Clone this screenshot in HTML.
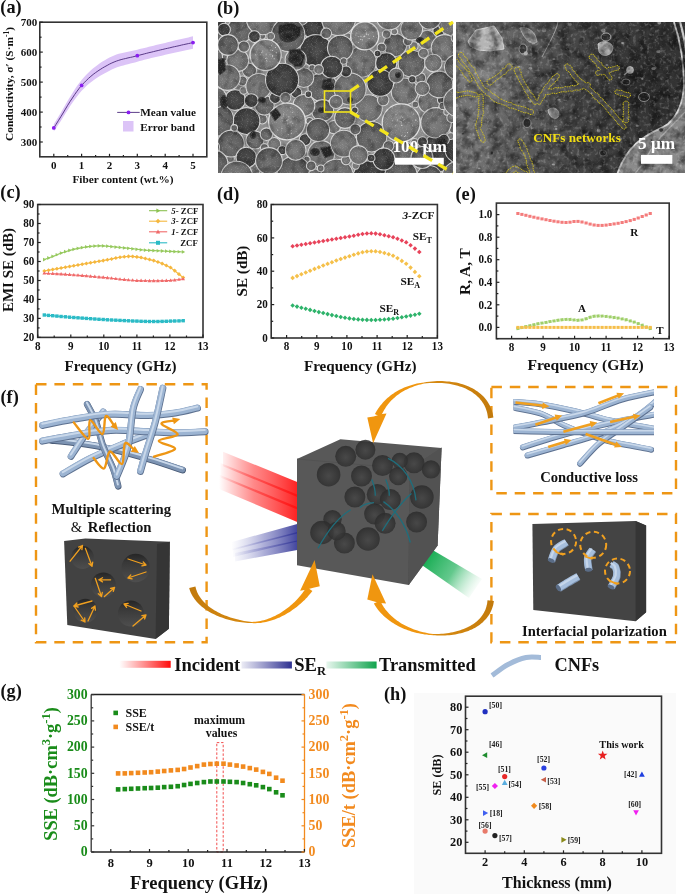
<!DOCTYPE html>
<html><head><meta charset="utf-8"><style>
html,body{margin:0;padding:0;background:#fff;overflow:hidden;}
svg{display:block;}
text{font-family:'Liberation Serif','Times New Roman',serif;}
</style></head><body>
<svg width="685" height="894" viewBox="0 0 685 894">
<rect width="685" height="894" fill="#fff"/>
<text x="0.3" y="13.3" font-size="18.3" text-anchor="start" fill="#111" font-weight="bold" >(a)</text>
<path d="M53.8,124.3 L56.1,120.6 L58.4,116.7 L60.8,112.7 L63.1,108.8 L65.4,104.8 L67.7,100.8 L70.0,96.9 L72.4,93.2 L74.7,89.6 L77.0,86.1 L79.3,82.9 L81.6,80.0 L84.0,77.3 L86.3,74.8 L88.6,72.5 L90.9,70.3 L93.2,68.3 L95.6,66.5 L97.9,64.7 L100.2,63.1 L102.5,61.6 L104.8,60.2 L107.2,58.8 L109.5,57.5 L111.8,56.4 L114.1,55.4 L116.4,54.5 L118.8,53.8 L121.1,53.2 L123.4,52.7 L125.7,52.2 L128.0,51.7 L130.4,51.3 L132.7,50.8 L135.0,50.3 L137.3,49.7 L139.6,49.1 L142.0,48.5 L144.3,48.0 L146.6,47.4 L148.9,46.8 L151.2,46.2 L153.6,45.7 L155.9,45.1 L158.2,44.5 L160.5,44.0 L162.8,43.4 L165.2,42.9 L167.5,42.3 L169.8,41.7 L172.1,41.2 L174.4,40.6 L176.8,40.1 L179.1,39.5 L181.4,39.0 L183.7,38.4 L186.0,37.9 L188.4,37.4 L190.7,36.8 L193.0,36.3 L193.0,48.8 L190.7,49.3 L188.4,49.8 L186.0,50.3 L183.7,50.8 L181.4,51.3 L179.1,51.8 L176.8,52.3 L174.4,52.8 L172.1,53.3 L169.8,53.8 L167.5,54.3 L165.2,54.8 L162.8,55.4 L160.5,55.9 L158.2,56.4 L155.9,57.0 L153.6,57.5 L151.2,58.1 L148.9,58.7 L146.6,59.2 L144.3,59.8 L142.0,60.4 L139.6,61.1 L137.3,61.7 L135.0,62.4 L132.7,63.0 L130.4,63.6 L128.0,64.2 L125.7,64.8 L123.4,65.4 L121.1,66.1 L118.8,66.8 L116.4,67.6 L114.1,68.6 L111.8,69.6 L109.5,70.7 L107.2,71.9 L104.8,73.2 L102.5,74.5 L100.2,75.8 L97.9,77.2 L95.6,78.8 L93.2,80.4 L90.9,82.2 L88.6,84.1 L86.3,86.1 L84.0,88.4 L81.6,90.8 L79.3,93.5 L77.0,96.4 L74.7,99.5 L72.4,102.8 L70.0,106.3 L67.7,109.9 L65.4,113.5 L63.1,117.2 L60.8,120.9 L58.4,124.5 L56.1,128.1 L53.8,131.5 Z" fill="#dcc4f7"/>
<path d="M53.8,127.9 L56.1,124.3 L58.4,120.6 L60.8,116.8 L63.1,113.0 L65.4,109.1 L67.7,105.3 L70.0,101.6 L72.4,98.0 L74.7,94.5 L77.0,91.3 L79.3,88.2 L81.6,85.4 L84.0,82.8 L86.3,80.5 L88.6,78.3 L90.9,76.3 L93.2,74.4 L95.6,72.6 L97.9,71.0 L100.2,69.5 L102.5,68.0 L104.8,66.7 L107.2,65.4 L109.5,64.1 L111.8,63.0 L114.1,62.0 L116.4,61.1 L118.8,60.3 L121.1,59.6 L123.4,59.0 L125.7,58.5 L128.0,57.9 L130.4,57.4 L132.7,56.9 L135.0,56.3 L137.3,55.7 L139.6,55.1 L142.0,54.5 L144.3,53.9 L146.6,53.3 L148.9,52.7 L151.2,52.2 L153.6,51.6 L155.9,51.0 L158.2,50.5 L160.5,49.9 L162.8,49.4 L165.2,48.8 L167.5,48.3 L169.8,47.8 L172.1,47.2 L174.4,46.7 L176.8,46.2 L179.1,45.7 L181.4,45.1 L183.7,44.6 L186.0,44.1 L188.4,43.6 L190.7,43.1 L193.0,42.6" fill="none" stroke="#4b2a7a" stroke-width="0.9"/>
<circle cx="53.8" cy="127.9" r="1.9" fill="#8a1ef0"/>
<circle cx="81.6" cy="85.4" r="1.9" fill="#8a1ef0"/>
<circle cx="137.3" cy="55.7" r="1.9" fill="#8a1ef0"/>
<circle cx="193.0" cy="42.6" r="1.9" fill="#8a1ef0"/>
<rect x="39.8" y="22.2" width="167.0" height="134.6" fill="none" stroke="#333" stroke-width="1.6" />
<line x1="53.8" y1="156.8" x2="53.8" y2="153.8" stroke="#222" stroke-width="1.2" />
<text x="53.8" y="169.0" font-size="11" text-anchor="middle" fill="#111" font-weight="bold" >0</text>
<line x1="67.7" y1="156.8" x2="67.7" y2="155.0" stroke="#222" stroke-width="1.2" />
<line x1="81.6" y1="156.8" x2="81.6" y2="153.8" stroke="#222" stroke-width="1.2" />
<text x="81.6" y="169.0" font-size="11" text-anchor="middle" fill="#111" font-weight="bold" >1</text>
<line x1="95.6" y1="156.8" x2="95.6" y2="155.0" stroke="#222" stroke-width="1.2" />
<line x1="109.5" y1="156.8" x2="109.5" y2="153.8" stroke="#222" stroke-width="1.2" />
<text x="109.5" y="169.0" font-size="11" text-anchor="middle" fill="#111" font-weight="bold" >2</text>
<line x1="123.4" y1="156.8" x2="123.4" y2="155.0" stroke="#222" stroke-width="1.2" />
<line x1="137.3" y1="156.8" x2="137.3" y2="153.8" stroke="#222" stroke-width="1.2" />
<text x="137.3" y="169.0" font-size="11" text-anchor="middle" fill="#111" font-weight="bold" >3</text>
<line x1="151.2" y1="156.8" x2="151.2" y2="155.0" stroke="#222" stroke-width="1.2" />
<line x1="165.2" y1="156.8" x2="165.2" y2="153.8" stroke="#222" stroke-width="1.2" />
<text x="165.2" y="169.0" font-size="11" text-anchor="middle" fill="#111" font-weight="bold" >4</text>
<line x1="179.1" y1="156.8" x2="179.1" y2="155.0" stroke="#222" stroke-width="1.2" />
<line x1="193.0" y1="156.8" x2="193.0" y2="153.8" stroke="#222" stroke-width="1.2" />
<text x="193.0" y="169.0" font-size="11" text-anchor="middle" fill="#111" font-weight="bold" >5</text>
<line x1="39.8" y1="142.0" x2="42.8" y2="142.0" stroke="#222" stroke-width="1.2" />
<text x="37.3" y="145.8" font-size="11" text-anchor="end" fill="#111" font-weight="bold" >300</text>
<line x1="39.8" y1="112.1" x2="42.8" y2="112.1" stroke="#222" stroke-width="1.2" />
<text x="37.3" y="115.9" font-size="11" text-anchor="end" fill="#111" font-weight="bold" >400</text>
<line x1="39.8" y1="82.1" x2="42.8" y2="82.1" stroke="#222" stroke-width="1.2" />
<text x="37.3" y="85.9" font-size="11" text-anchor="end" fill="#111" font-weight="bold" >500</text>
<line x1="39.8" y1="52.1" x2="42.8" y2="52.1" stroke="#222" stroke-width="1.2" />
<text x="37.3" y="55.9" font-size="11" text-anchor="end" fill="#111" font-weight="bold" >600</text>
<line x1="39.8" y1="22.2" x2="42.8" y2="22.2" stroke="#222" stroke-width="1.2" />
<text x="37.3" y="26.0" font-size="11" text-anchor="end" fill="#111" font-weight="bold" >700</text>
<line x1="39.8" y1="127.0" x2="41.6" y2="127.0" stroke="#222" stroke-width="1.2" />
<line x1="39.8" y1="97.1" x2="41.6" y2="97.1" stroke="#222" stroke-width="1.2" />
<line x1="39.8" y1="67.1" x2="41.6" y2="67.1" stroke="#222" stroke-width="1.2" />
<line x1="39.8" y1="37.2" x2="41.6" y2="37.2" stroke="#222" stroke-width="1.2" />
<text x="123.0" y="182.5" font-size="11.3" text-anchor="middle" fill="#111" font-weight="bold" >Fiber content (wt.%)</text>
<text transform="translate(13.2,84) rotate(-90)" font-size="11.4" text-anchor="middle" font-weight="bold" fill="#111">Conductivity, σ′ (S·m<tspan dy="-4" font-size="7.5">-1</tspan><tspan dy="4">)</tspan></text>
<line x1="117.2" y1="112.4" x2="139.7" y2="112.4" stroke="#4b2a7a" stroke-width="0.9" />
<circle cx="128.5" cy="112.4" r="1.9" fill="#8a1ef0"/>
<text x="140.3" y="116.3" font-size="11.2" text-anchor="start" fill="#111" font-weight="bold" >Mean value</text>
<rect x="123.0" y="121.0" width="10.5" height="10.5" fill="#dcc4f7" stroke="none" stroke-width="1" />
<text x="140.3" y="130.5" font-size="11.2" text-anchor="start" fill="#111" font-weight="bold" >Error band</text>
<text x="0.3" y="198.1" font-size="18.3" text-anchor="start" fill="#111" font-weight="bold" >(c)</text>
<path d="M44.3,259.6 L48.5,258.0 L52.7,256.4 L56.9,254.7 L61.1,253.1 L65.4,251.7 L69.6,250.4 L73.8,249.3 L78.0,248.4 L82.2,247.6 L86.4,246.9 L90.6,246.4 L94.8,246.0 L99.0,245.8 L103.2,245.9 L107.4,246.2 L111.6,246.6 L115.8,247.0 L120.0,247.5 L124.3,247.9 L128.5,248.3 L132.7,248.8 L136.9,249.3 L141.1,249.8 L145.3,250.2 L149.5,250.4 L153.7,250.6 L157.9,250.8 L162.1,251.0 L166.3,251.2 L170.5,251.4 L174.7,251.6 L179.0,251.8 L183.2,252.0" fill="none" stroke="#96c95e" stroke-width="1.1"/>
<path d="M46.4,259.6 L43.0,257.7 L43.0,261.4Z" fill="#96c95e"/>
<path d="M50.6,258.0 L47.2,256.1 L47.2,259.9Z" fill="#96c95e"/>
<path d="M54.8,256.4 L51.4,254.5 L51.4,258.2Z" fill="#96c95e"/>
<path d="M59.0,254.7 L55.6,252.9 L55.6,256.6Z" fill="#96c95e"/>
<path d="M63.2,253.1 L59.8,251.3 L59.8,255.0Z" fill="#96c95e"/>
<path d="M67.4,251.7 L64.0,249.8 L64.0,253.5Z" fill="#96c95e"/>
<path d="M71.6,250.4 L68.2,248.5 L68.2,252.3Z" fill="#96c95e"/>
<path d="M75.8,249.3 L72.4,247.5 L72.4,251.2Z" fill="#96c95e"/>
<path d="M80.0,248.4 L76.6,246.5 L76.6,250.3Z" fill="#96c95e"/>
<path d="M84.2,247.6 L80.8,245.7 L80.8,249.4Z" fill="#96c95e"/>
<path d="M88.4,246.9 L85.0,245.0 L85.0,248.8Z" fill="#96c95e"/>
<path d="M92.6,246.4 L89.2,244.5 L89.2,248.3Z" fill="#96c95e"/>
<path d="M96.8,246.0 L93.4,244.2 L93.4,247.9Z" fill="#96c95e"/>
<path d="M101.1,245.8 L97.7,244.0 L97.7,247.7Z" fill="#96c95e"/>
<path d="M105.3,245.9 L101.9,244.0 L101.9,247.8Z" fill="#96c95e"/>
<path d="M109.5,246.2 L106.1,244.3 L106.1,248.0Z" fill="#96c95e"/>
<path d="M113.7,246.6 L110.3,244.7 L110.3,248.4Z" fill="#96c95e"/>
<path d="M117.9,247.0 L114.5,245.2 L114.5,248.9Z" fill="#96c95e"/>
<path d="M122.1,247.5 L118.7,245.6 L118.7,249.3Z" fill="#96c95e"/>
<path d="M126.3,247.9 L122.9,246.0 L122.9,249.7Z" fill="#96c95e"/>
<path d="M130.5,248.3 L127.1,246.5 L127.1,250.2Z" fill="#96c95e"/>
<path d="M134.7,248.8 L131.3,247.0 L131.3,250.7Z" fill="#96c95e"/>
<path d="M138.9,249.3 L135.5,247.5 L135.5,251.2Z" fill="#96c95e"/>
<path d="M143.1,249.8 L139.7,247.9 L139.7,251.7Z" fill="#96c95e"/>
<path d="M147.3,250.2 L143.9,248.3 L143.9,252.0Z" fill="#96c95e"/>
<path d="M151.5,250.4 L148.1,248.5 L148.1,252.3Z" fill="#96c95e"/>
<path d="M155.8,250.6 L152.4,248.7 L152.4,252.5Z" fill="#96c95e"/>
<path d="M160.0,250.8 L156.6,248.9 L156.6,252.7Z" fill="#96c95e"/>
<path d="M164.2,251.0 L160.8,249.1 L160.8,252.9Z" fill="#96c95e"/>
<path d="M168.4,251.2 L165.0,249.3 L165.0,253.1Z" fill="#96c95e"/>
<path d="M172.6,251.4 L169.2,249.5 L169.2,253.3Z" fill="#96c95e"/>
<path d="M176.8,251.6 L173.4,249.7 L173.4,253.4Z" fill="#96c95e"/>
<path d="M181.0,251.8 L177.6,249.9 L177.6,253.6Z" fill="#96c95e"/>
<path d="M185.2,252.0 L181.8,250.1 L181.8,253.8Z" fill="#96c95e"/>
<path d="M44.3,271.0 L48.5,270.2 L52.7,269.5 L56.9,268.8 L61.1,268.0 L65.4,267.3 L69.6,266.5 L73.8,265.7 L78.0,265.0 L82.2,264.3 L86.4,263.5 L90.6,262.7 L94.8,262.0 L99.0,261.3 L103.2,260.6 L107.4,259.8 L111.6,258.9 L115.8,258.0 L120.0,257.3 L124.3,256.7 L128.5,256.4 L132.7,256.4 L136.9,256.9 L141.1,257.6 L145.3,258.5 L149.5,259.6 L153.7,260.6 L157.9,262.1 L162.1,263.6 L166.3,265.4 L170.5,267.6 L174.7,270.7 L179.0,274.2 L183.2,277.6" fill="none" stroke="#f5b73e" stroke-width="1.1"/>
<path d="M44.3,268.9 L46.4,271.0 L44.3,273.0 L42.3,271.0Z" fill="#f5b73e"/>
<path d="M48.5,268.2 L50.6,270.2 L48.5,272.3 L46.5,270.2Z" fill="#f5b73e"/>
<path d="M52.7,267.4 L54.8,269.5 L52.7,271.5 L50.7,269.5Z" fill="#f5b73e"/>
<path d="M56.9,266.7 L59.0,268.8 L56.9,270.8 L54.9,268.8Z" fill="#f5b73e"/>
<path d="M61.1,266.0 L63.2,268.0 L61.1,270.1 L59.1,268.0Z" fill="#f5b73e"/>
<path d="M65.4,265.2 L67.4,267.3 L65.4,269.3 L63.3,267.3Z" fill="#f5b73e"/>
<path d="M69.6,264.4 L71.6,266.5 L69.6,268.5 L67.5,266.5Z" fill="#f5b73e"/>
<path d="M73.8,263.7 L75.8,265.7 L73.8,267.8 L71.7,265.7Z" fill="#f5b73e"/>
<path d="M78.0,263.0 L80.0,265.0 L78.0,267.0 L75.9,265.0Z" fill="#f5b73e"/>
<path d="M82.2,262.2 L84.2,264.3 L82.2,266.3 L80.1,264.3Z" fill="#f5b73e"/>
<path d="M86.4,261.5 L88.4,263.5 L86.4,265.5 L84.3,263.5Z" fill="#f5b73e"/>
<path d="M90.6,260.7 L92.6,262.7 L90.6,264.8 L88.6,262.7Z" fill="#f5b73e"/>
<path d="M94.8,260.0 L96.8,262.0 L94.8,264.0 L92.8,262.0Z" fill="#f5b73e"/>
<path d="M99.0,259.2 L101.1,261.3 L99.0,263.3 L97.0,261.3Z" fill="#f5b73e"/>
<path d="M103.2,258.6 L105.3,260.6 L103.2,262.7 L101.2,260.6Z" fill="#f5b73e"/>
<path d="M107.4,257.8 L109.5,259.8 L107.4,261.8 L105.4,259.8Z" fill="#f5b73e"/>
<path d="M111.6,256.9 L113.7,258.9 L111.6,261.0 L109.6,258.9Z" fill="#f5b73e"/>
<path d="M115.8,256.0 L117.9,258.0 L115.8,260.1 L113.8,258.0Z" fill="#f5b73e"/>
<path d="M120.0,255.2 L122.1,257.3 L120.0,259.3 L118.0,257.3Z" fill="#f5b73e"/>
<path d="M124.3,254.7 L126.3,256.7 L124.3,258.7 L122.2,256.7Z" fill="#f5b73e"/>
<path d="M128.5,254.3 L130.5,256.4 L128.5,258.4 L126.4,256.4Z" fill="#f5b73e"/>
<path d="M132.7,254.4 L134.7,256.4 L132.7,258.5 L130.6,256.4Z" fill="#f5b73e"/>
<path d="M136.9,254.8 L138.9,256.9 L136.9,258.9 L134.8,256.9Z" fill="#f5b73e"/>
<path d="M141.1,255.6 L143.1,257.6 L141.1,259.6 L139.0,257.6Z" fill="#f5b73e"/>
<path d="M145.3,256.5 L147.3,258.5 L145.3,260.6 L143.3,258.5Z" fill="#f5b73e"/>
<path d="M149.5,257.5 L151.5,259.6 L149.5,261.6 L147.5,259.6Z" fill="#f5b73e"/>
<path d="M153.7,258.6 L155.8,260.6 L153.7,262.7 L151.7,260.6Z" fill="#f5b73e"/>
<path d="M157.9,260.0 L160.0,262.1 L157.9,264.1 L155.9,262.1Z" fill="#f5b73e"/>
<path d="M162.1,261.6 L164.2,263.6 L162.1,265.7 L160.1,263.6Z" fill="#f5b73e"/>
<path d="M166.3,263.4 L168.4,265.4 L166.3,267.5 L164.3,265.4Z" fill="#f5b73e"/>
<path d="M170.5,265.5 L172.6,267.6 L170.5,269.6 L168.5,267.6Z" fill="#f5b73e"/>
<path d="M174.7,268.6 L176.8,270.7 L174.7,272.7 L172.7,270.7Z" fill="#f5b73e"/>
<path d="M179.0,272.1 L181.0,274.2 L179.0,276.2 L176.9,274.2Z" fill="#f5b73e"/>
<path d="M183.2,275.6 L185.2,277.6 L183.2,279.7 L181.1,277.6Z" fill="#f5b73e"/>
<path d="M44.3,273.2 L48.5,273.5 L52.7,273.7 L56.9,273.9 L61.1,274.1 L65.4,274.4 L69.6,274.7 L73.8,275.0 L78.0,275.3 L82.2,275.6 L86.4,275.9 L90.6,276.3 L94.8,276.7 L99.0,277.0 L103.2,277.4 L107.4,277.8 L111.6,278.3 L115.8,278.7 L120.0,279.2 L124.3,279.6 L128.5,280.0 L132.7,280.3 L136.9,280.5 L141.1,280.7 L145.3,280.8 L149.5,280.8 L153.7,280.9 L157.9,280.8 L162.1,280.7 L166.3,280.6 L170.5,280.4 L174.7,280.0 L179.0,279.5 L183.2,278.9" fill="none" stroke="#f06a6a" stroke-width="1.1"/>
<path d="M44.3,271.2 L46.2,274.6 L42.4,274.6Z" fill="#f06a6a"/>
<path d="M48.5,271.4 L50.4,274.8 L46.6,274.8Z" fill="#f06a6a"/>
<path d="M52.7,271.6 L54.6,275.0 L50.9,275.0Z" fill="#f06a6a"/>
<path d="M56.9,271.9 L58.8,275.3 L55.1,275.3Z" fill="#f06a6a"/>
<path d="M61.1,272.1 L63.0,275.5 L59.3,275.5Z" fill="#f06a6a"/>
<path d="M65.4,272.3 L67.2,275.7 L63.5,275.7Z" fill="#f06a6a"/>
<path d="M69.6,272.6 L71.4,276.0 L67.7,276.0Z" fill="#f06a6a"/>
<path d="M73.8,272.9 L75.6,276.3 L71.9,276.3Z" fill="#f06a6a"/>
<path d="M78.0,273.2 L79.8,276.6 L76.1,276.6Z" fill="#f06a6a"/>
<path d="M82.2,273.6 L84.1,277.0 L80.3,277.0Z" fill="#f06a6a"/>
<path d="M86.4,273.9 L88.3,277.3 L84.5,277.3Z" fill="#f06a6a"/>
<path d="M90.6,274.3 L92.5,277.7 L88.7,277.7Z" fill="#f06a6a"/>
<path d="M94.8,274.6 L96.7,278.0 L92.9,278.0Z" fill="#f06a6a"/>
<path d="M99.0,275.0 L100.9,278.4 L97.1,278.4Z" fill="#f06a6a"/>
<path d="M103.2,275.3 L105.1,278.7 L101.3,278.7Z" fill="#f06a6a"/>
<path d="M107.4,275.8 L109.3,279.2 L105.6,279.2Z" fill="#f06a6a"/>
<path d="M111.6,276.2 L113.5,279.6 L109.8,279.6Z" fill="#f06a6a"/>
<path d="M115.8,276.7 L117.7,280.1 L114.0,280.1Z" fill="#f06a6a"/>
<path d="M120.0,277.2 L121.9,280.6 L118.2,280.6Z" fill="#f06a6a"/>
<path d="M124.3,277.6 L126.1,281.0 L122.4,281.0Z" fill="#f06a6a"/>
<path d="M128.5,277.9 L130.3,281.3 L126.6,281.3Z" fill="#f06a6a"/>
<path d="M132.7,278.2 L134.5,281.6 L130.8,281.6Z" fill="#f06a6a"/>
<path d="M136.9,278.5 L138.8,281.9 L135.0,281.9Z" fill="#f06a6a"/>
<path d="M141.1,278.6 L143.0,282.0 L139.2,282.0Z" fill="#f06a6a"/>
<path d="M145.3,278.7 L147.2,282.1 L143.4,282.1Z" fill="#f06a6a"/>
<path d="M149.5,278.8 L151.4,282.2 L147.6,282.2Z" fill="#f06a6a"/>
<path d="M153.7,278.8 L155.6,282.2 L151.8,282.2Z" fill="#f06a6a"/>
<path d="M157.9,278.8 L159.8,282.2 L156.0,282.2Z" fill="#f06a6a"/>
<path d="M162.1,278.7 L164.0,282.1 L160.3,282.1Z" fill="#f06a6a"/>
<path d="M166.3,278.6 L168.2,282.0 L164.5,282.0Z" fill="#f06a6a"/>
<path d="M170.5,278.4 L172.4,281.8 L168.7,281.8Z" fill="#f06a6a"/>
<path d="M174.7,278.0 L176.6,281.4 L172.9,281.4Z" fill="#f06a6a"/>
<path d="M179.0,277.4 L180.8,280.8 L177.1,280.8Z" fill="#f06a6a"/>
<path d="M183.2,276.9 L185.0,280.3 L181.3,280.3Z" fill="#f06a6a"/>
<path d="M44.3,315.0 L48.5,315.4 L52.7,315.7 L56.9,316.1 L61.1,316.5 L65.4,316.8 L69.6,317.2 L73.8,317.5 L78.0,317.8 L82.2,318.1 L86.4,318.4 L90.6,318.7 L94.8,319.0 L99.0,319.3 L103.2,319.5 L107.4,319.8 L111.6,320.0 L115.8,320.2 L120.0,320.4 L124.3,320.6 L128.5,320.8 L132.7,321.0 L136.9,321.1 L141.1,321.3 L145.3,321.4 L149.5,321.5 L153.7,321.5 L157.9,321.5 L162.1,321.4 L166.3,321.3 L170.5,321.1 L174.7,321.0 L179.0,320.9 L183.2,320.7" fill="none" stroke="#2bbbc6" stroke-width="1.1"/>
<rect x="42.6" y="313.3" width="3.4" height="3.4" fill="#2bbbc6"/>
<rect x="46.8" y="313.7" width="3.4" height="3.4" fill="#2bbbc6"/>
<rect x="51.0" y="314.0" width="3.4" height="3.4" fill="#2bbbc6"/>
<rect x="55.2" y="314.4" width="3.4" height="3.4" fill="#2bbbc6"/>
<rect x="59.4" y="314.8" width="3.4" height="3.4" fill="#2bbbc6"/>
<rect x="63.7" y="315.1" width="3.4" height="3.4" fill="#2bbbc6"/>
<rect x="67.9" y="315.5" width="3.4" height="3.4" fill="#2bbbc6"/>
<rect x="72.1" y="315.8" width="3.4" height="3.4" fill="#2bbbc6"/>
<rect x="76.3" y="316.1" width="3.4" height="3.4" fill="#2bbbc6"/>
<rect x="80.5" y="316.4" width="3.4" height="3.4" fill="#2bbbc6"/>
<rect x="84.7" y="316.7" width="3.4" height="3.4" fill="#2bbbc6"/>
<rect x="88.9" y="317.0" width="3.4" height="3.4" fill="#2bbbc6"/>
<rect x="93.1" y="317.3" width="3.4" height="3.4" fill="#2bbbc6"/>
<rect x="97.3" y="317.6" width="3.4" height="3.4" fill="#2bbbc6"/>
<rect x="101.5" y="317.8" width="3.4" height="3.4" fill="#2bbbc6"/>
<rect x="105.7" y="318.1" width="3.4" height="3.4" fill="#2bbbc6"/>
<rect x="109.9" y="318.3" width="3.4" height="3.4" fill="#2bbbc6"/>
<rect x="114.1" y="318.5" width="3.4" height="3.4" fill="#2bbbc6"/>
<rect x="118.3" y="318.7" width="3.4" height="3.4" fill="#2bbbc6"/>
<rect x="122.6" y="318.9" width="3.4" height="3.4" fill="#2bbbc6"/>
<rect x="126.8" y="319.1" width="3.4" height="3.4" fill="#2bbbc6"/>
<rect x="131.0" y="319.3" width="3.4" height="3.4" fill="#2bbbc6"/>
<rect x="135.2" y="319.4" width="3.4" height="3.4" fill="#2bbbc6"/>
<rect x="139.4" y="319.6" width="3.4" height="3.4" fill="#2bbbc6"/>
<rect x="143.6" y="319.7" width="3.4" height="3.4" fill="#2bbbc6"/>
<rect x="147.8" y="319.8" width="3.4" height="3.4" fill="#2bbbc6"/>
<rect x="152.0" y="319.8" width="3.4" height="3.4" fill="#2bbbc6"/>
<rect x="156.2" y="319.8" width="3.4" height="3.4" fill="#2bbbc6"/>
<rect x="160.4" y="319.7" width="3.4" height="3.4" fill="#2bbbc6"/>
<rect x="164.6" y="319.6" width="3.4" height="3.4" fill="#2bbbc6"/>
<rect x="168.8" y="319.4" width="3.4" height="3.4" fill="#2bbbc6"/>
<rect x="173.0" y="319.3" width="3.4" height="3.4" fill="#2bbbc6"/>
<rect x="177.3" y="319.2" width="3.4" height="3.4" fill="#2bbbc6"/>
<rect x="181.5" y="319.0" width="3.4" height="3.4" fill="#2bbbc6"/>
<rect x="37.7" y="204.5" width="165.3" height="132.9" fill="none" stroke="#333" stroke-width="1.6" />
<line x1="37.7" y1="337.4" x2="37.7" y2="334.4" stroke="#222" stroke-width="1.2" />
<text transform="translate(37.7,349.7) scale(1,1.12)" font-size="11.1" text-anchor="middle" fill="#111" font-weight="bold">8</text>
<line x1="54.2" y1="337.4" x2="54.2" y2="335.5" stroke="#222" stroke-width="1.2" />
<line x1="70.8" y1="337.4" x2="70.8" y2="334.4" stroke="#222" stroke-width="1.2" />
<text transform="translate(70.8,349.7) scale(1,1.12)" font-size="11.1" text-anchor="middle" fill="#111" font-weight="bold">9</text>
<line x1="87.3" y1="337.4" x2="87.3" y2="335.5" stroke="#222" stroke-width="1.2" />
<line x1="103.8" y1="337.4" x2="103.8" y2="334.4" stroke="#222" stroke-width="1.2" />
<text transform="translate(103.8,349.7) scale(1,1.12)" font-size="11.1" text-anchor="middle" fill="#111" font-weight="bold">10</text>
<line x1="120.4" y1="337.4" x2="120.4" y2="335.5" stroke="#222" stroke-width="1.2" />
<line x1="136.9" y1="337.4" x2="136.9" y2="334.4" stroke="#222" stroke-width="1.2" />
<text transform="translate(136.9,349.7) scale(1,1.12)" font-size="11.1" text-anchor="middle" fill="#111" font-weight="bold">11</text>
<line x1="153.4" y1="337.4" x2="153.4" y2="335.5" stroke="#222" stroke-width="1.2" />
<line x1="169.9" y1="337.4" x2="169.9" y2="334.4" stroke="#222" stroke-width="1.2" />
<text transform="translate(169.9,349.7) scale(1,1.12)" font-size="11.1" text-anchor="middle" fill="#111" font-weight="bold">12</text>
<line x1="186.5" y1="337.4" x2="186.5" y2="335.5" stroke="#222" stroke-width="1.2" />
<line x1="203.0" y1="337.4" x2="203.0" y2="334.4" stroke="#222" stroke-width="1.2" />
<text transform="translate(203.0,349.7) scale(1,1.12)" font-size="11.1" text-anchor="middle" fill="#111" font-weight="bold">13</text>
<line x1="37.7" y1="337.4" x2="40.7" y2="337.4" stroke="#222" stroke-width="1.2" />
<text transform="translate(34.4,341.1) scale(1,1.12)" font-size="11.1" text-anchor="end" fill="#111" font-weight="bold">20</text>
<line x1="37.7" y1="327.9" x2="39.6" y2="327.9" stroke="#222" stroke-width="1.2" />
<line x1="37.7" y1="318.4" x2="40.7" y2="318.4" stroke="#222" stroke-width="1.2" />
<text transform="translate(34.4,322.1) scale(1,1.12)" font-size="11.1" text-anchor="end" fill="#111" font-weight="bold">30</text>
<line x1="37.7" y1="308.9" x2="39.6" y2="308.9" stroke="#222" stroke-width="1.2" />
<line x1="37.7" y1="299.4" x2="40.7" y2="299.4" stroke="#222" stroke-width="1.2" />
<text transform="translate(34.4,303.1) scale(1,1.12)" font-size="11.1" text-anchor="end" fill="#111" font-weight="bold">40</text>
<line x1="37.7" y1="290.0" x2="39.6" y2="290.0" stroke="#222" stroke-width="1.2" />
<line x1="37.7" y1="280.5" x2="40.7" y2="280.5" stroke="#222" stroke-width="1.2" />
<text transform="translate(34.4,284.2) scale(1,1.12)" font-size="11.1" text-anchor="end" fill="#111" font-weight="bold">50</text>
<line x1="37.7" y1="271.0" x2="39.6" y2="271.0" stroke="#222" stroke-width="1.2" />
<line x1="37.7" y1="261.5" x2="40.7" y2="261.5" stroke="#222" stroke-width="1.2" />
<text transform="translate(34.4,265.2) scale(1,1.12)" font-size="11.1" text-anchor="end" fill="#111" font-weight="bold">60</text>
<line x1="37.7" y1="252.0" x2="39.6" y2="252.0" stroke="#222" stroke-width="1.2" />
<line x1="37.7" y1="242.5" x2="40.7" y2="242.5" stroke="#222" stroke-width="1.2" />
<text transform="translate(34.4,246.2) scale(1,1.12)" font-size="11.1" text-anchor="end" fill="#111" font-weight="bold">70</text>
<line x1="37.7" y1="233.0" x2="39.6" y2="233.0" stroke="#222" stroke-width="1.2" />
<line x1="37.7" y1="223.5" x2="40.7" y2="223.5" stroke="#222" stroke-width="1.2" />
<text transform="translate(34.4,227.2) scale(1,1.12)" font-size="11.1" text-anchor="end" fill="#111" font-weight="bold">80</text>
<line x1="37.7" y1="214.0" x2="39.6" y2="214.0" stroke="#222" stroke-width="1.2" />
<line x1="37.7" y1="204.5" x2="40.7" y2="204.5" stroke="#222" stroke-width="1.2" />
<text transform="translate(34.4,208.2) scale(1,1.12)" font-size="11.1" text-anchor="end" fill="#111" font-weight="bold">90</text>
<text x="120.5" y="371.0" font-size="15" text-anchor="middle" fill="#111" font-weight="bold" >Frequency (GHz)</text>
<text transform="translate(13.4,270) rotate(-90)" font-size="15" text-anchor="middle" font-weight="bold" fill="#111">EMI SE (dB)</text>
<line x1="149.0" y1="210.7" x2="167.2" y2="210.7" stroke="#8cc152" stroke-width="1.1" />
<path d="M160.4,210.7 L156.4,208.5 L156.4,212.9Z" fill="#8cc152"/>
<text x="171.3" y="213.7" font-size="8.8" font-weight="bold" fill="#111"><tspan font-style="italic">5</tspan>- ZCF</text>
<line x1="149.0" y1="221.2" x2="167.2" y2="221.2" stroke="#f5b73e" stroke-width="1.1" />
<path d="M158.0,218.8 L160.4,221.2 L158.0,223.6 L155.6,221.2Z" fill="#f5b73e"/>
<text x="171.3" y="224.2" font-size="8.8" font-weight="bold" fill="#111"><tspan font-style="italic">3</tspan>- ZCF</text>
<line x1="149.0" y1="231.8" x2="167.2" y2="231.8" stroke="#f06a6a" stroke-width="1.1" />
<path d="M158.0,229.4 L160.2,233.4 L155.8,233.4Z" fill="#f06a6a"/>
<text x="171.3" y="234.8" font-size="8.8" font-weight="bold" fill="#111"><tspan font-style="italic">1</tspan>- ZCF</text>
<line x1="149.0" y1="242.8" x2="167.2" y2="242.8" stroke="#2bbbc6" stroke-width="1.1" />
<rect x="156.0" y="240.8" width="4.0" height="4.0" fill="#2bbbc6"/>
<text x="197.8" y="245.8" font-size="8.8" font-weight="bold" text-anchor="end" fill="#111">ZCF</text>
<text x="217.0" y="199.5" font-size="18.3" text-anchor="start" fill="#111" font-weight="bold" >(d)</text>
<path d="M292.6,243.9 L294.9,246.2 L292.6,248.5 L290.4,246.2Z" fill="#e8435a"/>
<path d="M297.0,243.2 L299.3,245.5 L297.0,247.7 L294.7,245.5Z" fill="#e8435a"/>
<path d="M301.4,242.4 L303.6,244.7 L301.4,247.0 L299.1,244.7Z" fill="#e8435a"/>
<path d="M305.7,241.7 L308.0,244.0 L305.7,246.3 L303.5,244.0Z" fill="#e8435a"/>
<path d="M310.1,241.0 L312.4,243.2 L310.1,245.5 L307.8,243.2Z" fill="#e8435a"/>
<path d="M314.5,240.2 L316.8,242.5 L314.5,244.7 L312.2,242.5Z" fill="#e8435a"/>
<path d="M318.8,239.4 L321.1,241.7 L318.8,244.0 L316.6,241.7Z" fill="#e8435a"/>
<path d="M323.2,238.7 L325.5,241.0 L323.2,243.3 L320.9,241.0Z" fill="#e8435a"/>
<path d="M327.6,238.0 L329.9,240.2 L327.6,242.5 L325.3,240.2Z" fill="#e8435a"/>
<path d="M331.9,237.2 L334.2,239.5 L331.9,241.8 L329.7,239.5Z" fill="#e8435a"/>
<path d="M336.3,236.4 L338.6,238.7 L336.3,241.0 L334.0,238.7Z" fill="#e8435a"/>
<path d="M340.7,235.7 L343.0,238.0 L340.7,240.3 L338.4,238.0Z" fill="#e8435a"/>
<path d="M345.0,235.0 L347.3,237.3 L345.0,239.6 L342.8,237.3Z" fill="#e8435a"/>
<path d="M349.4,234.3 L351.7,236.6 L349.4,238.8 L347.1,236.6Z" fill="#e8435a"/>
<path d="M353.8,233.4 L356.1,235.7 L353.8,238.0 L351.5,235.7Z" fill="#e8435a"/>
<path d="M358.2,232.5 L360.4,234.8 L358.2,237.1 L355.9,234.8Z" fill="#e8435a"/>
<path d="M362.5,231.8 L364.8,234.1 L362.5,236.3 L360.2,234.1Z" fill="#e8435a"/>
<path d="M366.9,231.3 L369.2,233.5 L366.9,235.8 L364.6,233.5Z" fill="#e8435a"/>
<path d="M371.3,231.1 L373.5,233.4 L371.3,235.6 L369.0,233.4Z" fill="#e8435a"/>
<path d="M375.6,231.3 L377.9,233.6 L375.6,235.9 L373.3,233.6Z" fill="#e8435a"/>
<path d="M380.0,232.0 L382.3,234.3 L380.0,236.6 L377.7,234.3Z" fill="#e8435a"/>
<path d="M384.4,232.9 L386.6,235.2 L384.4,237.5 L382.1,235.2Z" fill="#e8435a"/>
<path d="M388.7,233.9 L391.0,236.2 L388.7,238.5 L386.4,236.2Z" fill="#e8435a"/>
<path d="M393.1,235.0 L395.4,237.3 L393.1,239.6 L390.8,237.3Z" fill="#e8435a"/>
<path d="M397.5,236.5 L399.7,238.8 L397.5,241.1 L395.2,238.8Z" fill="#e8435a"/>
<path d="M401.8,238.2 L404.1,240.4 L401.8,242.7 L399.6,240.4Z" fill="#e8435a"/>
<path d="M406.2,240.1 L408.5,242.4 L406.2,244.6 L403.9,242.4Z" fill="#e8435a"/>
<path d="M410.6,242.9 L412.8,245.2 L410.6,247.4 L408.3,245.2Z" fill="#e8435a"/>
<path d="M414.9,246.3 L417.2,248.6 L414.9,250.9 L412.7,248.6Z" fill="#e8435a"/>
<path d="M419.3,249.8 L421.6,252.0 L419.3,254.3 L417.0,252.0Z" fill="#e8435a"/>
<path d="M292.6,275.6 L294.9,277.9 L292.6,280.2 L290.4,277.9Z" fill="#f5c04a"/>
<path d="M297.0,273.8 L299.3,276.1 L297.0,278.4 L294.7,276.1Z" fill="#f5c04a"/>
<path d="M301.4,272.0 L303.6,274.3 L301.4,276.6 L299.1,274.3Z" fill="#f5c04a"/>
<path d="M305.7,270.3 L308.0,272.5 L305.7,274.8 L303.5,272.5Z" fill="#f5c04a"/>
<path d="M310.1,268.4 L312.4,270.7 L310.1,273.0 L307.8,270.7Z" fill="#f5c04a"/>
<path d="M314.5,266.6 L316.8,268.9 L314.5,271.2 L312.2,268.9Z" fill="#f5c04a"/>
<path d="M318.8,264.9 L321.1,267.2 L318.8,269.4 L316.6,267.2Z" fill="#f5c04a"/>
<path d="M323.2,263.3 L325.5,265.5 L323.2,267.8 L320.9,265.5Z" fill="#f5c04a"/>
<path d="M327.6,261.6 L329.9,263.9 L327.6,266.1 L325.3,263.9Z" fill="#f5c04a"/>
<path d="M331.9,259.9 L334.2,262.2 L331.9,264.5 L329.7,262.2Z" fill="#f5c04a"/>
<path d="M336.3,258.3 L338.6,260.5 L336.3,262.8 L334.0,260.5Z" fill="#f5c04a"/>
<path d="M340.7,256.7 L343.0,259.0 L340.7,261.3 L338.4,259.0Z" fill="#f5c04a"/>
<path d="M345.0,255.3 L347.3,257.6 L345.0,259.9 L342.8,257.6Z" fill="#f5c04a"/>
<path d="M349.4,253.9 L351.7,256.2 L349.4,258.5 L347.1,256.2Z" fill="#f5c04a"/>
<path d="M353.8,252.5 L356.1,254.7 L353.8,257.0 L351.5,254.7Z" fill="#f5c04a"/>
<path d="M358.2,251.1 L360.4,253.4 L358.2,255.7 L355.9,253.4Z" fill="#f5c04a"/>
<path d="M362.5,250.1 L364.8,252.3 L362.5,254.6 L360.2,252.3Z" fill="#f5c04a"/>
<path d="M366.9,249.3 L369.2,251.6 L366.9,253.8 L364.6,251.6Z" fill="#f5c04a"/>
<path d="M371.3,248.9 L373.5,251.2 L371.3,253.5 L369.0,251.2Z" fill="#f5c04a"/>
<path d="M375.6,249.1 L377.9,251.4 L375.6,253.6 L373.3,251.4Z" fill="#f5c04a"/>
<path d="M380.0,249.7 L382.3,252.0 L380.0,254.3 L377.7,252.0Z" fill="#f5c04a"/>
<path d="M384.4,250.8 L386.6,253.0 L384.4,255.3 L382.1,253.0Z" fill="#f5c04a"/>
<path d="M388.7,252.0 L391.0,254.3 L388.7,256.6 L386.4,254.3Z" fill="#f5c04a"/>
<path d="M393.1,253.5 L395.4,255.8 L393.1,258.1 L390.8,255.8Z" fill="#f5c04a"/>
<path d="M397.5,255.9 L399.7,258.1 L397.5,260.4 L395.2,258.1Z" fill="#f5c04a"/>
<path d="M401.8,258.6 L404.1,260.9 L401.8,263.2 L399.6,260.9Z" fill="#f5c04a"/>
<path d="M406.2,261.6 L408.5,263.8 L406.2,266.1 L403.9,263.8Z" fill="#f5c04a"/>
<path d="M410.6,265.3 L412.8,267.6 L410.6,269.9 L408.3,267.6Z" fill="#f5c04a"/>
<path d="M414.9,269.6 L417.2,271.9 L414.9,274.2 L412.7,271.9Z" fill="#f5c04a"/>
<path d="M419.3,274.0 L421.6,276.2 L419.3,278.5 L417.0,276.2Z" fill="#f5c04a"/>
<path d="M292.6,303.2 L294.9,305.5 L292.6,307.7 L290.4,305.5Z" fill="#2db36a"/>
<path d="M297.0,304.3 L299.3,306.6 L297.0,308.9 L294.7,306.6Z" fill="#2db36a"/>
<path d="M301.4,305.4 L303.6,307.7 L301.4,310.0 L299.1,307.7Z" fill="#2db36a"/>
<path d="M305.7,306.5 L308.0,308.8 L305.7,311.1 L303.5,308.8Z" fill="#2db36a"/>
<path d="M310.1,307.6 L312.4,309.9 L310.1,312.2 L307.8,309.9Z" fill="#2db36a"/>
<path d="M314.5,308.8 L316.8,311.0 L314.5,313.3 L312.2,311.0Z" fill="#2db36a"/>
<path d="M318.8,309.8 L321.1,312.1 L318.8,314.4 L316.6,312.1Z" fill="#2db36a"/>
<path d="M323.2,310.8 L325.5,313.1 L323.2,315.3 L320.9,313.1Z" fill="#2db36a"/>
<path d="M327.6,311.8 L329.9,314.1 L327.6,316.4 L325.3,314.1Z" fill="#2db36a"/>
<path d="M331.9,312.8 L334.2,315.1 L331.9,317.4 L329.7,315.1Z" fill="#2db36a"/>
<path d="M336.3,313.8 L338.6,316.1 L336.3,318.3 L334.0,316.1Z" fill="#2db36a"/>
<path d="M340.7,314.7 L343.0,316.9 L340.7,319.2 L338.4,316.9Z" fill="#2db36a"/>
<path d="M345.0,315.4 L347.3,317.7 L345.0,320.0 L342.8,317.7Z" fill="#2db36a"/>
<path d="M349.4,316.1 L351.7,318.4 L349.4,320.7 L347.1,318.4Z" fill="#2db36a"/>
<path d="M353.8,316.7 L356.1,318.9 L353.8,321.2 L351.5,318.9Z" fill="#2db36a"/>
<path d="M358.2,317.1 L360.4,319.4 L358.2,321.7 L355.9,319.4Z" fill="#2db36a"/>
<path d="M362.5,317.4 L364.8,319.7 L362.5,322.0 L360.2,319.7Z" fill="#2db36a"/>
<path d="M366.9,317.6 L369.2,319.9 L366.9,322.2 L364.6,319.9Z" fill="#2db36a"/>
<path d="M371.3,317.7 L373.5,320.0 L371.3,322.3 L369.0,320.0Z" fill="#2db36a"/>
<path d="M375.6,317.7 L377.9,320.0 L375.6,322.2 L373.3,320.0Z" fill="#2db36a"/>
<path d="M380.0,317.5 L382.3,319.8 L380.0,322.1 L377.7,319.8Z" fill="#2db36a"/>
<path d="M384.4,317.2 L386.6,319.5 L384.4,321.8 L382.1,319.5Z" fill="#2db36a"/>
<path d="M388.7,316.8 L391.0,319.1 L388.7,321.4 L386.4,319.1Z" fill="#2db36a"/>
<path d="M393.1,316.4 L395.4,318.7 L393.1,321.0 L390.8,318.7Z" fill="#2db36a"/>
<path d="M397.5,315.7 L399.7,318.0 L397.5,320.3 L395.2,318.0Z" fill="#2db36a"/>
<path d="M401.8,315.0 L404.1,317.3 L401.8,319.5 L399.6,317.3Z" fill="#2db36a"/>
<path d="M406.2,314.2 L408.5,316.5 L406.2,318.8 L403.9,316.5Z" fill="#2db36a"/>
<path d="M410.6,313.3 L412.8,315.6 L410.6,317.9 L408.3,315.6Z" fill="#2db36a"/>
<path d="M414.9,312.4 L417.2,314.7 L414.9,317.0 L412.7,314.7Z" fill="#2db36a"/>
<path d="M419.3,311.5 L421.6,313.8 L419.3,316.1 L417.0,313.8Z" fill="#2db36a"/>
<rect x="271.2" y="204.5" width="166.2" height="133.5" fill="none" stroke="#333" stroke-width="1.6" />
<line x1="286.6" y1="338.0" x2="286.6" y2="335.0" stroke="#222" stroke-width="1.2" />
<text transform="translate(286.6,350.2) scale(1,1.12)" font-size="11.1" text-anchor="middle" fill="#111" font-weight="bold">8</text>
<line x1="301.7" y1="338.0" x2="301.7" y2="336.0" stroke="#222" stroke-width="1.2" />
<line x1="316.8" y1="338.0" x2="316.8" y2="335.0" stroke="#222" stroke-width="1.2" />
<text transform="translate(316.8,350.2) scale(1,1.12)" font-size="11.1" text-anchor="middle" fill="#111" font-weight="bold">9</text>
<line x1="331.8" y1="338.0" x2="331.8" y2="336.0" stroke="#222" stroke-width="1.2" />
<line x1="346.9" y1="338.0" x2="346.9" y2="335.0" stroke="#222" stroke-width="1.2" />
<text transform="translate(346.9,350.2) scale(1,1.12)" font-size="11.1" text-anchor="middle" fill="#111" font-weight="bold">10</text>
<line x1="362.0" y1="338.0" x2="362.0" y2="336.0" stroke="#222" stroke-width="1.2" />
<line x1="377.1" y1="338.0" x2="377.1" y2="335.0" stroke="#222" stroke-width="1.2" />
<text transform="translate(377.1,350.2) scale(1,1.12)" font-size="11.1" text-anchor="middle" fill="#111" font-weight="bold">11</text>
<line x1="392.2" y1="338.0" x2="392.2" y2="336.0" stroke="#222" stroke-width="1.2" />
<line x1="407.2" y1="338.0" x2="407.2" y2="335.0" stroke="#222" stroke-width="1.2" />
<text transform="translate(407.2,350.2) scale(1,1.12)" font-size="11.1" text-anchor="middle" fill="#111" font-weight="bold">12</text>
<line x1="422.3" y1="338.0" x2="422.3" y2="336.0" stroke="#222" stroke-width="1.2" />
<line x1="437.4" y1="338.0" x2="437.4" y2="335.0" stroke="#222" stroke-width="1.2" />
<text transform="translate(437.4,350.2) scale(1,1.12)" font-size="11.1" text-anchor="middle" fill="#111" font-weight="bold">13</text>
<line x1="271.5" y1="338.0" x2="271.5" y2="338.0" stroke="#222" stroke-width="1.2" />
<line x1="271.2" y1="338.0" x2="274.2" y2="338.0" stroke="#222" stroke-width="1.2" />
<text transform="translate(267.8,341.7) scale(1,1.12)" font-size="11.1" text-anchor="end" fill="#111" font-weight="bold">0</text>
<line x1="271.2" y1="321.3" x2="273.2" y2="321.3" stroke="#222" stroke-width="1.2" />
<line x1="271.2" y1="304.6" x2="274.2" y2="304.6" stroke="#222" stroke-width="1.2" />
<text transform="translate(267.8,308.3) scale(1,1.12)" font-size="11.1" text-anchor="end" fill="#111" font-weight="bold">20</text>
<line x1="271.2" y1="287.9" x2="273.2" y2="287.9" stroke="#222" stroke-width="1.2" />
<line x1="271.2" y1="271.2" x2="274.2" y2="271.2" stroke="#222" stroke-width="1.2" />
<text transform="translate(267.8,274.9) scale(1,1.12)" font-size="11.1" text-anchor="end" fill="#111" font-weight="bold">40</text>
<line x1="271.2" y1="254.6" x2="273.2" y2="254.6" stroke="#222" stroke-width="1.2" />
<line x1="271.2" y1="237.9" x2="274.2" y2="237.9" stroke="#222" stroke-width="1.2" />
<text transform="translate(267.8,241.6) scale(1,1.12)" font-size="11.1" text-anchor="end" fill="#111" font-weight="bold">60</text>
<line x1="271.2" y1="221.2" x2="273.2" y2="221.2" stroke="#222" stroke-width="1.2" />
<line x1="271.2" y1="204.5" x2="274.2" y2="204.5" stroke="#222" stroke-width="1.2" />
<text transform="translate(267.8,208.2) scale(1,1.12)" font-size="11.1" text-anchor="end" fill="#111" font-weight="bold">80</text>
<text x="360.2" y="370.5" font-size="15.1" text-anchor="middle" fill="#111" font-weight="bold" >Frequency (GHz)</text>
<text transform="translate(246.9,271) rotate(-90)" font-size="15.1" text-anchor="middle" font-weight="bold" fill="#111">SE (dB)</text>
<text x="434.4" y="219.3" font-size="11.3" font-weight="bold" text-anchor="end" fill="#111"><tspan font-style="italic">3</tspan>-ZCF</text>
<text x="412.7" y="240.3" font-size="11.3" font-weight="bold" fill="#111">SE<tspan dy="3" font-size="8">T</tspan></text>
<text x="400.4" y="285.2" font-size="11.3" font-weight="bold" fill="#111">SE<tspan dy="3" font-size="8">A</tspan></text>
<text x="379.4" y="312.1" font-size="11.3" font-weight="bold" fill="#111">SE<tspan dy="3" font-size="8">R</tspan></text>
<text x="455.5" y="199.5" font-size="18.3" text-anchor="start" fill="#111" font-weight="bold" >(e)</text>
<rect x="516.3" y="212.0" width="3.2" height="3" fill="#f47c7c" transform="rotate(0 517.9 213.5)"/>
<rect x="520.3" y="212.9" width="3.2" height="3" fill="#f47c7c" transform="rotate(0 521.9 214.4)"/>
<rect x="524.3" y="213.8" width="3.2" height="3" fill="#f47c7c" transform="rotate(0 525.9 215.3)"/>
<rect x="528.3" y="214.8" width="3.2" height="3" fill="#f47c7c" transform="rotate(0 529.9 216.3)"/>
<rect x="532.3" y="215.7" width="3.2" height="3" fill="#f47c7c" transform="rotate(0 533.9 217.2)"/>
<rect x="536.3" y="216.6" width="3.2" height="3" fill="#f47c7c" transform="rotate(0 537.9 218.1)"/>
<rect x="540.4" y="217.4" width="3.2" height="3" fill="#f47c7c" transform="rotate(0 542.0 218.9)"/>
<rect x="544.4" y="218.2" width="3.2" height="3" fill="#f47c7c" transform="rotate(0 546.0 219.7)"/>
<rect x="548.4" y="219.0" width="3.2" height="3" fill="#f47c7c" transform="rotate(0 550.0 220.5)"/>
<rect x="552.4" y="219.7" width="3.2" height="3" fill="#f47c7c" transform="rotate(0 554.0 221.2)"/>
<rect x="556.4" y="220.3" width="3.2" height="3" fill="#f47c7c" transform="rotate(0 558.0 221.8)"/>
<rect x="560.4" y="220.8" width="3.2" height="3" fill="#f47c7c" transform="rotate(0 562.0 222.3)"/>
<rect x="564.4" y="221.0" width="3.2" height="3" fill="#f47c7c" transform="rotate(0 566.0 222.5)"/>
<rect x="568.4" y="220.7" width="3.2" height="3" fill="#f47c7c" transform="rotate(0 570.0 222.2)"/>
<rect x="572.4" y="220.0" width="3.2" height="3" fill="#f47c7c" transform="rotate(0 574.0 221.5)"/>
<rect x="576.4" y="219.9" width="3.2" height="3" fill="#f47c7c" transform="rotate(0 578.0 221.4)"/>
<rect x="580.4" y="220.5" width="3.2" height="3" fill="#f47c7c" transform="rotate(0 582.0 222.0)"/>
<rect x="584.5" y="221.5" width="3.2" height="3" fill="#f47c7c" transform="rotate(0 586.1 223.0)"/>
<rect x="588.5" y="222.6" width="3.2" height="3" fill="#f47c7c" transform="rotate(0 590.1 224.1)"/>
<rect x="592.5" y="223.5" width="3.2" height="3" fill="#f47c7c" transform="rotate(0 594.1 225.0)"/>
<rect x="596.5" y="223.9" width="3.2" height="3" fill="#f47c7c" transform="rotate(0 598.1 225.4)"/>
<rect x="600.5" y="223.9" width="3.2" height="3" fill="#f47c7c" transform="rotate(0 602.1 225.4)"/>
<rect x="604.5" y="223.6" width="3.2" height="3" fill="#f47c7c" transform="rotate(0 606.1 225.1)"/>
<rect x="608.5" y="223.0" width="3.2" height="3" fill="#f47c7c" transform="rotate(0 610.1 224.5)"/>
<rect x="612.5" y="222.4" width="3.2" height="3" fill="#f47c7c" transform="rotate(0 614.1 223.9)"/>
<rect x="616.5" y="221.8" width="3.2" height="3" fill="#f47c7c" transform="rotate(0 618.1 223.3)"/>
<rect x="620.5" y="221.0" width="3.2" height="3" fill="#f47c7c" transform="rotate(0 622.1 222.5)"/>
<rect x="624.5" y="220.1" width="3.2" height="3" fill="#f47c7c" transform="rotate(0 626.1 221.6)"/>
<rect x="628.6" y="219.1" width="3.2" height="3" fill="#f47c7c" transform="rotate(0 630.2 220.6)"/>
<rect x="632.6" y="217.9" width="3.2" height="3" fill="#f47c7c" transform="rotate(0 634.2 219.4)"/>
<rect x="636.6" y="216.5" width="3.2" height="3" fill="#f47c7c" transform="rotate(0 638.2 218.0)"/>
<rect x="640.6" y="215.0" width="3.2" height="3" fill="#f47c7c" transform="rotate(0 642.2 216.5)"/>
<rect x="644.6" y="213.5" width="3.2" height="3" fill="#f47c7c" transform="rotate(0 646.2 215.0)"/>
<rect x="648.6" y="212.0" width="3.2" height="3" fill="#f47c7c" transform="rotate(0 650.2 213.5)"/>
<rect x="516.3" y="327.0" width="3.2" height="3" fill="#9fcf6a" transform="rotate(-8 517.9 328.5)"/>
<rect x="520.3" y="326.1" width="3.2" height="3" fill="#9fcf6a" transform="rotate(-8 521.9 327.6)"/>
<rect x="524.3" y="325.1" width="3.2" height="3" fill="#9fcf6a" transform="rotate(-8 525.9 326.6)"/>
<rect x="528.3" y="324.2" width="3.2" height="3" fill="#9fcf6a" transform="rotate(-8 529.9 325.7)"/>
<rect x="532.3" y="323.2" width="3.2" height="3" fill="#9fcf6a" transform="rotate(-8 533.9 324.7)"/>
<rect x="536.3" y="322.3" width="3.2" height="3" fill="#9fcf6a" transform="rotate(-8 537.9 323.8)"/>
<rect x="540.4" y="321.6" width="3.2" height="3" fill="#9fcf6a" transform="rotate(-8 542.0 323.1)"/>
<rect x="544.4" y="320.9" width="3.2" height="3" fill="#9fcf6a" transform="rotate(-8 546.0 322.4)"/>
<rect x="548.4" y="320.1" width="3.2" height="3" fill="#9fcf6a" transform="rotate(-8 550.0 321.6)"/>
<rect x="552.4" y="319.4" width="3.2" height="3" fill="#9fcf6a" transform="rotate(-8 554.0 320.9)"/>
<rect x="556.4" y="318.8" width="3.2" height="3" fill="#9fcf6a" transform="rotate(-8 558.0 320.3)"/>
<rect x="560.4" y="318.3" width="3.2" height="3" fill="#9fcf6a" transform="rotate(-8 562.0 319.8)"/>
<rect x="564.4" y="317.9" width="3.2" height="3" fill="#9fcf6a" transform="rotate(-8 566.0 319.4)"/>
<rect x="568.4" y="318.0" width="3.2" height="3" fill="#9fcf6a" transform="rotate(-8 570.0 319.5)"/>
<rect x="572.4" y="318.4" width="3.2" height="3" fill="#9fcf6a" transform="rotate(-8 574.0 319.9)"/>
<rect x="576.4" y="318.7" width="3.2" height="3" fill="#9fcf6a" transform="rotate(-8 578.0 320.2)"/>
<rect x="580.4" y="318.4" width="3.2" height="3" fill="#9fcf6a" transform="rotate(-8 582.0 319.9)"/>
<rect x="584.5" y="317.3" width="3.2" height="3" fill="#9fcf6a" transform="rotate(-8 586.1 318.8)"/>
<rect x="588.5" y="315.8" width="3.2" height="3" fill="#9fcf6a" transform="rotate(-8 590.1 317.3)"/>
<rect x="592.5" y="314.8" width="3.2" height="3" fill="#9fcf6a" transform="rotate(-8 594.1 316.3)"/>
<rect x="596.5" y="314.5" width="3.2" height="3" fill="#9fcf6a" transform="rotate(-8 598.1 316.0)"/>
<rect x="600.5" y="314.6" width="3.2" height="3" fill="#9fcf6a" transform="rotate(-8 602.1 316.1)"/>
<rect x="604.5" y="314.9" width="3.2" height="3" fill="#9fcf6a" transform="rotate(-8 606.1 316.4)"/>
<rect x="608.5" y="315.4" width="3.2" height="3" fill="#9fcf6a" transform="rotate(-8 610.1 316.9)"/>
<rect x="612.5" y="316.0" width="3.2" height="3" fill="#9fcf6a" transform="rotate(-8 614.1 317.5)"/>
<rect x="616.5" y="316.6" width="3.2" height="3" fill="#9fcf6a" transform="rotate(-8 618.1 318.1)"/>
<rect x="620.5" y="317.4" width="3.2" height="3" fill="#9fcf6a" transform="rotate(-8 622.1 318.9)"/>
<rect x="624.5" y="318.3" width="3.2" height="3" fill="#9fcf6a" transform="rotate(-8 626.1 319.8)"/>
<rect x="628.6" y="319.4" width="3.2" height="3" fill="#9fcf6a" transform="rotate(-8 630.2 320.9)"/>
<rect x="632.6" y="320.6" width="3.2" height="3" fill="#9fcf6a" transform="rotate(-8 634.2 322.1)"/>
<rect x="636.6" y="322.1" width="3.2" height="3" fill="#9fcf6a" transform="rotate(-8 638.2 323.6)"/>
<rect x="640.6" y="323.7" width="3.2" height="3" fill="#9fcf6a" transform="rotate(-8 642.2 325.2)"/>
<rect x="644.6" y="325.4" width="3.2" height="3" fill="#9fcf6a" transform="rotate(-8 646.2 326.9)"/>
<rect x="648.6" y="327.0" width="3.2" height="3" fill="#9fcf6a" transform="rotate(-8 650.2 328.5)"/>
<rect x="516.3" y="325.9" width="3.2" height="3" fill="#f5be4a" transform="rotate(0 517.9 327.4)"/>
<rect x="520.3" y="325.9" width="3.2" height="3" fill="#f5be4a" transform="rotate(0 521.9 327.4)"/>
<rect x="524.3" y="325.9" width="3.2" height="3" fill="#f5be4a" transform="rotate(0 525.9 327.4)"/>
<rect x="528.3" y="325.9" width="3.2" height="3" fill="#f5be4a" transform="rotate(0 529.9 327.4)"/>
<rect x="532.3" y="325.9" width="3.2" height="3" fill="#f5be4a" transform="rotate(0 533.9 327.4)"/>
<rect x="536.3" y="325.9" width="3.2" height="3" fill="#f5be4a" transform="rotate(0 537.9 327.4)"/>
<rect x="540.4" y="325.9" width="3.2" height="3" fill="#f5be4a" transform="rotate(0 542.0 327.4)"/>
<rect x="544.4" y="325.9" width="3.2" height="3" fill="#f5be4a" transform="rotate(0 546.0 327.4)"/>
<rect x="548.4" y="325.9" width="3.2" height="3" fill="#f5be4a" transform="rotate(0 550.0 327.4)"/>
<rect x="552.4" y="325.9" width="3.2" height="3" fill="#f5be4a" transform="rotate(0 554.0 327.4)"/>
<rect x="556.4" y="325.9" width="3.2" height="3" fill="#f5be4a" transform="rotate(0 558.0 327.4)"/>
<rect x="560.4" y="325.9" width="3.2" height="3" fill="#f5be4a" transform="rotate(0 562.0 327.4)"/>
<rect x="564.4" y="325.9" width="3.2" height="3" fill="#f5be4a" transform="rotate(0 566.0 327.4)"/>
<rect x="568.4" y="325.9" width="3.2" height="3" fill="#f5be4a" transform="rotate(0 570.0 327.4)"/>
<rect x="572.4" y="325.9" width="3.2" height="3" fill="#f5be4a" transform="rotate(0 574.0 327.4)"/>
<rect x="576.4" y="325.9" width="3.2" height="3" fill="#f5be4a" transform="rotate(0 578.0 327.4)"/>
<rect x="580.4" y="325.9" width="3.2" height="3" fill="#f5be4a" transform="rotate(0 582.0 327.4)"/>
<rect x="584.5" y="325.9" width="3.2" height="3" fill="#f5be4a" transform="rotate(0 586.1 327.4)"/>
<rect x="588.5" y="325.9" width="3.2" height="3" fill="#f5be4a" transform="rotate(0 590.1 327.4)"/>
<rect x="592.5" y="325.9" width="3.2" height="3" fill="#f5be4a" transform="rotate(0 594.1 327.4)"/>
<rect x="596.5" y="325.9" width="3.2" height="3" fill="#f5be4a" transform="rotate(0 598.1 327.4)"/>
<rect x="600.5" y="325.9" width="3.2" height="3" fill="#f5be4a" transform="rotate(0 602.1 327.4)"/>
<rect x="604.5" y="325.9" width="3.2" height="3" fill="#f5be4a" transform="rotate(0 606.1 327.4)"/>
<rect x="608.5" y="325.9" width="3.2" height="3" fill="#f5be4a" transform="rotate(0 610.1 327.4)"/>
<rect x="612.5" y="325.9" width="3.2" height="3" fill="#f5be4a" transform="rotate(0 614.1 327.4)"/>
<rect x="616.5" y="325.9" width="3.2" height="3" fill="#f5be4a" transform="rotate(0 618.1 327.4)"/>
<rect x="620.5" y="325.9" width="3.2" height="3" fill="#f5be4a" transform="rotate(0 622.1 327.4)"/>
<rect x="624.5" y="325.9" width="3.2" height="3" fill="#f5be4a" transform="rotate(0 626.1 327.4)"/>
<rect x="628.6" y="325.9" width="3.2" height="3" fill="#f5be4a" transform="rotate(0 630.2 327.4)"/>
<rect x="632.6" y="325.9" width="3.2" height="3" fill="#f5be4a" transform="rotate(0 634.2 327.4)"/>
<rect x="636.6" y="325.9" width="3.2" height="3" fill="#f5be4a" transform="rotate(0 638.2 327.4)"/>
<rect x="640.6" y="325.9" width="3.2" height="3" fill="#f5be4a" transform="rotate(0 642.2 327.4)"/>
<rect x="644.6" y="325.9" width="3.2" height="3" fill="#f5be4a" transform="rotate(0 646.2 327.4)"/>
<rect x="648.6" y="325.9" width="3.2" height="3" fill="#f5be4a" transform="rotate(0 650.2 327.4)"/>
<rect x="496.4" y="203.1" width="172.8" height="135.6" fill="none" stroke="#333" stroke-width="1.6" />
<line x1="511.6" y1="338.7" x2="511.6" y2="335.7" stroke="#222" stroke-width="1.2" />
<text transform="translate(511.6,350.6) scale(1,1.12)" font-size="11.1" text-anchor="middle" fill="#111" font-weight="bold">8</text>
<line x1="527.4" y1="338.7" x2="527.4" y2="336.7" stroke="#222" stroke-width="1.2" />
<line x1="543.1" y1="338.7" x2="543.1" y2="335.7" stroke="#222" stroke-width="1.2" />
<text transform="translate(543.1,350.6) scale(1,1.12)" font-size="11.1" text-anchor="middle" fill="#111" font-weight="bold">9</text>
<line x1="558.9" y1="338.7" x2="558.9" y2="336.7" stroke="#222" stroke-width="1.2" />
<line x1="574.6" y1="338.7" x2="574.6" y2="335.7" stroke="#222" stroke-width="1.2" />
<text transform="translate(574.6,350.6) scale(1,1.12)" font-size="11.1" text-anchor="middle" fill="#111" font-weight="bold">10</text>
<line x1="590.4" y1="338.7" x2="590.4" y2="336.7" stroke="#222" stroke-width="1.2" />
<line x1="606.1" y1="338.7" x2="606.1" y2="335.7" stroke="#222" stroke-width="1.2" />
<text transform="translate(606.1,350.6) scale(1,1.12)" font-size="11.1" text-anchor="middle" fill="#111" font-weight="bold">11</text>
<line x1="621.9" y1="338.7" x2="621.9" y2="336.7" stroke="#222" stroke-width="1.2" />
<line x1="637.6" y1="338.7" x2="637.6" y2="335.7" stroke="#222" stroke-width="1.2" />
<text transform="translate(637.6,350.6) scale(1,1.12)" font-size="11.1" text-anchor="middle" fill="#111" font-weight="bold">12</text>
<line x1="653.4" y1="338.7" x2="653.4" y2="336.7" stroke="#222" stroke-width="1.2" />
<line x1="669.1" y1="338.7" x2="669.1" y2="335.7" stroke="#222" stroke-width="1.2" />
<text transform="translate(669.1,350.6) scale(1,1.12)" font-size="11.1" text-anchor="middle" fill="#111" font-weight="bold">13</text>
<line x1="496.4" y1="327.4" x2="499.4" y2="327.4" stroke="#222" stroke-width="1.2" />
<text transform="translate(492.3,331.1) scale(1,1.12)" font-size="11.1" text-anchor="end" fill="#111" font-weight="bold">0.0</text>
<line x1="496.4" y1="304.8" x2="499.4" y2="304.8" stroke="#222" stroke-width="1.2" />
<text transform="translate(492.3,308.5) scale(1,1.12)" font-size="11.1" text-anchor="end" fill="#111" font-weight="bold">0.2</text>
<line x1="496.4" y1="282.3" x2="499.4" y2="282.3" stroke="#222" stroke-width="1.2" />
<text transform="translate(492.3,286.0) scale(1,1.12)" font-size="11.1" text-anchor="end" fill="#111" font-weight="bold">0.4</text>
<line x1="496.4" y1="259.7" x2="499.4" y2="259.7" stroke="#222" stroke-width="1.2" />
<text transform="translate(492.3,263.4) scale(1,1.12)" font-size="11.1" text-anchor="end" fill="#111" font-weight="bold">0.6</text>
<line x1="496.4" y1="237.2" x2="499.4" y2="237.2" stroke="#222" stroke-width="1.2" />
<text transform="translate(492.3,240.9) scale(1,1.12)" font-size="11.1" text-anchor="end" fill="#111" font-weight="bold">0.8</text>
<line x1="496.4" y1="214.6" x2="499.4" y2="214.6" stroke="#222" stroke-width="1.2" />
<text transform="translate(492.3,218.3) scale(1,1.12)" font-size="11.1" text-anchor="end" fill="#111" font-weight="bold">1.0</text>
<line x1="496.4" y1="338.7" x2="498.4" y2="338.7" stroke="#222" stroke-width="1.2" />
<line x1="496.4" y1="316.1" x2="498.4" y2="316.1" stroke="#222" stroke-width="1.2" />
<line x1="496.4" y1="293.6" x2="498.4" y2="293.6" stroke="#222" stroke-width="1.2" />
<line x1="496.4" y1="271.0" x2="498.4" y2="271.0" stroke="#222" stroke-width="1.2" />
<line x1="496.4" y1="248.4" x2="498.4" y2="248.4" stroke="#222" stroke-width="1.2" />
<line x1="496.4" y1="225.9" x2="498.4" y2="225.9" stroke="#222" stroke-width="1.2" />
<text x="585.5" y="370.0" font-size="15.6" text-anchor="middle" fill="#111" font-weight="bold" >Frequency (GHz)</text>
<text transform="translate(469.5,271.5) rotate(-90)" font-size="15.4" text-anchor="middle" font-weight="bold" fill="#111">R, A, T</text>
<text x="634.2" y="235.5" font-size="11" text-anchor="middle" fill="#111" font-weight="bold" >R</text>
<text x="582.0" y="312.0" font-size="11" text-anchor="middle" fill="#111" font-weight="bold" >A</text>
<text x="660.0" y="334.0" font-size="11" text-anchor="middle" fill="#111" font-weight="bold" >T</text>
<text x="0.5" y="697.3" font-size="18.3" text-anchor="start" fill="#111" font-weight="bold" >(g)</text>
<rect x="216.8" y="742.6" width="6.4" height="109.4" fill="none" stroke="#f03a3a" stroke-width="0.9" stroke-dasharray="2.5,1.8"/>
<rect x="115.8" y="771.1" width="4.6" height="4.6" fill="#f28a1e" stroke="none" stroke-width="1" />
<rect x="115.8" y="787.1" width="4.6" height="4.6" fill="#1a8c1a" stroke="none" stroke-width="1" />
<rect x="122.5" y="771.1" width="4.6" height="4.6" fill="#f28a1e" stroke="none" stroke-width="1" />
<rect x="122.5" y="786.8" width="4.6" height="4.6" fill="#1a8c1a" stroke="none" stroke-width="1" />
<rect x="128.9" y="770.8" width="4.6" height="4.6" fill="#f28a1e" stroke="none" stroke-width="1" />
<rect x="128.9" y="786.5" width="4.6" height="4.6" fill="#1a8c1a" stroke="none" stroke-width="1" />
<rect x="135.7" y="770.5" width="4.6" height="4.6" fill="#f28a1e" stroke="none" stroke-width="1" />
<rect x="135.7" y="786.2" width="4.6" height="4.6" fill="#1a8c1a" stroke="none" stroke-width="1" />
<rect x="142.4" y="770.2" width="4.6" height="4.6" fill="#f28a1e" stroke="none" stroke-width="1" />
<rect x="142.4" y="785.9" width="4.6" height="4.6" fill="#1a8c1a" stroke="none" stroke-width="1" />
<rect x="148.8" y="769.9" width="4.6" height="4.6" fill="#f28a1e" stroke="none" stroke-width="1" />
<rect x="148.8" y="785.7" width="4.6" height="4.6" fill="#1a8c1a" stroke="none" stroke-width="1" />
<rect x="155.5" y="769.3" width="4.6" height="4.6" fill="#f28a1e" stroke="none" stroke-width="1" />
<rect x="155.5" y="785.4" width="4.6" height="4.6" fill="#1a8c1a" stroke="none" stroke-width="1" />
<rect x="161.9" y="768.7" width="4.6" height="4.6" fill="#f28a1e" stroke="none" stroke-width="1" />
<rect x="161.9" y="784.8" width="4.6" height="4.6" fill="#1a8c1a" stroke="none" stroke-width="1" />
<rect x="168.6" y="768.1" width="4.6" height="4.6" fill="#f28a1e" stroke="none" stroke-width="1" />
<rect x="168.6" y="784.5" width="4.6" height="4.6" fill="#1a8c1a" stroke="none" stroke-width="1" />
<rect x="175.4" y="767.6" width="4.6" height="4.6" fill="#f28a1e" stroke="none" stroke-width="1" />
<rect x="175.4" y="783.9" width="4.6" height="4.6" fill="#1a8c1a" stroke="none" stroke-width="1" />
<rect x="181.8" y="766.7" width="4.6" height="4.6" fill="#f28a1e" stroke="none" stroke-width="1" />
<rect x="181.8" y="782.7" width="4.6" height="4.6" fill="#1a8c1a" stroke="none" stroke-width="1" />
<rect x="188.2" y="765.2" width="4.6" height="4.6" fill="#f28a1e" stroke="none" stroke-width="1" />
<rect x="188.2" y="781.6" width="4.6" height="4.6" fill="#1a8c1a" stroke="none" stroke-width="1" />
<rect x="194.9" y="763.8" width="4.6" height="4.6" fill="#f28a1e" stroke="none" stroke-width="1" />
<rect x="194.9" y="780.7" width="4.6" height="4.6" fill="#1a8c1a" stroke="none" stroke-width="1" />
<rect x="201.6" y="762.3" width="4.6" height="4.6" fill="#f28a1e" stroke="none" stroke-width="1" />
<rect x="201.6" y="779.8" width="4.6" height="4.6" fill="#1a8c1a" stroke="none" stroke-width="1" />
<rect x="208.1" y="761.7" width="4.6" height="4.6" fill="#f28a1e" stroke="none" stroke-width="1" />
<rect x="208.1" y="779.2" width="4.6" height="4.6" fill="#1a8c1a" stroke="none" stroke-width="1" />
<rect x="214.5" y="761.4" width="4.6" height="4.6" fill="#f28a1e" stroke="none" stroke-width="1" />
<rect x="214.5" y="779.2" width="4.6" height="4.6" fill="#1a8c1a" stroke="none" stroke-width="1" />
<rect x="221.2" y="761.4" width="4.6" height="4.6" fill="#f28a1e" stroke="none" stroke-width="1" />
<rect x="221.2" y="779.2" width="4.6" height="4.6" fill="#1a8c1a" stroke="none" stroke-width="1" />
<rect x="227.6" y="762.3" width="4.6" height="4.6" fill="#f28a1e" stroke="none" stroke-width="1" />
<rect x="227.6" y="779.5" width="4.6" height="4.6" fill="#1a8c1a" stroke="none" stroke-width="1" />
<rect x="234.3" y="763.2" width="4.6" height="4.6" fill="#f28a1e" stroke="none" stroke-width="1" />
<rect x="234.3" y="779.8" width="4.6" height="4.6" fill="#1a8c1a" stroke="none" stroke-width="1" />
<rect x="240.8" y="764.3" width="4.6" height="4.6" fill="#f28a1e" stroke="none" stroke-width="1" />
<rect x="240.8" y="780.7" width="4.6" height="4.6" fill="#1a8c1a" stroke="none" stroke-width="1" />
<rect x="247.5" y="765.8" width="4.6" height="4.6" fill="#f28a1e" stroke="none" stroke-width="1" />
<rect x="247.5" y="781.9" width="4.6" height="4.6" fill="#1a8c1a" stroke="none" stroke-width="1" />
<rect x="253.9" y="767.3" width="4.6" height="4.6" fill="#f28a1e" stroke="none" stroke-width="1" />
<rect x="253.9" y="783.0" width="4.6" height="4.6" fill="#1a8c1a" stroke="none" stroke-width="1" />
<rect x="260.6" y="769.6" width="4.6" height="4.6" fill="#f28a1e" stroke="none" stroke-width="1" />
<rect x="260.6" y="784.8" width="4.6" height="4.6" fill="#1a8c1a" stroke="none" stroke-width="1" />
<rect x="267.0" y="771.6" width="4.6" height="4.6" fill="#f28a1e" stroke="none" stroke-width="1" />
<rect x="267.0" y="786.8" width="4.6" height="4.6" fill="#1a8c1a" stroke="none" stroke-width="1" />
<rect x="273.8" y="775.4" width="4.6" height="4.6" fill="#f28a1e" stroke="none" stroke-width="1" />
<rect x="273.8" y="790.0" width="4.6" height="4.6" fill="#1a8c1a" stroke="none" stroke-width="1" />
<rect x="280.2" y="778.4" width="4.6" height="4.6" fill="#f28a1e" stroke="none" stroke-width="1" />
<rect x="280.2" y="793.0" width="4.6" height="4.6" fill="#1a8c1a" stroke="none" stroke-width="1" />
<line x1="91.2" y1="694.5" x2="304.5" y2="694.5" stroke="#222" stroke-width="1.3" />
<line x1="91.2" y1="852.0" x2="304.5" y2="852.0" stroke="#222" stroke-width="1.3" />
<line x1="91.2" y1="694.5" x2="91.2" y2="852.0" stroke="#333" stroke-width="1.3" />
<line x1="304.5" y1="694.5" x2="304.5" y2="852.0" stroke="#f28a1e" stroke-width="1.3" />
<line x1="110.8" y1="852.0" x2="110.8" y2="849.0" stroke="#222" stroke-width="1.2" />
<text x="110.8" y="867.0" font-size="12.5" text-anchor="middle" fill="#111" font-weight="bold" >8</text>
<line x1="130.2" y1="852.0" x2="130.2" y2="850.0" stroke="#222" stroke-width="1.2" />
<line x1="149.5" y1="852.0" x2="149.5" y2="849.0" stroke="#222" stroke-width="1.2" />
<text x="149.5" y="867.0" font-size="12.5" text-anchor="middle" fill="#111" font-weight="bold" >9</text>
<line x1="168.9" y1="852.0" x2="168.9" y2="850.0" stroke="#222" stroke-width="1.2" />
<line x1="188.2" y1="852.0" x2="188.2" y2="849.0" stroke="#222" stroke-width="1.2" />
<text x="188.2" y="867.0" font-size="12.5" text-anchor="middle" fill="#111" font-weight="bold" >10</text>
<line x1="207.6" y1="852.0" x2="207.6" y2="850.0" stroke="#222" stroke-width="1.2" />
<line x1="227.0" y1="852.0" x2="227.0" y2="849.0" stroke="#222" stroke-width="1.2" />
<text x="227.0" y="867.0" font-size="12.5" text-anchor="middle" fill="#111" font-weight="bold" >11</text>
<line x1="246.3" y1="852.0" x2="246.3" y2="850.0" stroke="#222" stroke-width="1.2" />
<line x1="265.7" y1="852.0" x2="265.7" y2="849.0" stroke="#222" stroke-width="1.2" />
<text x="265.7" y="867.0" font-size="12.5" text-anchor="middle" fill="#111" font-weight="bold" >12</text>
<line x1="285.0" y1="852.0" x2="285.0" y2="850.0" stroke="#222" stroke-width="1.2" />
<line x1="304.4" y1="852.0" x2="304.4" y2="849.0" stroke="#222" stroke-width="1.2" />
<text x="304.4" y="867.0" font-size="12.5" text-anchor="middle" fill="#111" font-weight="bold" >13</text>
<line x1="91.2" y1="852.0" x2="94.2" y2="852.0" stroke="#333" stroke-width="1.2" />
<text x="87.6" y="856.3" font-size="13.8" text-anchor="end" fill="#1a8c1a" font-weight="bold" >0</text>
<line x1="304.5" y1="852.0" x2="301.5" y2="852.0" stroke="#f28a1e" stroke-width="1.2" />
<text x="308.6" y="856.3" font-size="13.8" text-anchor="start" fill="#f28a1e" font-weight="bold" >0</text>
<line x1="91.2" y1="838.9" x2="93.2" y2="838.9" stroke="#333" stroke-width="1.2" />
<line x1="304.5" y1="838.9" x2="302.5" y2="838.9" stroke="#f28a1e" stroke-width="1.2" />
<line x1="91.2" y1="825.8" x2="94.2" y2="825.8" stroke="#333" stroke-width="1.2" />
<text x="87.6" y="830.1" font-size="13.8" text-anchor="end" fill="#1a8c1a" font-weight="bold" >50</text>
<line x1="304.5" y1="825.8" x2="301.5" y2="825.8" stroke="#f28a1e" stroke-width="1.2" />
<text x="308.6" y="830.1" font-size="13.8" text-anchor="start" fill="#f28a1e" font-weight="bold" >50</text>
<line x1="91.2" y1="812.7" x2="93.2" y2="812.7" stroke="#333" stroke-width="1.2" />
<line x1="304.5" y1="812.7" x2="302.5" y2="812.7" stroke="#f28a1e" stroke-width="1.2" />
<line x1="91.2" y1="799.5" x2="94.2" y2="799.5" stroke="#333" stroke-width="1.2" />
<text x="87.6" y="803.8" font-size="13.8" text-anchor="end" fill="#1a8c1a" font-weight="bold" >100</text>
<line x1="304.5" y1="799.5" x2="301.5" y2="799.5" stroke="#f28a1e" stroke-width="1.2" />
<text x="308.6" y="803.8" font-size="13.8" text-anchor="start" fill="#f28a1e" font-weight="bold" >100</text>
<line x1="91.2" y1="786.4" x2="93.2" y2="786.4" stroke="#333" stroke-width="1.2" />
<line x1="304.5" y1="786.4" x2="302.5" y2="786.4" stroke="#f28a1e" stroke-width="1.2" />
<line x1="91.2" y1="773.3" x2="94.2" y2="773.3" stroke="#333" stroke-width="1.2" />
<text x="87.6" y="777.6" font-size="13.8" text-anchor="end" fill="#1a8c1a" font-weight="bold" >150</text>
<line x1="304.5" y1="773.3" x2="301.5" y2="773.3" stroke="#f28a1e" stroke-width="1.2" />
<text x="308.6" y="777.6" font-size="13.8" text-anchor="start" fill="#f28a1e" font-weight="bold" >150</text>
<line x1="91.2" y1="760.2" x2="93.2" y2="760.2" stroke="#333" stroke-width="1.2" />
<line x1="304.5" y1="760.2" x2="302.5" y2="760.2" stroke="#f28a1e" stroke-width="1.2" />
<line x1="91.2" y1="747.1" x2="94.2" y2="747.1" stroke="#333" stroke-width="1.2" />
<text x="87.6" y="751.4" font-size="13.8" text-anchor="end" fill="#1a8c1a" font-weight="bold" >200</text>
<line x1="304.5" y1="747.1" x2="301.5" y2="747.1" stroke="#f28a1e" stroke-width="1.2" />
<text x="308.6" y="751.4" font-size="13.8" text-anchor="start" fill="#f28a1e" font-weight="bold" >200</text>
<line x1="91.2" y1="734.0" x2="93.2" y2="734.0" stroke="#333" stroke-width="1.2" />
<line x1="304.5" y1="734.0" x2="302.5" y2="734.0" stroke="#f28a1e" stroke-width="1.2" />
<line x1="91.2" y1="720.9" x2="94.2" y2="720.9" stroke="#333" stroke-width="1.2" />
<text x="87.6" y="725.2" font-size="13.8" text-anchor="end" fill="#1a8c1a" font-weight="bold" >250</text>
<line x1="304.5" y1="720.9" x2="301.5" y2="720.9" stroke="#f28a1e" stroke-width="1.2" />
<text x="308.6" y="725.2" font-size="13.8" text-anchor="start" fill="#f28a1e" font-weight="bold" >250</text>
<line x1="91.2" y1="707.8" x2="93.2" y2="707.8" stroke="#333" stroke-width="1.2" />
<line x1="304.5" y1="707.8" x2="302.5" y2="707.8" stroke="#f28a1e" stroke-width="1.2" />
<line x1="91.2" y1="694.6" x2="94.2" y2="694.6" stroke="#333" stroke-width="1.2" />
<text x="87.6" y="698.9" font-size="13.8" text-anchor="end" fill="#1a8c1a" font-weight="bold" >300</text>
<line x1="304.5" y1="694.6" x2="301.5" y2="694.6" stroke="#f28a1e" stroke-width="1.2" />
<text x="308.6" y="698.9" font-size="13.8" text-anchor="start" fill="#f28a1e" font-weight="bold" >300</text>
<text x="199.0" y="889.0" font-size="18.5" text-anchor="middle" fill="#111" font-weight="bold" >Frequency (GHz)</text>
<text transform="translate(56.6,774) rotate(-90)" font-size="18.4" text-anchor="middle" font-weight="bold" fill="#1a8c1a">SSE (dB·cm<tspan dy="-7" font-size="12.5">3</tspan><tspan dy="7">·g</tspan><tspan dy="-7" font-size="12.5">-1</tspan><tspan dy="7">)</tspan></text>
<text transform="translate(355,775.5) rotate(-90)" font-size="18.4" text-anchor="middle" font-weight="bold" fill="#f28a1e">SSE/t (dB·cm<tspan dy="-7" font-size="12.5">2</tspan><tspan dy="7">·g</tspan><tspan dy="-7" font-size="12.5">-1</tspan><tspan dy="7">)</tspan></text>
<rect x="113.4" y="710.6" width="4.6" height="4.6" fill="#1a8c1a" stroke="none" stroke-width="1" />
<text x="125.5" y="717.0" font-size="12" text-anchor="start" fill="#111" font-weight="bold" >SSE</text>
<rect x="113.4" y="724.6" width="4.6" height="4.6" fill="#f28a1e" stroke="none" stroke-width="1" />
<text x="125.5" y="731.0" font-size="12" text-anchor="start" fill="#111" font-weight="bold" >SSE/t</text>
<text x="219.6" y="724.3" font-size="11.8" text-anchor="middle" fill="#111" font-weight="bold" >maximum</text>
<text x="221.5" y="737.2" font-size="11.8" text-anchor="middle" fill="#111" font-weight="bold" >values</text>
<rect x="414.0" y="693.0" width="262.0" height="201.0" fill="#fafafa" stroke="none" stroke-width="1" />
<text x="384.0" y="700.0" font-size="18.3" text-anchor="start" fill="#111" font-weight="bold" >(h)</text>
<rect x="465.5" y="696.2" width="196.0" height="157.1" fill="none" stroke="#333" stroke-width="1.6" />
<line x1="485.1" y1="853.3" x2="485.1" y2="850.3" stroke="#222" stroke-width="1.2" />
<text x="485.1" y="866.3" font-size="12.3" text-anchor="middle" fill="#111" font-weight="bold" >2</text>
<line x1="524.3" y1="853.3" x2="524.3" y2="850.3" stroke="#222" stroke-width="1.2" />
<text x="524.3" y="866.3" font-size="12.3" text-anchor="middle" fill="#111" font-weight="bold" >4</text>
<line x1="563.5" y1="853.3" x2="563.5" y2="850.3" stroke="#222" stroke-width="1.2" />
<text x="563.5" y="866.3" font-size="12.3" text-anchor="middle" fill="#111" font-weight="bold" >6</text>
<line x1="602.7" y1="853.3" x2="602.7" y2="850.3" stroke="#222" stroke-width="1.2" />
<text x="602.7" y="866.3" font-size="12.3" text-anchor="middle" fill="#111" font-weight="bold" >8</text>
<line x1="641.9" y1="853.3" x2="641.9" y2="850.3" stroke="#222" stroke-width="1.2" />
<text x="641.9" y="866.3" font-size="12.3" text-anchor="middle" fill="#111" font-weight="bold" >10</text>
<line x1="504.7" y1="853.3" x2="504.7" y2="851.3" stroke="#222" stroke-width="1.2" />
<line x1="543.9" y1="853.3" x2="543.9" y2="851.3" stroke="#222" stroke-width="1.2" />
<line x1="583.1" y1="853.3" x2="583.1" y2="851.3" stroke="#222" stroke-width="1.2" />
<line x1="622.3" y1="853.3" x2="622.3" y2="851.3" stroke="#222" stroke-width="1.2" />
<line x1="465.5" y1="842.3" x2="468.5" y2="842.3" stroke="#222" stroke-width="1.2" />
<text x="462.3" y="846.4" font-size="12.3" text-anchor="end" fill="#111" font-weight="bold" >20</text>
<line x1="465.5" y1="831.1" x2="467.5" y2="831.1" stroke="#222" stroke-width="1.2" />
<line x1="465.5" y1="819.8" x2="468.5" y2="819.8" stroke="#222" stroke-width="1.2" />
<text x="462.3" y="823.9" font-size="12.3" text-anchor="end" fill="#111" font-weight="bold" >30</text>
<line x1="465.5" y1="808.5" x2="467.5" y2="808.5" stroke="#222" stroke-width="1.2" />
<line x1="465.5" y1="797.3" x2="468.5" y2="797.3" stroke="#222" stroke-width="1.2" />
<text x="462.3" y="801.4" font-size="12.3" text-anchor="end" fill="#111" font-weight="bold" >40</text>
<line x1="465.5" y1="786.0" x2="467.5" y2="786.0" stroke="#222" stroke-width="1.2" />
<line x1="465.5" y1="774.8" x2="468.5" y2="774.8" stroke="#222" stroke-width="1.2" />
<text x="462.3" y="778.9" font-size="12.3" text-anchor="end" fill="#111" font-weight="bold" >50</text>
<line x1="465.5" y1="763.5" x2="467.5" y2="763.5" stroke="#222" stroke-width="1.2" />
<line x1="465.5" y1="752.2" x2="468.5" y2="752.2" stroke="#222" stroke-width="1.2" />
<text x="462.3" y="756.3" font-size="12.3" text-anchor="end" fill="#111" font-weight="bold" >60</text>
<line x1="465.5" y1="741.0" x2="467.5" y2="741.0" stroke="#222" stroke-width="1.2" />
<line x1="465.5" y1="729.7" x2="468.5" y2="729.7" stroke="#222" stroke-width="1.2" />
<text x="462.3" y="733.8" font-size="12.3" text-anchor="end" fill="#111" font-weight="bold" >70</text>
<line x1="465.5" y1="718.5" x2="467.5" y2="718.5" stroke="#222" stroke-width="1.2" />
<line x1="465.5" y1="707.2" x2="468.5" y2="707.2" stroke="#222" stroke-width="1.2" />
<text x="462.3" y="711.3" font-size="12.3" text-anchor="end" fill="#111" font-weight="bold" >80</text>
<text x="557.0" y="888.0" font-size="16" text-anchor="middle" fill="#111" font-weight="bold" >Thickness (mm)</text>
<text transform="translate(440.6,775) rotate(-90)" font-size="12.2" text-anchor="middle" font-weight="bold" fill="#111">SE (dB)</text>
<circle cx="485.1" cy="711.7" r="2.6" fill="#1f2fbf"/>
<text x="489.0" y="708.0" font-size="7.8" text-anchor="start" fill="#222" font-weight="bold" >[50]</text>
<path d="M482.0,755.2 L487.2,752.3 L487.2,758.0Z" fill="#1e8c2e"/>
<text x="489.0" y="747.0" font-size="7.8" text-anchor="start" fill="#222" font-weight="bold" >[46]</text>
<circle cx="504.7" cy="776.6" r="2.6" fill="#e82828"/>
<text x="504.4" y="771.8" font-size="7.8" text-anchor="middle" fill="#222" font-weight="bold" >[51]</text>
<path d="M504.7,779.7 L507.6,784.9 L501.8,784.9Z" fill="#5aaee0"/>
<text x="508.5" y="787.2" font-size="7.8" text-anchor="start" fill="#222" font-weight="bold" >[54]</text>
<path d="M494.9,782.9 L498.0,786.0 L494.9,789.1 L491.8,786.0Z" fill="#f020f0"/>
<text x="489.0" y="790.3" font-size="7.8" text-anchor="end" fill="#222" font-weight="bold" >[55]</text>
<circle cx="543.9" cy="768.0" r="2.6" fill="#2a40e0"/>
<text x="543.6" y="762.0" font-size="7.8" text-anchor="middle" fill="#222" font-weight="bold" >[52]</text>
<path d="M540.8,779.7 L546.0,776.9 L546.0,782.6Z" fill="#c8604a"/>
<text x="547.3" y="783.6" font-size="7.8" text-anchor="start" fill="#222" font-weight="bold" >[53]</text>
<path d="M534.1,802.7 L537.2,805.8 L534.1,809.0 L531.0,805.8Z" fill="#f08a1e"/>
<text x="538.7" y="809.4" font-size="7.8" text-anchor="start" fill="#222" font-weight="bold" >[58]</text>
<path d="M488.2,813.0 L483.0,810.2 L483.0,815.9Z" fill="#4060f0"/>
<text x="489.7" y="816.2" font-size="7.8" text-anchor="start" fill="#222" font-weight="bold" >[18]</text>
<circle cx="485.1" cy="831.1" r="2.6" fill="#e87a6a"/>
<text x="485.0" y="827.5" font-size="7.8" text-anchor="middle" fill="#222" font-weight="bold" >[56]</text>
<circle cx="494.9" cy="835.6" r="2.6" fill="#222"/>
<text x="498.9" y="841.4" font-size="7.8" text-anchor="start" fill="#222" font-weight="bold" >[57]</text>
<path d="M566.6,839.8 L561.4,837.0 L561.4,842.7Z" fill="#8a8a1a"/>
<text x="567.7" y="843.0" font-size="7.8" text-anchor="start" fill="#222" font-weight="bold" >[59]</text>
<path d="M602.7,750.4 L603.9,753.7 L607.5,753.8 L604.7,756.0 L605.6,759.4 L602.7,757.5 L599.8,759.4 L600.7,756.0 L597.9,753.8 L601.5,753.7Z" fill="#e82020"/>
<path d="M641.9,771.6 L644.8,776.8 L639.0,776.8Z" fill="#1f3fe0"/>
<text x="637.1" y="776.8" font-size="7.8" text-anchor="end" fill="#222" font-weight="bold" >[42]</text>
<path d="M636.0,815.5 L638.9,810.3 L633.2,810.3Z" fill="#f020f0"/>
<text x="634.7" y="806.5" font-size="7.8" text-anchor="middle" fill="#222" font-weight="bold" >[60]</text>
<text x="621.6" y="748.4" font-size="10.2" text-anchor="middle" fill="#111" font-weight="bold" >This work</text>
<text x="217.0" y="14.0" font-size="18.3" text-anchor="start" fill="#111" font-weight="bold" >(b)</text>
<clipPath id="cl1"><rect x="218" y="22" width="235" height="151"/></clipPath>
<radialGradient id="pore" cx="50%" cy="60%" r="60%"><stop offset="0" stop-color="#727272"/><stop offset="0.7" stop-color="#5e5e5e"/><stop offset="1" stop-color="#444"/></radialGradient>
<radialGradient id="pore2" cx="45%" cy="55%" r="60%"><stop offset="0" stop-color="#808080"/><stop offset="0.8" stop-color="#6a6a6a"/><stop offset="1" stop-color="#525252"/></radialGradient>
<radialGradient id="pore3" cx="50%" cy="50%" r="55%"><stop offset="0" stop-color="#505050"/><stop offset="0.8" stop-color="#3a3a3a"/><stop offset="1" stop-color="#2a2a2a"/></radialGradient>
<radialGradient id="sph" cx="45%" cy="40%" r="60%"><stop offset="0" stop-color="#8a8a8a"/><stop offset="0.8" stop-color="#7a7a7a"/><stop offset="1" stop-color="#6a6a6a"/></radialGradient>
<radialGradient id="hole" cx="50%" cy="50%" r="50%"><stop offset="0" stop-color="#1e1e1e"/><stop offset="1" stop-color="#3a3a3a"/></radialGradient>
<filter id="grain" x="0" y="0" width="100%" height="100%"><feTurbulence type="fractalNoise" baseFrequency="0.12" numOctaves="2" seed="3"/><feColorMatrix type="matrix" values="0 0 0 0 0  0 0 0 0 0  0 0 0 0 0  0.8 0 0 0 -0.38"/></filter>
<filter id="grainw" x="0" y="0" width="100%" height="100%"><feTurbulence type="fractalNoise" baseFrequency="1.2" numOctaves="1" seed="9"/><feColorMatrix type="matrix" values="0 0 0 0 1  0 0 0 0 1  0 0 0 0 1  0.7 0 0 0 -0.38"/></filter>
<g clip-path="url(#cl1)">
<rect x="218" y="22" width="235" height="151" fill="#8c8c8c"/>
<circle cx="321.2" cy="154.0" r="13.4" fill="url(#pore2)" stroke="#d4d4d4" stroke-width="1.05"/>
<circle cx="296.3" cy="92.5" r="5.5" fill="url(#pore3)" stroke="#d4d4d4" stroke-width="1.05"/>
<circle cx="429.0" cy="102.0" r="11.0" fill="url(#pore2)" stroke="#d4d4d4" stroke-width="1.05"/>
<circle cx="402.3" cy="151.9" r="11.5" fill="url(#pore)" stroke="#d4d4d4" stroke-width="1.05"/>
<circle cx="440.0" cy="160.0" r="11.6" fill="url(#pore3)" stroke="#d4d4d4" stroke-width="1.05"/>
<circle cx="262.2" cy="118.9" r="5.0" fill="url(#pore)" stroke="#d4d4d4" stroke-width="1.05"/>
<circle cx="395.0" cy="45.0" r="11.6" fill="url(#pore)" stroke="#d4d4d4" stroke-width="1.05"/>
<circle cx="212.3" cy="16.2" r="14.5" fill="url(#pore3)" stroke="#d4d4d4" stroke-width="1.05"/>
<circle cx="225.1" cy="57.6" r="3.3" fill="url(#pore)" stroke="#d4d4d4" stroke-width="1.05"/>
<circle cx="246.5" cy="121.0" r="13.4" fill="url(#pore3)" stroke="#d4d4d4" stroke-width="1.05"/>
<circle cx="458.6" cy="149.2" r="13.7" fill="url(#pore3)" stroke="#d4d4d4" stroke-width="1.05"/>
<circle cx="322.6" cy="87.2" r="14.7" fill="url(#pore)" stroke="#d4d4d4" stroke-width="1.05"/>
<circle cx="394.4" cy="31.6" r="3.2" fill="url(#pore2)" stroke="#d4d4d4" stroke-width="1.05"/>
<circle cx="336.6" cy="176.2" r="16.9" fill="url(#pore2)" stroke="#d4d4d4" stroke-width="1.05"/>
<circle cx="458.1" cy="128.3" r="8.9" fill="url(#pore)" stroke="#d4d4d4" stroke-width="1.05"/>
<circle cx="309.5" cy="120.8" r="3.4" fill="url(#pore)" stroke="#d4d4d4" stroke-width="1.05"/>
<circle cx="217.3" cy="119.7" r="16.4" fill="url(#pore)" stroke="#d4d4d4" stroke-width="1.05"/>
<circle cx="440.9" cy="100.2" r="3.4" fill="url(#pore3)" stroke="#d4d4d4" stroke-width="1.05"/>
<circle cx="267.2" cy="178.6" r="7.0" fill="url(#pore3)" stroke="#d4d4d4" stroke-width="1.05"/>
<circle cx="420.3" cy="78.0" r="5.4" fill="url(#pore)" stroke="#d4d4d4" stroke-width="1.05"/>
<circle cx="413.7" cy="46.1" r="4.4" fill="url(#pore2)" stroke="#d4d4d4" stroke-width="1.05"/>
<circle cx="274.2" cy="143.9" r="6.5" fill="url(#pore2)" stroke="#d4d4d4" stroke-width="1.05"/>
<circle cx="312.5" cy="27.2" r="11.0" fill="url(#pore3)" stroke="#d4d4d4" stroke-width="1.05"/>
<circle cx="361.2" cy="62.0" r="15.2" fill="url(#pore2)" stroke="#d4d4d4" stroke-width="1.05"/>
<circle cx="368.7" cy="108.3" r="13.6" fill="url(#pore2)" stroke="#d4d4d4" stroke-width="1.05"/>
<circle cx="262.3" cy="36.0" r="3.2" fill="url(#pore)" stroke="#d4d4d4" stroke-width="1.05"/>
<circle cx="333.8" cy="127.1" r="6.7" fill="url(#pore2)" stroke="#d4d4d4" stroke-width="1.05"/>
<circle cx="230.5" cy="158.8" r="3.8" fill="url(#pore)" stroke="#d4d4d4" stroke-width="1.05"/>
<circle cx="407.8" cy="41.3" r="4.3" fill="url(#pore)" stroke="#d4d4d4" stroke-width="1.05"/>
<circle cx="450.7" cy="136.0" r="3.4" fill="url(#pore2)" stroke="#d4d4d4" stroke-width="1.05"/>
<circle cx="350.1" cy="88.9" r="16.0" fill="url(#pore2)" stroke="#d4d4d4" stroke-width="1.05"/>
<circle cx="213.5" cy="37.0" r="9.1" fill="url(#pore)" stroke="#d4d4d4" stroke-width="1.05"/>
<circle cx="303.9" cy="77.6" r="9.9" fill="url(#pore2)" stroke="#d4d4d4" stroke-width="1.05"/>
<circle cx="439.4" cy="84.5" r="13.4" fill="url(#pore)" stroke="#d4d4d4" stroke-width="1.05"/>
<circle cx="306.9" cy="159.5" r="3.2" fill="url(#pore)" stroke="#d4d4d4" stroke-width="1.05"/>
<circle cx="315.9" cy="50.7" r="16.1" fill="url(#pore3)" stroke="#d4d4d4" stroke-width="1.05"/>
<circle cx="345.0" cy="118.0" r="10.4" fill="url(#pore)" stroke="#d4d4d4" stroke-width="1.05"/>
<circle cx="294.1" cy="173.1" r="16.9" fill="url(#pore)" stroke="#d4d4d4" stroke-width="1.05"/>
<circle cx="264.4" cy="105.3" r="9.8" fill="url(#pore)" stroke="#d4d4d4" stroke-width="1.05"/>
<circle cx="321.7" cy="18.3" r="3.3" fill="url(#pore2)" stroke="#d4d4d4" stroke-width="1.05"/>
<circle cx="354.8" cy="110.2" r="3.2" fill="url(#pore3)" stroke="#d4d4d4" stroke-width="1.05"/>
<circle cx="230.9" cy="143.6" r="13.4" fill="url(#pore)" stroke="#d4d4d4" stroke-width="1.05"/>
<circle cx="346.0" cy="160.1" r="4.7" fill="url(#pore2)" stroke="#d4d4d4" stroke-width="1.05"/>
<circle cx="369.9" cy="177.9" r="17.1" fill="url(#pore3)" stroke="#d4d4d4" stroke-width="1.05"/>
<circle cx="315.1" cy="176.1" r="7.1" fill="url(#pore2)" stroke="#d4d4d4" stroke-width="1.05"/>
<circle cx="300.4" cy="17.2" r="8.2" fill="url(#pore2)" stroke="#d4d4d4" stroke-width="1.05"/>
<circle cx="249.5" cy="70.4" r="7.1" fill="url(#pore)" stroke="#d4d4d4" stroke-width="1.05"/>
<circle cx="214.6" cy="163.7" r="13.3" fill="url(#pore)" stroke="#d4d4d4" stroke-width="1.05"/>
<circle cx="414.5" cy="142.4" r="3.8" fill="url(#pore2)" stroke="#d4d4d4" stroke-width="1.05"/>
<circle cx="433.1" cy="142.9" r="7.5" fill="url(#pore3)" stroke="#d4d4d4" stroke-width="1.05"/>
<circle cx="254.6" cy="169.5" r="5.7" fill="url(#pore2)" stroke="#d4d4d4" stroke-width="1.05"/>
<circle cx="343.8" cy="143.6" r="13.4" fill="url(#pore2)" stroke="#d4d4d4" stroke-width="1.05"/>
<circle cx="311.2" cy="165.8" r="4.8" fill="url(#pore)" stroke="#d4d4d4" stroke-width="1.05"/>
<circle cx="255.0" cy="140.0" r="9.1" fill="url(#pore)" stroke="#d4d4d4" stroke-width="1.05"/>
<circle cx="436.0" cy="122.8" r="15.2" fill="url(#pore2)" stroke="#d4d4d4" stroke-width="1.05"/>
<circle cx="212.0" cy="57.5" r="10.6" fill="url(#pore2)" stroke="#d4d4d4" stroke-width="1.05"/>
<circle cx="282.2" cy="150.2" r="4.4" fill="url(#pore3)" stroke="#d4d4d4" stroke-width="1.05"/>
<circle cx="320.7" cy="168.4" r="3.3" fill="url(#pore)" stroke="#d4d4d4" stroke-width="1.05"/>
<circle cx="347.4" cy="36.2" r="3.4" fill="url(#pore2)" stroke="#d4d4d4" stroke-width="1.05"/>
<circle cx="240.0" cy="30.0" r="12.8" fill="url(#pore)" stroke="#d4d4d4" stroke-width="1.05"/>
<circle cx="237.7" cy="60.5" r="11.0" fill="url(#pore2)" stroke="#d4d4d4" stroke-width="1.05"/>
<circle cx="429.1" cy="178.9" r="13.4" fill="url(#pore)" stroke="#d4d4d4" stroke-width="1.05"/>
<circle cx="427.3" cy="39.9" r="9.6" fill="url(#pore2)" stroke="#d4d4d4" stroke-width="1.05"/>
<circle cx="422.5" cy="141.7" r="5.0" fill="url(#pore3)" stroke="#d4d4d4" stroke-width="1.05"/>
<circle cx="246.3" cy="157.6" r="10.3" fill="url(#pore3)" stroke="#d4d4d4" stroke-width="1.05"/>
<circle cx="242.5" cy="80.9" r="4.9" fill="url(#pore)" stroke="#d4d4d4" stroke-width="1.05"/>
<circle cx="235.0" cy="100.0" r="10.4" fill="url(#pore3)" stroke="#d4d4d4" stroke-width="1.05"/>
<circle cx="443.9" cy="139.6" r="5.4" fill="url(#pore3)" stroke="#d4d4d4" stroke-width="1.05"/>
<circle cx="338.6" cy="18.5" r="17.1" fill="url(#pore2)" stroke="#d4d4d4" stroke-width="1.05"/>
<circle cx="355.7" cy="165.6" r="3.6" fill="url(#pore2)" stroke="#d4d4d4" stroke-width="1.05"/>
<circle cx="275.2" cy="97.7" r="5.7" fill="url(#pore3)" stroke="#d4d4d4" stroke-width="1.05"/>
<circle cx="305.1" cy="139.6" r="5.9" fill="url(#pore3)" stroke="#d4d4d4" stroke-width="1.05"/>
<circle cx="340.3" cy="48.0" r="12.8" fill="url(#pore)" stroke="#d4d4d4" stroke-width="1.05"/>
<circle cx="411.6" cy="63.7" r="13.4" fill="url(#pore)" stroke="#d4d4d4" stroke-width="1.05"/>
<circle cx="262.4" cy="18.7" r="16.1" fill="url(#pore2)" stroke="#d4d4d4" stroke-width="1.05"/>
<circle cx="411.6" cy="29.0" r="11.0" fill="url(#pore2)" stroke="#d4d4d4" stroke-width="1.05"/>
<circle cx="322.6" cy="110.6" r="11.0" fill="url(#pore)" stroke="#d4d4d4" stroke-width="1.05"/>
<circle cx="381.6" cy="47.5" r="4.4" fill="url(#pore)" stroke="#d4d4d4" stroke-width="1.05"/>
<circle cx="232.3" cy="16.8" r="4.1" fill="url(#pore2)" stroke="#d4d4d4" stroke-width="1.05"/>
<circle cx="438.6" cy="30.8" r="5.7" fill="url(#pore3)" stroke="#d4d4d4" stroke-width="1.05"/>
<circle cx="386.2" cy="63.2" r="10.6" fill="url(#pore3)" stroke="#d4d4d4" stroke-width="1.05"/>
<circle cx="295.7" cy="149.9" r="10.3" fill="url(#pore2)" stroke="#d4d4d4" stroke-width="1.05"/>
<circle cx="224.1" cy="29.6" r="6.3" fill="url(#pore3)" stroke="#d4d4d4" stroke-width="1.05"/>
<circle cx="454.1" cy="19.7" r="16.6" fill="url(#pore2)" stroke="#d4d4d4" stroke-width="1.05"/>
<circle cx="295.7" cy="59.7" r="10.6" fill="url(#pore2)" stroke="#d4d4d4" stroke-width="1.05"/>
<circle cx="227.4" cy="77.6" r="12.8" fill="url(#pore2)" stroke="#d4d4d4" stroke-width="1.05"/>
<circle cx="243.6" cy="90.5" r="3.8" fill="url(#pore2)" stroke="#d4d4d4" stroke-width="1.05"/>
<circle cx="264.4" cy="147.5" r="3.9" fill="url(#pore)" stroke="#d4d4d4" stroke-width="1.05"/>
<circle cx="326.3" cy="33.3" r="5.3" fill="url(#pore)" stroke="#d4d4d4" stroke-width="1.05"/>
<circle cx="346.0" cy="71.5" r="5.5" fill="url(#pore3)" stroke="#d4d4d4" stroke-width="1.05"/>
<circle cx="336.0" cy="101.9" r="6.7" fill="url(#pore2)" stroke="#d4d4d4" stroke-width="1.05"/>
<circle cx="282.1" cy="16.3" r="5.9" fill="url(#pore3)" stroke="#d4d4d4" stroke-width="1.05"/>
<circle cx="404.6" cy="91.5" r="13.4" fill="url(#pore2)" stroke="#d4d4d4" stroke-width="1.05"/>
<circle cx="423.4" cy="53.2" r="5.0" fill="url(#pore2)" stroke="#d4d4d4" stroke-width="1.05"/>
<circle cx="258.7" cy="86.3" r="12.8" fill="url(#pore2)" stroke="#d4d4d4" stroke-width="1.05"/>
<circle cx="447.0" cy="112.0" r="3.2" fill="url(#pore2)" stroke="#d4d4d4" stroke-width="1.05"/>
<circle cx="303.9" cy="105.4" r="11.0" fill="url(#pore2)" stroke="#d4d4d4" stroke-width="1.05"/>
<circle cx="458.7" cy="54.1" r="3.4" fill="url(#pore3)" stroke="#d4d4d4" stroke-width="1.05"/>
<circle cx="422.3" cy="88.4" r="7.2" fill="url(#pore2)" stroke="#d4d4d4" stroke-width="1.05"/>
<circle cx="282.1" cy="79.8" r="16.6" fill="url(#pore3)" stroke="#d4d4d4" stroke-width="1.05"/>
<circle cx="451.8" cy="117.6" r="5.0" fill="url(#pore2)" stroke="#d4d4d4" stroke-width="1.05"/>
<circle cx="383.2" cy="100.0" r="5.7" fill="url(#pore2)" stroke="#d4d4d4" stroke-width="1.05"/>
<circle cx="415.3" cy="104.5" r="3.2" fill="url(#pore2)" stroke="#d4d4d4" stroke-width="1.05"/>
<circle cx="371.6" cy="136.7" r="15.2" fill="url(#pore)" stroke="#d4d4d4" stroke-width="1.05"/>
<circle cx="212.8" cy="147.2" r="6.7" fill="url(#pore)" stroke="#d4d4d4" stroke-width="1.05"/>
<circle cx="254.4" cy="36.5" r="5.9" fill="url(#pore3)" stroke="#d4d4d4" stroke-width="1.05"/>
<circle cx="331.7" cy="67.2" r="11.0" fill="url(#pore3)" stroke="#d4d4d4" stroke-width="1.05"/>
<circle cx="243.9" cy="46.6" r="5.6" fill="url(#pore)" stroke="#d4d4d4" stroke-width="1.05"/>
<circle cx="358.6" cy="155.0" r="9.4" fill="url(#pore2)" stroke="#d4d4d4" stroke-width="1.05"/>
<circle cx="412.3" cy="79.3" r="3.7" fill="url(#pore3)" stroke="#d4d4d4" stroke-width="1.05"/>
<circle cx="234.2" cy="127.9" r="3.3" fill="url(#pore)" stroke="#d4d4d4" stroke-width="1.05"/>
<circle cx="251.3" cy="100.6" r="6.9" fill="url(#pore3)" stroke="#d4d4d4" stroke-width="1.05"/>
<circle cx="266.5" cy="134.2" r="6.3" fill="url(#pore)" stroke="#d4d4d4" stroke-width="1.05"/>
<circle cx="355.3" cy="129.3" r="5.4" fill="url(#pore)" stroke="#d4d4d4" stroke-width="1.05"/>
<circle cx="458.2" cy="85.4" r="3.7" fill="url(#pore3)" stroke="#d4d4d4" stroke-width="1.05"/>
<circle cx="386.5" cy="34.1" r="4.2" fill="url(#pore2)" stroke="#d4d4d4" stroke-width="1.05"/>
<circle cx="444.6" cy="48.0" r="13.4" fill="url(#pore2)" stroke="#d4d4d4" stroke-width="1.05"/>
<circle cx="404.9" cy="16.1" r="3.7" fill="url(#pore2)" stroke="#d4d4d4" stroke-width="1.05"/>
<circle cx="380.3" cy="82.8" r="13.4" fill="url(#pore3)" stroke="#d4d4d4" stroke-width="1.05"/>
<circle cx="422.0" cy="157.5" r="11.0" fill="url(#pore)" stroke="#d4d4d4" stroke-width="1.05"/>
<circle cx="228.0" cy="45.0" r="10.4" fill="url(#pore)" stroke="#d4d4d4" stroke-width="1.05"/>
<circle cx="308.4" cy="94.2" r="3.2" fill="url(#pore3)" stroke="#d4d4d4" stroke-width="1.05"/>
<circle cx="388.6" cy="146.0" r="5.3" fill="url(#pore)" stroke="#d4d4d4" stroke-width="1.05"/>
<circle cx="269.0" cy="161.0" r="13.4" fill="url(#pore)" stroke="#d4d4d4" stroke-width="1.05"/>
<circle cx="433.3" cy="62.9" r="8.7" fill="url(#pore2)" stroke="#d4d4d4" stroke-width="1.05"/>
<circle cx="318.0" cy="130.0" r="11.6" fill="url(#pore)" stroke="#d4d4d4" stroke-width="1.05"/>
<circle cx="312.1" cy="67.8" r="3.2" fill="url(#pore)" stroke="#d4d4d4" stroke-width="1.05"/>
<circle cx="456.7" cy="66.9" r="12.2" fill="url(#pore)" stroke="#d4d4d4" stroke-width="1.05"/>
<circle cx="216.3" cy="97.6" r="10.1" fill="url(#pore2)" stroke="#d4d4d4" stroke-width="1.05"/>
<circle cx="401.0" cy="175.9" r="16.3" fill="url(#pore)" stroke="#d4d4d4" stroke-width="1.05"/>
<circle cx="442.6" cy="105.9" r="3.6" fill="url(#pore)" stroke="#d4d4d4" stroke-width="1.05"/>
<circle cx="377.5" cy="53.5" r="3.2" fill="url(#pore3)" stroke="#d4d4d4" stroke-width="1.05"/>
<circle cx="288.2" cy="34.7" r="16.7" fill="url(#pore)" stroke="#d4d4d4" stroke-width="1.05"/>
<circle cx="389.4" cy="16.4" r="13.3" fill="url(#pore2)" stroke="#d4d4d4" stroke-width="1.05"/>
<circle cx="458.4" cy="178.3" r="17.0" fill="url(#pore2)" stroke="#d4d4d4" stroke-width="1.05"/>
<circle cx="383.8" cy="159.0" r="11.0" fill="url(#pore3)" stroke="#d4d4d4" stroke-width="1.05"/>
<circle cx="456.3" cy="37.8" r="5.1" fill="url(#pore2)" stroke="#d4d4d4" stroke-width="1.05"/>
<circle cx="396.2" cy="75.5" r="7.4" fill="url(#pore2)" stroke="#d4d4d4" stroke-width="1.05"/>
<circle cx="285.4" cy="97.9" r="5.4" fill="url(#pore2)" stroke="#d4d4d4" stroke-width="1.05"/>
<circle cx="371.2" cy="158.0" r="3.8" fill="url(#pore3)" stroke="#d4d4d4" stroke-width="1.05"/>
<circle cx="343.7" cy="61.0" r="3.3" fill="url(#pore)" stroke="#d4d4d4" stroke-width="1.05"/>
<circle cx="236.8" cy="177.3" r="16.0" fill="url(#pore2)" stroke="#d4d4d4" stroke-width="1.05"/>
<circle cx="212.8" cy="72.6" r="5.4" fill="url(#pore3)" stroke="#d4d4d4" stroke-width="1.05"/>
<circle cx="358.7" cy="16.5" r="4.8" fill="url(#pore)" stroke="#d4d4d4" stroke-width="1.05"/>
<circle cx="429.7" cy="17.8" r="11.4" fill="url(#pore)" stroke="#d4d4d4" stroke-width="1.05"/>
<circle cx="270.7" cy="36.2" r="3.8" fill="url(#pore2)" stroke="#d4d4d4" stroke-width="1.05"/>
<circle cx="318.7" cy="69.4" r="4.8" fill="url(#pore2)" stroke="#d4d4d4" stroke-width="1.05"/>
<circle cx="458.3" cy="102.0" r="14.8" fill="url(#pore2)" stroke="#d4d4d4" stroke-width="1.05"/>
<circle cx="287.0" cy="121.5" r="18.4" fill="url(#sph)" stroke="#e0e0e0" stroke-width="1.3"/>
<circle cx="287.9" cy="123.0" r="0.5" fill="#d8d8d8"/>
<circle cx="286.9" cy="120.6" r="0.5" fill="#d8d8d8"/>
<circle cx="283.7" cy="114.1" r="0.5" fill="#d8d8d8"/>
<circle cx="277.7" cy="130.0" r="0.5" fill="#d8d8d8"/>
<circle cx="278.1" cy="113.6" r="0.5" fill="#d8d8d8"/>
<circle cx="293.5" cy="117.1" r="0.5" fill="#d8d8d8"/>
<circle cx="288.0" cy="119.2" r="0.5" fill="#d8d8d8"/>
<circle cx="286.5" cy="120.7" r="0.5" fill="#d8d8d8"/>
<circle cx="288.2" cy="134.6" r="0.5" fill="#d8d8d8"/>
<circle cx="290.6" cy="107.7" r="0.5" fill="#d8d8d8"/>
<circle cx="281.9" cy="128.3" r="0.5" fill="#d8d8d8"/>
<circle cx="288.1" cy="126.8" r="0.5" fill="#d8d8d8"/>
<circle cx="292.7" cy="112.3" r="0.5" fill="#d8d8d8"/>
<circle cx="282.8" cy="121.1" r="0.5" fill="#d8d8d8"/>
<circle cx="290.1" cy="121.9" r="0.5" fill="#d8d8d8"/>
<circle cx="291.3" cy="133.2" r="0.5" fill="#d8d8d8"/>
<circle cx="291.2" cy="130.2" r="0.5" fill="#d8d8d8"/>
<circle cx="292.8" cy="123.2" r="0.5" fill="#d8d8d8"/>
<circle cx="288.9" cy="116.8" r="0.5" fill="#d8d8d8"/>
<circle cx="282.0" cy="118.0" r="0.5" fill="#d8d8d8"/>
<circle cx="287.7" cy="120.8" r="0.5" fill="#d8d8d8"/>
<circle cx="283.7" cy="116.1" r="0.5" fill="#d8d8d8"/>
<circle cx="364.7" cy="35.9" r="14.0" fill="url(#sph)" stroke="#e0e0e0" stroke-width="1.3"/>
<circle cx="365.2" cy="30.6" r="0.5" fill="#d8d8d8"/>
<circle cx="360.7" cy="39.4" r="0.5" fill="#d8d8d8"/>
<circle cx="364.7" cy="36.6" r="0.5" fill="#d8d8d8"/>
<circle cx="366.7" cy="34.5" r="0.5" fill="#d8d8d8"/>
<circle cx="358.6" cy="36.4" r="0.5" fill="#d8d8d8"/>
<circle cx="364.7" cy="35.9" r="0.5" fill="#d8d8d8"/>
<circle cx="360.9" cy="36.6" r="0.5" fill="#d8d8d8"/>
<circle cx="362.4" cy="39.8" r="0.5" fill="#d8d8d8"/>
<circle cx="356.1" cy="32.9" r="0.5" fill="#d8d8d8"/>
<circle cx="368.5" cy="34.8" r="0.5" fill="#d8d8d8"/>
<circle cx="366.6" cy="33.1" r="0.5" fill="#d8d8d8"/>
<circle cx="355.9" cy="35.0" r="0.5" fill="#d8d8d8"/>
<circle cx="369.1" cy="38.4" r="0.5" fill="#d8d8d8"/>
<circle cx="358.3" cy="42.4" r="0.5" fill="#d8d8d8"/>
<circle cx="363.9" cy="36.8" r="0.5" fill="#d8d8d8"/>
<circle cx="373.5" cy="36.3" r="0.5" fill="#d8d8d8"/>
<circle cx="401.2" cy="122.8" r="19.0" fill="url(#sph)" stroke="#e0e0e0" stroke-width="1.3"/>
<circle cx="401.5" cy="122.1" r="0.5" fill="#d8d8d8"/>
<circle cx="396.0" cy="114.5" r="0.5" fill="#d8d8d8"/>
<circle cx="392.7" cy="120.8" r="0.5" fill="#d8d8d8"/>
<circle cx="401.7" cy="125.2" r="0.5" fill="#d8d8d8"/>
<circle cx="404.6" cy="136.6" r="0.5" fill="#d8d8d8"/>
<circle cx="405.5" cy="135.8" r="0.5" fill="#d8d8d8"/>
<circle cx="395.7" cy="125.8" r="0.5" fill="#d8d8d8"/>
<circle cx="402.6" cy="117.3" r="0.5" fill="#d8d8d8"/>
<circle cx="416.0" cy="120.1" r="0.5" fill="#d8d8d8"/>
<circle cx="400.2" cy="118.1" r="0.5" fill="#d8d8d8"/>
<circle cx="397.4" cy="120.0" r="0.5" fill="#d8d8d8"/>
<circle cx="401.9" cy="125.4" r="0.5" fill="#d8d8d8"/>
<circle cx="400.1" cy="121.5" r="0.5" fill="#d8d8d8"/>
<circle cx="403.2" cy="120.5" r="0.5" fill="#d8d8d8"/>
<circle cx="407.6" cy="132.6" r="0.5" fill="#d8d8d8"/>
<circle cx="404.1" cy="119.5" r="0.5" fill="#d8d8d8"/>
<circle cx="412.5" cy="125.7" r="0.5" fill="#d8d8d8"/>
<circle cx="415.6" cy="120.0" r="0.5" fill="#d8d8d8"/>
<circle cx="401.1" cy="123.0" r="0.5" fill="#d8d8d8"/>
<circle cx="401.7" cy="135.8" r="0.5" fill="#d8d8d8"/>
<circle cx="401.1" cy="121.8" r="0.5" fill="#d8d8d8"/>
<circle cx="413.7" cy="114.1" r="0.5" fill="#d8d8d8"/>
<circle cx="265.6" cy="55.0" r="15.6" fill="url(#sph)" stroke="#e0e0e0" stroke-width="1.3"/>
<circle cx="276.2" cy="52.6" r="0.5" fill="#d8d8d8"/>
<circle cx="255.7" cy="54.7" r="0.5" fill="#d8d8d8"/>
<circle cx="261.9" cy="52.6" r="0.5" fill="#d8d8d8"/>
<circle cx="274.2" cy="58.7" r="0.5" fill="#d8d8d8"/>
<circle cx="266.8" cy="58.7" r="0.5" fill="#d8d8d8"/>
<circle cx="260.3" cy="54.7" r="0.5" fill="#d8d8d8"/>
<circle cx="272.6" cy="50.6" r="0.5" fill="#d8d8d8"/>
<circle cx="272.7" cy="55.4" r="0.5" fill="#d8d8d8"/>
<circle cx="266.1" cy="54.8" r="0.5" fill="#d8d8d8"/>
<circle cx="270.0" cy="54.8" r="0.5" fill="#d8d8d8"/>
<circle cx="269.9" cy="47.6" r="0.5" fill="#d8d8d8"/>
<circle cx="275.4" cy="47.6" r="0.5" fill="#d8d8d8"/>
<circle cx="270.4" cy="50.1" r="0.5" fill="#d8d8d8"/>
<circle cx="272.4" cy="56.4" r="0.5" fill="#d8d8d8"/>
<circle cx="271.4" cy="45.8" r="0.5" fill="#d8d8d8"/>
<circle cx="265.5" cy="58.4" r="0.5" fill="#d8d8d8"/>
<circle cx="266.7" cy="60.7" r="0.5" fill="#d8d8d8"/>
<circle cx="262.7" cy="50.9" r="0.5" fill="#d8d8d8"/>
<path d="M279,25 L292,23 L301,27 L300,36 L293,41 L283,40 L278,33Z" fill="#262626" stroke="#4a4a4a" stroke-width="1" stroke-linejoin="round"/>
<path d="M289,50 L300,49 L305,56 L302,66 L295,67 L290,60Z" fill="#262626" stroke="#4a4a4a" stroke-width="1" stroke-linejoin="round"/>
<path d="M323,80 L331,78 L333,87 L327,92 L322,88Z" fill="#262626" stroke="#4a4a4a" stroke-width="1" stroke-linejoin="round"/>
<path d="M218,60 L224,58 L226,70 L220,75 L218,72Z" fill="#262626" stroke="#4a4a4a" stroke-width="1" stroke-linejoin="round"/>
<path d="M320,148 L330,146 L333,155 L325,158Z" fill="#262626" stroke="#4a4a4a" stroke-width="1" stroke-linejoin="round"/>
<path d="M436,140 L445,138 L448,147 L440,150Z" fill="#262626" stroke="#4a4a4a" stroke-width="1" stroke-linejoin="round"/>
<path d="M270,113 L276,108 L281,115 L275,121Z" fill="#262626" stroke="#4a4a4a" stroke-width="1" stroke-linejoin="round"/>
<ellipse cx="295.2" cy="58.5" rx="7" ry="6" fill="url(#hole)"/>
<ellipse cx="328.2" cy="86.3" rx="6" ry="4.5" fill="url(#hole)"/>
<ellipse cx="288.2" cy="36.4" rx="9" ry="6" fill="url(#hole)"/>
<ellipse cx="224" cy="102" rx="4" ry="7" fill="url(#hole)"/>
<ellipse cx="322" cy="110" rx="4" ry="3" fill="url(#hole)"/>
<ellipse cx="262" cy="100" rx="4" ry="3" fill="url(#hole)"/>
<ellipse cx="350" cy="100" rx="3" ry="3" fill="url(#hole)"/>
<ellipse cx="420" cy="40" rx="4" ry="3" fill="url(#hole)"/>
<ellipse cx="440" cy="143" rx="5" ry="6" fill="url(#hole)"/>
<ellipse cx="315" cy="152" rx="5" ry="4" fill="url(#hole)"/>
<ellipse cx="253" cy="135" rx="3" ry="4" fill="url(#hole)"/>
<ellipse cx="398" cy="75" rx="3" ry="3" fill="url(#hole)"/>
<rect x="218" y="22" width="235" height="151" filter="url(#grain)"/>
<rect x="218" y="22" width="235" height="151" filter="url(#grainw)"/>
</g>
<rect x="395" y="157.8" width="48.8" height="6.9" fill="#fff"/>
<text x="419.6" y="151.5" font-size="17.3" font-weight="bold" text-anchor="middle" fill="#fff">100 μm</text>
<rect x="324.5" y="91" width="26" height="21" fill="none" stroke="#f2e41c" stroke-width="1.6"/>
<line x1="350.5" y1="91" x2="453" y2="22" stroke="#f2e41c" stroke-width="3.3" stroke-dasharray="10,7"/>
<line x1="350.5" y1="112" x2="453" y2="173" stroke="#f2e41c" stroke-width="3.3" stroke-dasharray="10,7"/>
<clipPath id="cl2"><rect x="456" y="22" width="229" height="151"/></clipPath>
<linearGradient id="rg" x1="0" y1="0" x2="1" y2="0"><stop offset="0" stop-color="#727272"/><stop offset="0.3" stop-color="#5e5e5e"/><stop offset="0.55" stop-color="#444"/><stop offset="1" stop-color="#333"/></linearGradient>
<radialGradient id="rglow" cx="50%" cy="50%" r="50%"><stop offset="0" stop-color="#9a9a9a" stop-opacity="0.55"/><stop offset="1" stop-color="#9a9a9a" stop-opacity="0"/></radialGradient>
<radialGradient id="rdark" cx="50%" cy="50%" r="50%"><stop offset="0" stop-color="#202020" stop-opacity="0.6"/><stop offset="1" stop-color="#202020" stop-opacity="0"/></radialGradient>
<filter id="grain2" x="0" y="0" width="100%" height="100%"><feTurbulence type="fractalNoise" baseFrequency="0.1" numOctaves="3" seed="8"/><feColorMatrix type="matrix" values="0 0 0 0 0  0 0 0 0 0  0 0 0 0 0  1.2 0 0 0 -0.45"/></filter>
<filter id="grain2w" x="0" y="0" width="100%" height="100%"><feTurbulence type="fractalNoise" baseFrequency="0.3" numOctaves="2" seed="4"/><feColorMatrix type="matrix" values="0 0 0 0 1  0 0 0 0 1  0 0 0 0 1  0.7 0 0 0 -0.36"/></filter>
<g clip-path="url(#cl2)">
<rect x="456" y="22" width="229" height="151" fill="url(#rg)"/>
<ellipse cx="488" cy="70" rx="40" ry="55" fill="url(#rglow)"/>
<ellipse cx="470" cy="140" rx="30" ry="40" fill="url(#rglow)" opacity="0.6"/>
<ellipse cx="640" cy="80" rx="40" ry="50" fill="url(#rdark)"/>
<path d="M685,86 C684,100 678,115 668,124 C655,132 640,137 630,150 C624,158 620,165 617,175 L690,175 L690,86Z" fill="#8a8a8a"/>
<path d="M674,22 C680,40 684,62 684,86 C683,102 677,116 668,124 C655,132 640,137 630,150 C624,158 620,165 617,175" fill="none" stroke="#d8d8d8" stroke-width="1.8"/>
<path d="M680,22 C684,35 686,50 687,60" fill="none" stroke="#c8c8c8" stroke-width="2.2"/>
<path d="M685,112 C670,128 655,140 645,160 C640,168 636,172 634,175" fill="none" stroke="#b0b0b0" stroke-width="1.2"/>
<path d="M558,22 C556,32 548,45 542,57" fill="none" stroke="#aaa" stroke-width="0.9"/>
<path d="M468,41 L476,30 L494,26 L502,38 L504,49 L490,51 L478,50 L470,46 Z" fill="#b4b4b4" stroke="#e4e4e4" stroke-width="0.8"/>
<path d="M520,28 C528,26 536,32 537,42 C533,45 525,42 520,28Z" fill="#8a8a8a" stroke="#c4c4c4" stroke-width="0.7"/>
<ellipse cx="523" cy="49" rx="4" ry="5" fill="#3a3a3a" stroke="#b0b0b0" stroke-width="0.9"/>
<path d="M598,44 C602,40 612,41 613,48 C612,56 603,58 599,52Z" fill="#a8a8a8" stroke="#d4d4d4" stroke-width="0.8"/>
<ellipse cx="606" cy="37" rx="5" ry="4" fill="#333" stroke="#b8b8b8" stroke-width="1"/>
<circle cx="630" cy="70" r="3.5" fill="#9a9a9a" stroke="#ccc" stroke-width="0.6"/>
<line x1="630" y1="70" x2="624" y2="75" stroke="#aaa" stroke-width="1.5"/>
<path d="M548,110 C552,106 560,108 559,116 C556,121 549,118 548,110Z" fill="#9a9a9a" stroke="#c8c8c8" stroke-width="0.7"/>
<ellipse cx="644" cy="97" rx="5.5" ry="4.5" fill="#1e1e1e" stroke="#8c8c8c" stroke-width="1"/>
<ellipse cx="626" cy="82" rx="4" ry="3" fill="#222" stroke="#888" stroke-width="0.8"/>
<ellipse cx="527" cy="123" rx="4" ry="4.5" fill="#2a2a2a" stroke="#999" stroke-width="0.8"/>
<ellipse cx="603" cy="153" rx="3.5" ry="3" fill="#2a2a2a" stroke="#888" stroke-width="0.7"/>
<ellipse cx="586.2" cy="134.0" rx="1.9" ry="1.0" fill="#c0c0c0" opacity="0.75"/>
<ellipse cx="553.3" cy="164.4" rx="1.6" ry="0.9" fill="#b4b4b4" opacity="0.75"/>
<ellipse cx="554.0" cy="59.2" rx="1.5" ry="0.9" fill="#c0c0c0" opacity="0.75"/>
<ellipse cx="608.8" cy="83.6" rx="0.9" ry="0.5" fill="#8c8c8c" opacity="0.75"/>
<ellipse cx="622.6" cy="43.0" rx="1.6" ry="0.9" fill="#b4b4b4" opacity="0.75"/>
<ellipse cx="659.2" cy="22.8" rx="1.8" ry="1.7" fill="#b4b4b4" opacity="0.75"/>
<ellipse cx="516.5" cy="167.2" rx="1.5" ry="0.9" fill="#b4b4b4" opacity="0.75"/>
<ellipse cx="658.4" cy="51.7" rx="2.1" ry="1.4" fill="#8c8c8c" opacity="0.75"/>
<ellipse cx="531.5" cy="47.1" rx="0.8" ry="0.6" fill="#a0a0a0" opacity="0.75"/>
<ellipse cx="626.8" cy="110.5" rx="1.6" ry="0.8" fill="#262626" opacity="0.75"/>
<ellipse cx="530.3" cy="68.2" rx="1.7" ry="1.3" fill="#b4b4b4" opacity="0.75"/>
<ellipse cx="603.3" cy="30.6" rx="2.2" ry="2.1" fill="#a0a0a0" opacity="0.75"/>
<ellipse cx="530.7" cy="83.0" rx="1.5" ry="1.0" fill="#8c8c8c" opacity="0.75"/>
<ellipse cx="576.9" cy="23.4" rx="0.7" ry="0.5" fill="#b4b4b4" opacity="0.75"/>
<ellipse cx="655.5" cy="40.0" rx="1.0" ry="0.7" fill="#8c8c8c" opacity="0.75"/>
<ellipse cx="530.2" cy="101.2" rx="1.8" ry="1.5" fill="#a0a0a0" opacity="0.75"/>
<ellipse cx="619.2" cy="77.5" rx="1.1" ry="1.0" fill="#8c8c8c" opacity="0.75"/>
<ellipse cx="475.1" cy="73.5" rx="1.6" ry="1.1" fill="#b4b4b4" opacity="0.75"/>
<ellipse cx="649.2" cy="104.3" rx="1.1" ry="0.7" fill="#262626" opacity="0.75"/>
<ellipse cx="622.9" cy="116.6" rx="1.8" ry="1.8" fill="#262626" opacity="0.75"/>
<ellipse cx="489.8" cy="29.3" rx="2.2" ry="2.1" fill="#c0c0c0" opacity="0.75"/>
<ellipse cx="462.7" cy="133.8" rx="1.2" ry="0.8" fill="#262626" opacity="0.75"/>
<ellipse cx="544.1" cy="30.4" rx="2.1" ry="1.9" fill="#a0a0a0" opacity="0.75"/>
<ellipse cx="525.8" cy="53.3" rx="2.2" ry="2.1" fill="#c0c0c0" opacity="0.75"/>
<ellipse cx="587.8" cy="141.0" rx="0.8" ry="0.5" fill="#8c8c8c" opacity="0.75"/>
<ellipse cx="468.3" cy="85.5" rx="0.8" ry="0.8" fill="#c0c0c0" opacity="0.75"/>
<ellipse cx="660.0" cy="90.5" rx="1.4" ry="1.0" fill="#262626" opacity="0.75"/>
<ellipse cx="516.8" cy="83.0" rx="0.8" ry="0.8" fill="#8c8c8c" opacity="0.75"/>
<ellipse cx="567.1" cy="49.1" rx="2.1" ry="1.2" fill="#262626" opacity="0.75"/>
<ellipse cx="558.8" cy="99.8" rx="1.5" ry="1.0" fill="#c0c0c0" opacity="0.75"/>
<ellipse cx="620.3" cy="139.0" rx="1.7" ry="1.5" fill="#a0a0a0" opacity="0.75"/>
<ellipse cx="532.0" cy="128.4" rx="1.0" ry="0.7" fill="#8c8c8c" opacity="0.75"/>
<ellipse cx="661.0" cy="130.1" rx="2.1" ry="1.8" fill="#262626" opacity="0.75"/>
<ellipse cx="577.4" cy="23.7" rx="1.5" ry="1.0" fill="#262626" opacity="0.75"/>
<ellipse cx="513.2" cy="65.6" rx="1.4" ry="0.9" fill="#262626" opacity="0.75"/>
<ellipse cx="590.6" cy="133.4" rx="1.9" ry="1.9" fill="#262626" opacity="0.75"/>
<ellipse cx="492.0" cy="152.9" rx="1.3" ry="1.3" fill="#262626" opacity="0.75"/>
<ellipse cx="564.3" cy="101.9" rx="0.9" ry="0.8" fill="#262626" opacity="0.75"/>
<ellipse cx="555.7" cy="126.4" rx="1.8" ry="1.0" fill="#8c8c8c" opacity="0.75"/>
<ellipse cx="619.1" cy="109.7" rx="1.7" ry="1.1" fill="#8c8c8c" opacity="0.75"/>
<ellipse cx="571.6" cy="152.9" rx="1.0" ry="0.6" fill="#a0a0a0" opacity="0.75"/>
<ellipse cx="578.6" cy="116.2" rx="0.9" ry="0.7" fill="#b4b4b4" opacity="0.75"/>
<ellipse cx="464.7" cy="93.2" rx="1.0" ry="0.9" fill="#a0a0a0" opacity="0.75"/>
<ellipse cx="479.2" cy="168.2" rx="1.4" ry="0.7" fill="#c0c0c0" opacity="0.75"/>
<ellipse cx="553.3" cy="79.4" rx="1.6" ry="1.0" fill="#c0c0c0" opacity="0.75"/>
<ellipse cx="606.1" cy="78.5" rx="1.2" ry="1.1" fill="#262626" opacity="0.75"/>
<ellipse cx="637.1" cy="126.0" rx="1.5" ry="1.1" fill="#a0a0a0" opacity="0.75"/>
<ellipse cx="519.0" cy="66.6" rx="1.4" ry="0.9" fill="#c0c0c0" opacity="0.75"/>
<ellipse cx="529.5" cy="41.5" rx="1.3" ry="1.0" fill="#c0c0c0" opacity="0.75"/>
<ellipse cx="533.2" cy="43.5" rx="1.6" ry="1.1" fill="#c0c0c0" opacity="0.75"/>
<ellipse cx="497.6" cy="42.1" rx="0.7" ry="0.5" fill="#a0a0a0" opacity="0.75"/>
<ellipse cx="524.1" cy="160.4" rx="1.5" ry="1.2" fill="#262626" opacity="0.75"/>
<ellipse cx="642.3" cy="78.8" rx="1.3" ry="1.0" fill="#b4b4b4" opacity="0.75"/>
<ellipse cx="556.2" cy="129.0" rx="1.2" ry="1.0" fill="#b4b4b4" opacity="0.75"/>
<ellipse cx="510.3" cy="170.1" rx="1.4" ry="0.7" fill="#8c8c8c" opacity="0.75"/>
<ellipse cx="653.5" cy="68.4" rx="2.1" ry="1.5" fill="#b4b4b4" opacity="0.75"/>
<ellipse cx="481.5" cy="115.9" rx="1.3" ry="0.7" fill="#262626" opacity="0.75"/>
<ellipse cx="484.5" cy="81.3" rx="1.4" ry="0.9" fill="#c0c0c0" opacity="0.75"/>
<ellipse cx="651.5" cy="140.1" rx="1.0" ry="0.9" fill="#262626" opacity="0.75"/>
<ellipse cx="606.8" cy="65.1" rx="1.4" ry="1.1" fill="#8c8c8c" opacity="0.75"/>
<ellipse cx="636.5" cy="155.0" rx="2.0" ry="1.8" fill="#a0a0a0" opacity="0.75"/>
<ellipse cx="518.8" cy="102.6" rx="1.1" ry="1.0" fill="#262626" opacity="0.75"/>
<ellipse cx="461.6" cy="74.8" rx="1.7" ry="1.0" fill="#c0c0c0" opacity="0.75"/>
<ellipse cx="456.6" cy="105.5" rx="1.7" ry="1.6" fill="#a0a0a0" opacity="0.75"/>
<ellipse cx="570.0" cy="24.2" rx="1.8" ry="1.5" fill="#8c8c8c" opacity="0.75"/>
<ellipse cx="600.0" cy="165.9" rx="1.6" ry="1.2" fill="#8c8c8c" opacity="0.75"/>
<ellipse cx="598.6" cy="130.7" rx="2.0" ry="1.9" fill="#8c8c8c" opacity="0.75"/>
<ellipse cx="469.8" cy="148.3" rx="1.7" ry="1.4" fill="#8c8c8c" opacity="0.75"/>
<ellipse cx="591.5" cy="93.3" rx="1.1" ry="0.8" fill="#b4b4b4" opacity="0.75"/>
<ellipse cx="570.8" cy="97.1" rx="1.1" ry="0.8" fill="#b4b4b4" opacity="0.75"/>
<rect x="456" y="22" width="229" height="151" filter="url(#grain2)"/>
<rect x="456" y="22" width="229" height="151" filter="url(#grain2w)"/>
<path d="M453.2,62.0 L453.5,63.4 L454.6,64.5 L455.6,64.7 L456.4,65.6 L456.5,66.0 L457.4,66.9 L457.6,67.0 L459.0,68.5 L459.1,68.8 L460.0,69.6 L460.1,69.7 L461.0,70.7 L461.3,71.9 L462.3,72.9 L462.9,73.0 L462.8,73.5 L463.2,75.1 L464.4,76.3 L465.3,76.5 L465.7,77.1 L465.9,78.0 L466.8,78.8 L468.2,81.1 L469.0,81.9 L470.1,82.1 L471.1,81.8 L471.9,81.0 L472.1,79.9 L471.8,78.9 L470.3,76.5 L470.0,75.6 L469.2,74.7 L468.9,74.3 L469.1,73.5 L468.7,72.0 L467.5,70.8 L466.5,70.5 L466.3,70.3 L466.0,69.1 L465.0,68.1 L464.2,67.9 L463.2,66.8 L463.1,66.5 L462.2,65.7 L462.1,65.7 L460.7,64.1 L460.6,63.7 L459.7,62.8 L459.5,62.7 L458.8,62.0 L458.8,62.0 L458.5,60.6 L457.4,59.5 L456.0,59.2 L454.6,59.5 L453.5,60.6 L453.2,62.0Z" fill="#7a7a7a" fill-opacity="0.25" stroke="#e0cc14" stroke-width="0.95" stroke-dasharray="1.1,0.8"/>
<path d="M505.8,67.0 L505.5,67.3 L505.3,67.3 L504.4,68.2 L504.4,68.3 L504.0,68.7 L503.8,68.6 L502.3,69.0 L501.2,70.1 L500.9,71.4 L500.3,72.0 L500.1,72.0 L499.4,72.7 L498.7,73.3 L494.8,76.1 L494.6,76.1 L494.3,76.5 L492.9,77.4 L492.8,77.4 L491.5,77.7 L490.6,78.7 L490.5,79.0 L490.0,78.9 L488.4,79.3 L487.3,80.4 L486.9,82.0 L487.3,83.6 L488.4,84.7 L490.0,85.1 L491.6,84.7 L492.7,83.6 L493.0,82.6 L494.1,82.3 L495.1,81.3 L495.2,80.9 L496.5,80.0 L496.8,79.9 L497.1,79.6 L501.2,76.7 L501.4,76.6 L502.2,75.9 L502.3,75.8 L503.1,75.1 L503.7,74.5 L503.8,74.6 L505.3,74.2 L506.4,73.1 L506.7,71.8 L507.3,71.3 L507.5,71.3 L508.4,70.4 L508.4,70.3 L508.7,70.1 L509.0,70.2 L510.6,69.7 L511.7,68.6 L512.2,67.0 L511.7,65.4 L510.6,64.3 L509.0,63.8 L507.4,64.3 L506.3,65.4 L505.8,67.0 L505.8,67.0Z" fill="#7a7a7a" fill-opacity="0.25" stroke="#e0cc14" stroke-width="0.95" stroke-dasharray="1.1,0.8"/>
<path d="M460.1,57.4 L461.9,59.8 L461.9,60.1 L462.3,61.5 L463.3,62.5 L464.1,62.8 L464.5,63.4 L464.6,63.7 L465.3,64.4 L469.2,69.7 L469.0,70.3 L469.4,71.8 L470.6,73.0 L471.4,73.2 L471.4,73.3 L471.7,74.2 L472.3,74.8 L472.8,75.7 L472.7,75.8 L473.1,77.0 L474.0,77.9 L474.0,77.9 L475.8,81.2 L475.8,81.3 L476.2,82.5 L477.0,83.3 L477.3,83.9 L477.3,84.0 L477.6,85.3 L478.5,86.2 L478.6,86.2 L480.2,89.0 L480.7,89.6 L483.3,91.7 L483.5,92.4 L484.5,93.4 L485.5,93.7 L485.7,94.5 L486.8,95.6 L488.3,96.0 L488.5,95.9 L490.2,97.3 L490.6,98.5 L491.7,99.6 L492.7,99.9 L492.9,100.5 L494.1,101.7 L495.7,102.1 L496.0,102.0 L496.9,103.0 L498.3,103.4 L499.2,103.1 L499.4,103.2 L500.0,103.8 L501.3,104.2 L501.6,104.1 L503.1,104.7 L503.1,104.7 L503.2,104.8 L506.0,105.9 L506.0,105.9 L506.2,105.9 L507.4,106.4 L507.5,106.7 L508.6,107.8 L510.0,108.2 L511.1,107.9 L511.2,107.9 L511.4,108.0 L514.9,109.1 L514.9,109.1 L515.5,109.3 L517.0,109.8 L517.7,110.5 L519.0,110.8 L519.7,110.6 L520.6,111.5 L522.0,111.9 L522.7,111.7 L523.6,112.6 L525.0,113.0 L526.1,112.7 L526.7,112.8 L526.9,113.0 L528.0,113.3 L528.1,113.3 L528.9,113.6 L529.7,114.3 L531.0,114.6 L532.3,114.3 L533.3,113.3 L533.6,112.0 L533.3,110.7 L532.3,109.7 L531.0,109.4 L530.2,109.6 L529.3,109.3 L529.1,109.1 L528.0,108.8 L527.9,108.8 L527.5,108.7 L527.5,108.7 L526.4,107.6 L525.0,107.2 L524.1,107.5 L523.4,106.8 L522.0,106.4 L521.0,106.7 L521.0,106.6 L520.3,105.9 L519.0,105.6 L518.3,105.8 L517.1,105.4 L517.1,105.4 L516.5,105.2 L512.7,104.0 L512.6,104.0 L512.6,103.7 L511.5,102.7 L510.0,102.3 L509.0,102.5 L508.2,102.2 L508.2,102.2 L508.0,102.1 L505.3,101.1 L505.3,101.0 L505.1,101.0 L503.1,100.2 L502.5,99.6 L501.3,99.2 L500.9,99.3 L500.8,99.3 L500.8,99.1 L499.7,98.1 L498.5,97.8 L498.4,97.3 L497.3,96.2 L496.0,95.8 L495.9,95.4 L494.7,94.3 L493.2,93.9 L492.9,94.0 L491.2,92.6 L490.9,91.5 L489.8,90.5 L488.3,90.1 L488.3,90.1 L488.2,89.7 L487.2,88.7 L485.8,88.4 L485.8,88.4 L483.6,86.6 L482.3,84.2 L482.3,84.0 L482.0,82.8 L481.1,81.8 L481.0,81.8 L480.7,81.3 L480.7,81.3 L480.4,80.1 L479.5,79.2 L477.6,75.8 L477.7,75.8 L477.3,74.5 L476.4,73.6 L476.4,73.6 L475.9,72.8 L475.7,71.8 L475.1,71.2 L475.0,71.1 L475.3,70.3 L474.8,68.7 L473.7,67.6 L472.6,67.3 L468.6,61.9 L468.5,61.5 L467.9,60.9 L467.5,60.3 L467.6,60.1 L467.2,58.7 L466.2,57.6 L465.4,57.4 L463.6,55.0 L463.3,53.7 L462.3,52.7 L461.0,52.4 L459.7,52.7 L458.7,53.7 L458.4,55.0 L458.7,56.3 L459.7,57.3 L460.1,57.4Z" fill="#7a7a7a" fill-opacity="0.25" stroke="#e0cc14" stroke-width="0.95" stroke-dasharray="1.1,0.8"/>
<path d="M514.4,71.5 L515.4,72.4 L515.2,73.1 L515.6,74.6 L516.7,75.7 L517.1,75.8 L517.1,75.9 L517.0,76.2 L517.3,77.5 L518.0,78.1 L518.4,79.1 L518.3,79.3 L518.7,80.5 L519.2,81.1 L523.4,88.3 L523.7,89.2 L524.4,89.9 L524.8,90.7 L524.7,91.0 L525.1,92.3 L526.1,93.3 L526.4,93.3 L528.3,96.0 L528.1,96.5 L528.5,98.0 L529.6,99.1 L530.6,99.4 L530.9,100.5 L531.8,101.5 L532.1,101.6 L532.6,102.2 L532.8,103.2 L533.8,104.2 L535.0,104.5 L536.2,104.2 L537.1,103.3 L537.8,104.1 L539.0,104.4 L540.2,104.1 L541.1,103.2 L541.4,102.0 L541.4,101.9 L541.9,101.0 L542.8,100.1 L543.1,98.8 L543.0,98.6 L543.1,98.6 L543.7,98.4 L544.9,97.2 L545.3,95.7 L545.1,94.7 L546.0,94.9 L547.5,94.5 L547.9,94.1 L549.2,94.4 L550.7,94.0 L551.4,93.4 L553.9,93.0 L554.2,93.3 L555.7,93.7 L557.3,93.3 L558.1,92.5 L559.0,92.7 L560.3,92.3 L560.5,92.0 L562.1,91.8 L562.2,91.9 L562.6,91.8 L564.0,91.6 L564.1,91.7 L565.5,92.1 L566.9,91.7 L567.5,91.1 L568.1,91.0 L568.7,91.2 L569.9,90.9 L570.0,90.8 L570.2,90.8 L570.5,91.0 L572.0,91.4 L573.5,91.0 L574.2,90.2 L574.9,90.1 L575.2,90.2 L576.4,89.9 L576.5,89.8 L576.7,89.8 L576.9,89.9 L578.4,90.3 L580.0,89.9 L580.8,89.1 L581.6,89.3 L583.0,88.9 L583.6,88.3 L584.2,88.5 L584.2,88.5 L585.2,89.6 L586.6,89.9 L586.6,89.9 L587.9,91.0 L588.0,91.1 L588.0,91.1 L588.6,91.6 L589.3,92.2 L589.4,92.6 L590.2,93.5 L590.6,93.6 L592.8,95.8 L592.8,96.0 L593.2,97.6 L594.4,98.7 L596.0,99.2 L596.0,99.1 L596.1,99.5 L597.0,100.4 L597.6,100.6 L597.6,100.6 L598.0,102.0 L599.1,103.0 L600.4,103.4 L603.2,106.1 L603.2,106.2 L603.5,106.5 L606.6,110.1 L606.9,111.3 L607.9,112.3 L608.6,112.4 L608.9,113.8 L610.0,114.8 L611.0,115.1 L611.5,115.7 L611.5,115.9 L612.4,116.8 L612.4,116.8 L613.2,117.7 L613.4,118.5 L614.4,119.4 L614.8,119.5 L615.4,120.2 L615.6,120.9 L616.5,121.8 L616.9,121.9 L617.0,122.1 L617.0,122.1 L617.4,123.5 L618.4,124.5 L619.3,124.8 L622.4,128.4 L623.3,129.0 L624.4,129.1 L625.4,128.6 L626.0,127.7 L626.1,126.6 L625.6,125.6 L622.6,122.1 L622.6,122.1 L622.2,120.7 L621.2,119.7 L620.3,119.5 L620.1,119.2 L619.9,118.4 L619.0,117.5 L618.5,117.4 L618.0,116.8 L617.8,116.0 L616.9,115.1 L616.4,114.9 L615.5,113.9 L615.4,113.7 L614.6,112.9 L614.6,112.8 L614.2,112.4 L614.2,112.4 L613.9,110.9 L612.8,109.9 L611.9,109.7 L611.6,108.6 L610.6,107.6 L609.9,107.4 L607.0,104.1 L606.9,104.0 L606.6,103.7 L606.6,103.6 L606.5,103.5 L603.4,100.4 L603.0,99.1 L602.0,98.0 L600.6,97.6 L600.6,97.6 L600.4,97.0 L599.5,96.1 L599.1,96.0 L599.2,96.0 L598.7,94.4 L597.6,93.2 L596.0,92.8 L595.8,92.8 L593.6,90.6 L593.5,90.2 L592.6,89.4 L592.2,89.3 L591.5,88.5 L591.3,88.4 L590.2,87.4 L590.1,87.4 L590.1,87.4 L589.5,86.8 L590.1,86.2 L590.4,85.0 L590.1,83.8 L589.2,82.9 L588.0,82.6 L586.8,82.9 L586.6,83.2 L586.3,83.2 L586.3,83.2 L586.0,83.1 L585.5,82.6 L584.5,82.4 L584.3,81.5 L583.2,80.4 L581.6,79.9 L581.6,80.0 L581.5,79.6 L580.5,78.6 L579.6,78.4 L579.3,77.3 L578.3,76.3 L577.6,76.1 L577.2,74.8 L576.3,73.8 L575.8,73.7 L575.8,73.6 L575.4,72.2 L574.4,71.1 L573.5,70.9 L572.0,69.0 L572.2,68.5 L571.8,66.9 L570.6,65.8 L569.2,65.4 L569.0,65.1 L568.9,64.9 L568.1,64.1 L567.0,63.8 L565.9,64.1 L565.1,64.9 L564.8,66.0 L565.1,67.1 L565.6,67.6 L565.9,68.0 L565.8,68.5 L566.2,70.1 L567.4,71.3 L568.8,71.7 L570.2,73.4 L570.1,73.6 L570.5,75.0 L571.6,76.0 L572.3,76.3 L572.7,77.4 L573.6,78.4 L574.2,78.6 L574.2,78.6 L574.2,78.7 L574.6,80.0 L575.6,81.0 L576.3,81.2 L576.3,81.3 L576.6,81.6 L576.8,82.3 L577.8,83.3 L578.7,83.5 L578.9,84.2 L578.4,84.1 L576.9,84.5 L575.7,85.7 L575.7,85.7 L575.5,85.7 L575.2,85.7 L574.1,86.0 L574.1,86.0 L573.7,86.1 L573.5,85.8 L572.0,85.4 L570.5,85.8 L569.7,86.6 L569.4,86.6 L568.7,86.4 L567.5,86.8 L567.4,86.9 L567.0,86.9 L566.9,86.8 L565.5,86.5 L564.1,86.8 L563.5,87.4 L562.4,87.6 L562.2,87.5 L561.8,87.6 L560.0,87.9 L559.0,87.6 L557.7,87.9 L557.5,88.2 L557.3,87.9 L555.7,87.5 L554.2,87.9 L553.3,88.8 L550.8,89.2 L550.7,89.0 L549.2,88.7 L547.9,89.0 L548.0,88.9 L548.7,88.7 L549.7,87.8 L549.9,86.8 L550.7,86.0 L551.0,85.9 L551.9,85.0 L552.0,84.5 L552.3,84.2 L553.7,83.8 L554.8,82.7 L555.1,81.6 L556.2,81.3 L557.3,80.2 L557.7,78.6 L557.7,78.4 L557.8,78.2 L558.2,78.1 L559.1,77.2 L559.5,76.0 L559.1,74.8 L558.2,73.9 L557.0,73.5 L555.8,73.9 L554.9,74.8 L554.7,75.4 L554.6,75.5 L554.6,75.5 L553.0,75.9 L551.9,77.1 L551.5,78.4 L550.7,78.6 L549.6,79.7 L549.2,81.2 L549.2,81.4 L548.9,81.7 L548.6,81.8 L547.7,82.6 L547.6,83.2 L546.8,84.0 L546.1,84.2 L545.2,85.2 L544.9,86.1 L544.5,86.6 L544.1,87.0 L544.1,87.1 L543.1,88.0 L542.8,89.3 L542.8,89.6 L541.3,92.7 L540.6,92.9 L539.4,94.1 L539.0,95.7 L539.3,96.7 L538.4,97.6 L538.1,98.8 L538.1,99.0 L537.6,100.1 L537.1,100.7 L536.2,99.8 L536.0,99.8 L535.6,99.2 L535.3,98.0 L534.4,97.0 L534.1,97.0 L534.2,96.5 L533.8,95.0 L532.7,93.9 L531.7,93.6 L530.0,91.2 L530.0,91.0 L529.7,89.6 L528.7,88.7 L528.4,88.6 L528.0,87.8 L527.7,86.9 L527.1,86.2 L523.1,79.4 L523.1,79.3 L522.8,78.1 L522.3,77.6 L521.9,76.6 L522.0,76.2 L521.6,75.0 L521.0,74.3 L521.0,74.3 L521.3,73.1 L520.9,71.6 L519.8,70.5 L520.0,70.0 L519.6,68.5 L518.5,67.4 L517.0,67.0 L515.5,67.4 L514.4,68.5 L514.0,70.0 L514.4,71.5Z" fill="#7a7a7a" fill-opacity="0.25" stroke="#e0cc14" stroke-width="0.95" stroke-dasharray="1.1,0.8"/>
<path d="M457.6,92.2 L456.0,91.8 L454.4,92.2 L453.2,93.4 L452.8,95.0 L453.2,96.6 L454.4,97.8 L456.0,98.2 L457.6,97.8 L458.7,96.7 L459.9,96.5 L460.0,96.5 L460.5,96.4 L464.0,95.8 L464.1,95.8 L464.1,95.8 L467.9,95.1 L475.5,97.0 L475.6,97.0 L476.0,97.1 L476.5,97.0 L476.6,97.0 L476.7,97.0 L477.1,96.9 L477.4,96.5 L477.5,96.5 L477.6,96.4 L477.9,96.1 L478.0,95.6 L478.0,95.5 L478.0,95.4 L478.1,95.0 L478.0,94.5 L478.0,94.4 L478.0,94.3 L477.9,93.9 L477.5,93.6 L477.5,93.5 L477.4,93.4 L477.1,93.1 L476.6,93.0 L476.5,93.0 L468.5,91.0 L467.7,90.9 L464.1,91.5 L464.1,91.5 L464.0,91.5 L460.1,92.2 L460.0,92.1 L459.5,92.3 L457.9,92.6 L457.6,92.2Z" fill="#7a7a7a" fill-opacity="0.25" stroke="#e0cc14" stroke-width="0.95" stroke-dasharray="1.1,0.8"/>
<path d="M483.1,100.9 L483.1,100.4 L483.4,99.2 L483.1,98.0 L483.1,96.0 L482.8,95.0 L482.1,94.2 L481.0,93.9 L479.9,94.2 L479.2,95.0 L478.9,96.0 L478.9,98.0 L478.6,99.2 L478.9,100.4 L478.9,100.9 L478.7,101.1 L478.3,102.5 L478.7,103.8 L478.9,104.1 L478.9,110.4 L478.6,110.8 L478.2,112.2 L478.6,113.6 L478.6,113.6 L478.5,113.7 L478.2,114.1 L477.8,115.3 L478.1,116.2 L477.9,117.2 L477.7,117.3 L477.4,118.5 L477.5,119.0 L477.4,119.7 L476.8,120.3 L476.4,121.7 L476.7,122.6 L475.9,123.3 L475.5,124.9 L475.9,126.4 L476.1,126.6 L475.9,127.6 L476.0,128.0 L475.9,128.1 L476.0,128.3 L476.1,128.8 L477.0,131.0 L477.0,131.0 L477.3,132.2 L477.6,132.5 L478.0,133.5 L477.9,134.0 L478.2,135.3 L479.2,136.3 L479.0,137.0 L479.3,138.4 L480.4,139.4 L480.5,139.5 L480.7,140.0 L480.7,140.0 L481.0,141.1 L481.9,142.0 L483.0,142.3 L484.1,142.0 L485.0,141.1 L485.3,140.0 L485.0,138.9 L484.7,138.6 L484.3,137.8 L484.5,137.0 L484.2,135.6 L483.1,134.6 L483.0,134.6 L483.0,134.6 L483.2,134.0 L482.8,132.7 L481.8,131.7 L481.5,131.1 L481.6,131.0 L481.2,129.9 L480.9,129.6 L480.2,127.8 L480.2,127.4 L481.3,126.4 L481.7,124.9 L481.3,123.4 L481.6,123.1 L481.9,121.7 L481.6,120.4 L481.7,119.9 L481.8,119.7 L482.1,118.5 L482.0,118.0 L482.2,117.0 L482.6,116.6 L482.9,115.3 L482.7,114.5 L482.7,114.2 L483.4,113.6 L483.8,112.2 L483.4,110.8 L483.1,110.5 L483.1,104.1 L483.3,103.8 L483.7,102.5 L483.3,101.1 L483.1,100.9Z" fill="#7a7a7a" fill-opacity="0.25" stroke="#e0cc14" stroke-width="0.95" stroke-dasharray="1.1,0.8"/>
<path d="M518.1,142.1 L518.2,142.2 L519.1,143.8 L519.0,144.0 L519.3,145.3 L520.2,146.2 L519.9,147.1 L520.3,148.7 L521.5,149.8 L521.9,149.9 L521.8,150.1 L522.2,151.5 L523.2,152.5 L523.5,152.6 L523.7,153.2 L523.7,153.2 L524.1,154.4 L524.6,154.9 L525.0,155.8 L525.1,155.8 L524.9,156.3 L525.3,157.6 L525.7,158.0 L526.1,159.4 L526.0,159.6 L526.3,160.8 L526.5,160.9 L526.6,161.3 L526.6,161.3 L526.1,162.9 L526.6,164.4 L527.3,165.2 L527.1,166.2 L527.5,167.7 L528.6,168.9 L528.8,168.9 L528.9,169.2 L528.8,169.4 L529.1,170.6 L529.3,170.8 L529.7,172.2 L529.6,172.7 L529.9,174.0 L530.4,174.4 L531.0,176.6 L531.0,176.7 L531.1,177.1 L531.5,177.4 L531.5,177.5 L531.6,177.6 L531.9,177.9 L532.4,178.0 L532.5,178.0 L532.6,178.0 L533.0,178.1 L533.5,178.0 L533.6,178.0 L533.7,178.0 L534.1,177.9 L534.4,177.5 L534.5,177.5 L534.6,177.4 L534.9,177.1 L535.0,176.6 L535.0,176.5 L535.0,176.4 L535.1,176.0 L535.0,175.5 L535.0,175.4 L534.4,173.3 L534.6,172.7 L534.2,171.5 L533.8,171.0 L533.4,169.7 L533.4,169.4 L533.1,168.3 L532.9,168.1 L532.8,167.8 L532.9,167.7 L533.3,166.2 L532.9,164.6 L532.1,163.9 L532.4,162.9 L532.0,161.3 L530.8,160.2 L530.7,160.2 L530.6,159.8 L530.6,159.6 L530.3,158.5 L530.1,158.3 L529.7,156.8 L529.8,156.3 L529.5,155.1 L529.1,154.7 L529.0,154.4 L528.9,154.1 L528.4,153.2 L528.5,153.2 L528.1,152.0 L527.6,151.5 L527.2,150.7 L527.3,150.1 L527.0,148.8 L526.0,147.8 L526.2,147.1 L525.7,145.5 L524.6,144.4 L524.0,144.2 L524.1,144.0 L523.7,142.8 L522.8,141.9 L522.8,141.8 L521.9,140.2 L521.9,139.9 L521.1,139.1 L520.0,138.8 L518.9,139.1 L518.1,139.9 L517.8,141.0 L518.1,142.1Z" fill="#7a7a7a" fill-opacity="0.25" stroke="#e0cc14" stroke-width="0.95" stroke-dasharray="1.1,0.8"/>
<path d="M513.5,166.5 L513.2,166.4 L511.7,166.8 L510.6,167.9 L510.4,168.6 L508.9,169.0 L507.8,170.1 L507.5,171.3 L505.1,173.3 L505.0,173.3 L503.6,173.6 L502.6,174.6 L502.3,176.0 L502.6,177.4 L503.6,178.4 L505.0,178.7 L506.4,178.4 L507.4,177.4 L507.6,176.6 L510.1,174.6 L510.5,174.7 L512.0,174.3 L513.1,173.1 L513.3,172.5 L514.7,172.1 L515.7,171.0 L516.0,171.1 L516.1,171.1 L516.7,171.4 L516.7,171.7 L517.7,172.7 L519.0,173.0 L519.2,173.0 L522.3,174.8 L522.4,175.5 L523.5,176.6 L525.0,177.0 L526.5,176.6 L527.6,175.5 L528.0,174.0 L527.6,172.5 L526.5,171.4 L525.0,171.0 L524.4,171.2 L521.3,169.4 L521.3,169.1 L520.3,168.1 L519.0,167.8 L518.8,167.8 L518.2,167.5 L518.2,167.3 L517.3,166.4 L516.0,166.1 L515.8,166.1 L514.9,165.9 L513.7,166.4 L513.5,166.5Z" fill="#7a7a7a" fill-opacity="0.25" stroke="#e0cc14" stroke-width="0.95" stroke-dasharray="1.1,0.8"/>
<path d="M589.5,58.4 L590.6,59.5 L591.6,59.8 L591.9,60.9 L593.0,61.9 L594.0,62.2 L596.0,64.5 L596.0,64.6 L596.4,66.2 L597.5,67.3 L599.0,67.7 L599.3,68.0 L599.4,68.3 L600.2,69.2 L600.5,69.3 L600.5,69.3 L600.3,69.4 L599.2,70.5 L599.2,70.5 L598.6,70.7 L598.0,70.5 L596.8,70.8 L595.8,71.8 L595.5,73.0 L595.8,74.2 L596.8,75.2 L598.0,75.5 L599.2,75.2 L599.7,74.7 L600.3,74.6 L600.3,74.6 L601.8,75.0 L603.3,74.6 L604.1,73.8 L604.7,74.5 L604.7,74.5 L608.3,79.3 L609.2,79.9 L610.3,80.1 L611.3,79.7 L611.9,78.8 L612.1,77.7 L611.7,76.7 L608.7,72.7 L609.4,72.9 L610.9,72.5 L611.9,71.5 L612.9,71.2 L613.2,71.3 L614.4,71.0 L614.6,70.8 L616.4,70.3 L617.0,70.5 L618.2,70.2 L619.2,69.2 L619.5,68.0 L619.2,66.8 L618.2,65.8 L617.0,65.5 L615.8,65.8 L615.3,66.3 L613.5,66.8 L613.2,66.7 L612.0,67.0 L611.8,67.2 L610.8,67.5 L609.4,67.1 L607.9,67.5 L606.9,68.5 L606.3,68.6 L606.2,68.3 L605.2,67.2 L604.0,66.9 L603.5,66.4 L603.4,66.0 L602.6,65.1 L602.3,65.1 L602.1,64.8 L602.1,64.6 L601.7,63.1 L600.6,62.0 L599.1,61.6 L597.1,59.4 L596.7,58.2 L595.7,57.1 L594.8,56.9 L594.5,55.6 L593.4,54.5 L592.0,54.1 L590.6,54.5 L589.5,55.6 L589.1,57.0 L589.5,58.4Z" fill="#7a7a7a" fill-opacity="0.25" stroke="#e0cc14" stroke-width="0.95" stroke-dasharray="1.1,0.8"/>
<path d="M615.1,93.1 L615.9,93.9 L617.0,94.2 L617.1,94.2 L618.1,94.5 L619.2,95.5 L620.7,95.9 L622.1,95.6 L626.3,96.7 L626.7,97.2 L628.0,97.5 L629.3,97.2 L630.2,96.3 L630.5,95.0 L630.2,93.7 L629.3,92.8 L628.0,92.5 L627.4,92.7 L623.2,91.5 L622.1,90.5 L620.7,90.1 L619.2,90.4 L618.2,90.1 L618.1,90.1 L617.0,89.8 L615.9,90.1 L615.1,90.9 L614.8,92.0 L615.1,93.1Z" fill="#7a7a7a" fill-opacity="0.25" stroke="#e0cc14" stroke-width="0.95" stroke-dasharray="1.1,0.8"/>
<path d="M623.0,104.0 L623.4,105.5 L623.9,106.0 L623.9,106.0 L623.4,106.5 L623.0,108.0 L623.4,109.5 L623.9,110.0 L623.9,110.5 L623.7,110.7 L623.4,112.0 L623.7,113.3 L623.9,113.5 L623.9,113.8 L623.3,114.4 L622.9,116.0 L623.3,117.6 L623.9,118.2 L623.9,118.2 L623.5,118.6 L623.2,120.0 L623.5,121.4 L624.6,122.5 L626.0,122.8 L627.4,122.5 L628.5,121.4 L628.8,120.0 L628.5,118.6 L628.1,118.2 L628.1,118.2 L628.7,117.6 L629.1,116.0 L628.7,114.4 L628.1,113.8 L628.1,113.5 L628.3,113.3 L628.6,112.0 L628.3,110.7 L628.1,110.5 L628.1,110.0 L628.6,109.5 L629.0,108.0 L628.6,106.5 L628.1,106.0 L628.1,106.0 L628.6,105.5 L629.0,104.0 L628.6,102.5 L627.5,101.4 L626.0,101.0 L624.5,101.4 L623.4,102.5 L623.0,104.0Z" fill="#7a7a7a" fill-opacity="0.25" stroke="#e0cc14" stroke-width="0.95" stroke-dasharray="1.1,0.8"/>
</g>
<text x="577" y="142.2" font-size="13.2" font-weight="bold" text-anchor="middle" fill="#f2de12">CNFs networks</text>
<rect x="641" y="155" width="31.3" height="8.8" fill="#fff"/>
<text x="656.6" y="148.9" font-size="17.3" font-weight="bold" text-anchor="middle" fill="#fff">5 μm</text>
<text x="0.5" y="403.3" font-size="18.3" font-weight="bold" fill="#111">(f)</text>
<rect x="36" y="384.2" width="170.6" height="258.0" fill="none" stroke="#ee9614" stroke-width="2.4" stroke-dasharray="10.5,7.9"/>
<rect x="491.4" y="387" width="184.6" height="106.2" fill="none" stroke="#ee9614" stroke-width="2.4" stroke-dasharray="10.5,7.9"/>
<rect x="491.4" y="514" width="184.6" height="128.2" fill="none" stroke="#ee9614" stroke-width="2.4" stroke-dasharray="10.5,7.9"/>
<path d="M50.9,439.8 C55.8,440.3 70.1,441.6 80.0,443.0 C89.9,444.4 98.8,445.8 110.5,448.5 C122.2,451.2 138.0,455.5 150.0,459.0 C162.0,462.5 177.0,467.8 182.4,469.6" fill="none" stroke="#4a5c78" stroke-width="6.6" stroke-linecap="round" transform="translate(0.3,0.6)"/>
<path d="M50.9,439.8 C55.8,440.3 70.1,441.6 80.0,443.0 C89.9,444.4 98.8,445.8 110.5,448.5 C122.2,451.2 138.0,455.5 150.0,459.0 C162.0,462.5 177.0,467.8 182.4,469.6" fill="none" stroke="#7d94b3" stroke-width="5.8" stroke-linecap="round"/>
<path d="M50.9,439.8 C55.8,440.3 70.1,441.6 80.0,443.0 C89.9,444.4 98.8,445.8 110.5,448.5 C122.2,451.2 138.0,455.5 150.0,459.0 C162.0,462.5 177.0,467.8 182.4,469.6" fill="none" stroke="#c9d8ea" stroke-width="1.9" stroke-linecap="round" transform="translate(0,-1.2)"/>
<path d="M62.8,473.4 C67.3,470.8 80.0,463.0 90.0,458.0 C100.0,453.0 112.5,447.9 122.9,443.6 C133.3,439.3 147.7,434.3 152.7,432.4" fill="none" stroke="#5d7190" stroke-width="6.9" stroke-linecap="round" transform="translate(0.3,0.6)"/>
<path d="M62.8,473.4 C67.3,470.8 80.0,463.0 90.0,458.0 C100.0,453.0 112.5,447.9 122.9,443.6 C133.3,439.3 147.7,434.3 152.7,432.4" fill="none" stroke="#9cb4d2" stroke-width="6.1" stroke-linecap="round"/>
<path d="M62.8,473.4 C67.3,470.8 80.0,463.0 90.0,458.0 C100.0,453.0 112.5,447.9 122.9,443.6 C133.3,439.3 147.7,434.3 152.7,432.4" fill="none" stroke="#c9d8ea" stroke-width="2.0" stroke-linecap="round" transform="translate(0,-1.2)"/>
<path d="M70.7,456.0 C73.2,452.3 80.2,441.1 85.6,433.6 C91.0,426.2 100.1,415.0 103.0,411.3" fill="none" stroke="#5d7190" stroke-width="6.6" stroke-linecap="round" transform="translate(0.3,0.6)"/>
<path d="M70.7,456.0 C73.2,452.3 80.2,441.1 85.6,433.6 C91.0,426.2 100.1,415.0 103.0,411.3" fill="none" stroke="#9cb4d2" stroke-width="5.8" stroke-linecap="round"/>
<path d="M70.7,456.0 C73.2,452.3 80.2,441.1 85.6,433.6 C91.0,426.2 100.1,415.0 103.0,411.3" fill="none" stroke="#c9d8ea" stroke-width="1.9" stroke-linecap="round" transform="translate(0,-1.2)"/>
<path d="M86.9,403.9 C88.4,406.8 92.9,414.2 95.6,421.2 C98.3,428.2 100.1,438.1 103.0,446.0 C105.9,453.9 110.5,461.8 113.0,468.4 C115.5,475.0 117.1,482.9 117.9,485.8" fill="none" stroke="#4a5c78" stroke-width="6.6" stroke-linecap="round" transform="translate(0.3,0.6)"/>
<path d="M86.9,403.9 C88.4,406.8 92.9,414.2 95.6,421.2 C98.3,428.2 100.1,438.1 103.0,446.0 C105.9,453.9 110.5,461.8 113.0,468.4 C115.5,475.0 117.1,482.9 117.9,485.8" fill="none" stroke="#7d94b3" stroke-width="5.8" stroke-linecap="round"/>
<path d="M86.9,403.9 C88.4,406.8 92.9,414.2 95.6,421.2 C98.3,428.2 100.1,438.1 103.0,446.0 C105.9,453.9 110.5,461.8 113.0,468.4 C115.5,475.0 117.1,482.9 117.9,485.8" fill="none" stroke="#c9d8ea" stroke-width="1.9" stroke-linecap="round" transform="translate(0,-1.2)"/>
<path d="M42.2,425.0 C47.4,423.9 61.8,420.6 73.2,418.7 C84.6,416.8 98.1,414.4 110.5,413.8 C122.9,413.2 136.9,415.2 147.7,415.0 C158.4,414.8 166.7,413.7 175.0,412.5 C183.3,411.3 193.6,408.4 197.3,407.6" fill="none" stroke="#5d7190" stroke-width="6.9" stroke-linecap="round" transform="translate(0.3,0.6)"/>
<path d="M42.2,425.0 C47.4,423.9 61.8,420.6 73.2,418.7 C84.6,416.8 98.1,414.4 110.5,413.8 C122.9,413.2 136.9,415.2 147.7,415.0 C158.4,414.8 166.7,413.7 175.0,412.5 C183.3,411.3 193.6,408.4 197.3,407.6" fill="none" stroke="#9cb4d2" stroke-width="6.1" stroke-linecap="round"/>
<path d="M42.2,425.0 C47.4,423.9 61.8,420.6 73.2,418.7 C84.6,416.8 98.1,414.4 110.5,413.8 C122.9,413.2 136.9,415.2 147.7,415.0 C158.4,414.8 166.7,413.7 175.0,412.5 C183.3,411.3 193.6,408.4 197.3,407.6" fill="none" stroke="#c9d8ea" stroke-width="2.0" stroke-linecap="round" transform="translate(0,-1.2)"/>
<path d="M42.2,440.6 C47.4,439.7 61.8,436.7 73.2,434.9 C84.6,433.1 98.1,430.5 110.5,429.9 C122.9,429.3 136.9,430.8 147.7,431.2 C158.4,431.6 165.5,432.4 175.0,432.4 C184.5,432.4 199.8,431.4 204.8,431.2" fill="none" stroke="#5d7190" stroke-width="6.9" stroke-linecap="round" transform="translate(0.3,0.6)"/>
<path d="M42.2,440.6 C47.4,439.7 61.8,436.7 73.2,434.9 C84.6,433.1 98.1,430.5 110.5,429.9 C122.9,429.3 136.9,430.8 147.7,431.2 C158.4,431.6 165.5,432.4 175.0,432.4 C184.5,432.4 199.8,431.4 204.8,431.2" fill="none" stroke="#9cb4d2" stroke-width="6.1" stroke-linecap="round"/>
<path d="M42.2,440.6 C47.4,439.7 61.8,436.7 73.2,434.9 C84.6,433.1 98.1,430.5 110.5,429.9 C122.9,429.3 136.9,430.8 147.7,431.2 C158.4,431.6 165.5,432.4 175.0,432.4 C184.5,432.4 199.8,431.4 204.8,431.2" fill="none" stroke="#c9d8ea" stroke-width="2.0" stroke-linecap="round" transform="translate(0,-1.2)"/>
<path d="M140.2,389.0 C139.0,392.3 134.9,399.3 132.8,408.8 C130.7,418.3 130.5,434.8 127.8,446.0 C125.1,457.2 118.5,470.8 116.7,475.8" fill="none" stroke="#5d7190" stroke-width="6.9" stroke-linecap="round" transform="translate(0.3,0.6)"/>
<path d="M140.2,389.0 C139.0,392.3 134.9,399.3 132.8,408.8 C130.7,418.3 130.5,434.8 127.8,446.0 C125.1,457.2 118.5,470.8 116.7,475.8" fill="none" stroke="#9cb4d2" stroke-width="6.1" stroke-linecap="round"/>
<path d="M140.2,389.0 C139.0,392.3 134.9,399.3 132.8,408.8 C130.7,418.3 130.5,434.8 127.8,446.0 C125.1,457.2 118.5,470.8 116.7,475.8" fill="none" stroke="#c9d8ea" stroke-width="2.0" stroke-linecap="round" transform="translate(0,-1.2)"/>
<path d="M162.6,387.7 C161.3,393.3 158.0,410.2 155.1,421.2 C152.2,432.2 147.7,445.2 145.2,453.5 C142.7,461.8 141.0,468.0 140.2,470.9" fill="none" stroke="#5d7190" stroke-width="6.9" stroke-linecap="round" transform="translate(0.3,0.6)"/>
<path d="M162.6,387.7 C161.3,393.3 158.0,410.2 155.1,421.2 C152.2,432.2 147.7,445.2 145.2,453.5 C142.7,461.8 141.0,468.0 140.2,470.9" fill="none" stroke="#9cb4d2" stroke-width="6.1" stroke-linecap="round"/>
<path d="M162.6,387.7 C161.3,393.3 158.0,410.2 155.1,421.2 C152.2,432.2 147.7,445.2 145.2,453.5 C142.7,461.8 141.0,468.0 140.2,470.9" fill="none" stroke="#c9d8ea" stroke-width="2.0" stroke-linecap="round" transform="translate(0,-1.2)"/>
<path d="M73.8,422.5 C76.2,425.2 85.7,439.3 88.4,438.9 C91.1,438.5 87.8,421.0 90.1,420.2 C92.4,419.4 99.8,434.9 102.4,434.2 C105.0,433.5 103.9,417.5 105.9,416.1 C107.9,414.7 112.8,424.0 114.2,425.6" fill="none" stroke="#ee9614" stroke-width="2.4" stroke-linejoin="round" stroke-linecap="round"/><path d="M118.1,430.1 L110.5,426.7 L115.8,422.1Z" fill="#ee9614"/>
<path d="M93.6,458.0 C95.3,459.8 101.3,469.6 104.0,468.5 C106.7,467.4 107.0,452.2 110.0,451.5 C113.0,450.8 119.5,465.3 122.0,464.0 C124.5,462.7 123.0,445.9 125.0,443.5 C127.0,441.1 132.5,448.6 134.0,449.6" fill="none" stroke="#ee9614" stroke-width="2.4" stroke-linejoin="round" stroke-linecap="round"/><path d="M139.0,453.0 L130.8,451.7 L134.8,445.9Z" fill="#ee9614"/>
<path d="M154.0,456.7 C157.5,455.4 174.2,451.4 175.0,448.8 C175.8,446.2 158.4,443.3 158.8,440.9 C159.2,438.5 177.2,437.1 177.7,434.3 C178.1,431.5 162.0,426.1 161.5,423.8 C161.0,421.5 172.3,421.0 174.5,420.5" fill="none" stroke="#ee9614" stroke-width="2.4" stroke-linejoin="round" stroke-linecap="round"/><path d="M180.3,419.0 L173.9,424.2 L172.2,417.5Z" fill="#ee9614"/>
<text x="111.3" y="514.4" font-size="14.7" font-weight="bold" text-anchor="middle" fill="#111">Multiple scattering</text>
<text x="70.7" y="531.7" font-size="14.7" font-weight="bold" fill="#111"><tspan font-weight="normal">&amp;</tspan> <tspan dx="2">Reflection</tspan></text>
<linearGradient id="hl" x1="0" y1="0" x2="0" y2="1"><stop offset="0" stop-color="#252525"/><stop offset="0.3" stop-color="#383838"/><stop offset="1" stop-color="#4e4e4e"/></linearGradient>
<path d="M64.1,541 L85.4,538.5 L169.8,541.8 L168.9,628.7 L155.6,639.1 L67.3,624.9Z" fill="#424242"/>
<path d="M157,544 L169.8,541.8 L168.9,628.7 L155.6,639.1Z" fill="#353535"/>
<circle cx="82.5" cy="557.5" r="11.4" fill="url(#hl)"/>
<circle cx="135.7" cy="568" r="14.2" fill="url(#hl)"/>
<circle cx="103.4" cy="585" r="12.5" fill="url(#hl)"/>
<circle cx="85.4" cy="610.7" r="12" fill="url(#hl)"/>
<circle cx="130.9" cy="613.5" r="13" fill="url(#hl)"/>
<path d="M70.1,561.2 L82.5,545.5 M78.6,547.1 L82.5,545.5 M81.9,549.7 L82.5,545.5" fill="none" stroke="#f0a020" stroke-width="1.3" stroke-linecap="round" stroke-linejoin="round"/>
<path d="M85.4,548.4 L92.0,566.3 M92.7,562.2 L92.0,566.3 M88.8,563.6 L92.0,566.3" fill="none" stroke="#f0a020" stroke-width="1.3" stroke-linecap="round" stroke-linejoin="round"/>
<path d="M128.0,559.0 L146.0,565.0 M143.2,561.9 L146.0,565.0 M141.9,565.8 L146.0,565.0" fill="none" stroke="#f0a020" stroke-width="1.3" stroke-linecap="round" stroke-linejoin="round"/>
<path d="M146.0,572.0 L128.0,578.0 M132.1,578.8 L128.0,578.0 M130.8,574.9 L128.0,578.0" fill="none" stroke="#f0a020" stroke-width="1.3" stroke-linecap="round" stroke-linejoin="round"/>
<path d="M110.6,579.8 L98.9,579.8 M102.5,581.9 L98.9,579.8 M102.5,577.7 L98.9,579.8" fill="none" stroke="#f0a020" stroke-width="1.3" stroke-linecap="round" stroke-linejoin="round"/>
<path d="M95.3,578.3 L101.5,596.6 M102.3,592.5 L101.5,596.6 M98.3,593.8 L101.5,596.6" fill="none" stroke="#f0a020" stroke-width="1.3" stroke-linecap="round" stroke-linejoin="round"/>
<path d="M104.4,596.6 L114.6,587.4 M110.5,588.3 L114.6,587.4 M113.3,591.4 L114.6,587.4" fill="none" stroke="#f0a020" stroke-width="1.3" stroke-linecap="round" stroke-linejoin="round"/>
<path d="M92.0,601.0 L74.0,606.0 M78.1,607.0 L74.0,606.0 M76.9,603.0 L74.0,606.0" fill="none" stroke="#f0a020" stroke-width="1.3" stroke-linecap="round" stroke-linejoin="round"/>
<path d="M74.0,606.0 L85.0,622.0 M84.7,617.8 L85.0,622.0 M81.2,620.2 L85.0,622.0" fill="none" stroke="#f0a020" stroke-width="1.3" stroke-linecap="round" stroke-linejoin="round"/>
<path d="M88.0,621.0 L95.0,606.0 M91.6,608.4 L95.0,606.0 M95.4,610.2 L95.0,606.0" fill="none" stroke="#f0a020" stroke-width="1.3" stroke-linecap="round" stroke-linejoin="round"/>
<path d="M141.0,611.0 L124.0,604.0 M126.6,607.3 L124.0,604.0 M128.2,603.4 L124.0,604.0" fill="none" stroke="#f0a020" stroke-width="1.3" stroke-linecap="round" stroke-linejoin="round"/>
<path d="M133.0,626.0 L146.0,615.0 M141.9,615.7 L146.0,615.0 M144.6,619.0 L146.0,615.0" fill="none" stroke="#f0a020" stroke-width="1.3" stroke-linecap="round" stroke-linejoin="round"/>
<linearGradient id="redg" gradientUnits="userSpaceOnUse" x1="219" y1="0" x2="297" y2="0"><stop offset="0" stop-color="#ff2a2a" stop-opacity="0"/><stop offset="0.45" stop-color="#ff3838" stop-opacity="0.6"/><stop offset="1" stop-color="#ff1010" stop-opacity="0.92"/></linearGradient>
<path d="M223,451.7 L297.2,482 L297.2,497 L223,466.2Z" fill="url(#redg)"/>
<path d="M220.5,463 L297.2,494.5 L297.2,509.5 L220.5,477.5Z" fill="url(#redg)"/>
<path d="M219,474.5 L297.2,507 L297.2,522 L219,489.0Z" fill="url(#redg)"/>
<linearGradient id="blug" gradientUnits="userSpaceOnUse" x1="297" y1="0" x2="231" y2="0"><stop offset="0" stop-color="#2e3294" stop-opacity="0.9"/><stop offset="0.5" stop-color="#6a6cb8" stop-opacity="0.55"/><stop offset="1" stop-color="#9a9cd4" stop-opacity="0"/></linearGradient>
<path d="M297.2,524 L232,542 L232,550.5 L297.2,533.5Z" fill="url(#blug)"/>
<path d="M297.2,532 L233,548.5 L233,557.0 L297.2,541.5Z" fill="url(#blug)"/>
<path d="M297.2,540.5 L235,553 L235,561.5 L297.2,550.0Z" fill="url(#blug)"/>
<linearGradient id="grg" gradientUnits="userSpaceOnUse" x1="425" y1="557" x2="478" y2="590"><stop offset="0" stop-color="#14ab50"/><stop offset="0.5" stop-color="#3cbb70" stop-opacity="0.8"/><stop offset="1" stop-color="#a0e0b8" stop-opacity="0"/></linearGradient>
<path d="M433.4,550.5 L482,579 L469,598 L421.8,565Z" fill="url(#grg)"/>
<path d="M297,459 L340.4,439.2 L441.6,447.9 L437.6,545.6 L408.7,585 L297,565.3Z" fill="#585858"/>
<path d="M297,459 L410,469 L441.6,447.9" fill="none" stroke="#505050" stroke-width="0.8"/>
<path d="M410,469 L408.7,585" fill="none" stroke="#4e4e4e" stroke-width="0.8"/>
<path d="M410,469 L441.6,447.9 L437.6,545.6 L408.7,585Z" fill="#525252"/>
<radialGradient id="sp" cx="50%" cy="55%" r="52%"><stop offset="0" stop-color="#464646"/><stop offset="0.75" stop-color="#333"/><stop offset="1" stop-color="#2c2c2c"/></radialGradient>
<circle cx="328.6" cy="474.7" r="11.8" fill="url(#sp)" opacity="0.85"/>
<circle cx="345.7" cy="456.3" r="10.5" fill="url(#sp)" opacity="0.85"/>
<circle cx="365.4" cy="449.7" r="10" fill="url(#sp)" opacity="0.85"/>
<circle cx="361.5" cy="476" r="10.5" fill="url(#sp)" opacity="0.85"/>
<circle cx="382.5" cy="465.5" r="10.5" fill="url(#sp)" opacity="0.85"/>
<circle cx="398.2" cy="476" r="9.2" fill="url(#sp)" opacity="0.85"/>
<circle cx="414" cy="462.8" r="10.5" fill="url(#sp)" opacity="0.85"/>
<circle cx="431" cy="469.4" r="9.2" fill="url(#sp)" opacity="0.85"/>
<circle cx="354.9" cy="497" r="10.5" fill="url(#sp)" opacity="0.85"/>
<circle cx="377.2" cy="494.4" r="10.5" fill="url(#sp)" opacity="0.85"/>
<circle cx="390.4" cy="499.6" r="10.5" fill="url(#sp)" opacity="0.85"/>
<circle cx="421.9" cy="497" r="11.8" fill="url(#sp)" opacity="0.85"/>
<circle cx="332.5" cy="519.3" r="9.2" fill="url(#sp)" opacity="0.85"/>
<circle cx="374.6" cy="514" r="10.5" fill="url(#sp)" opacity="0.85"/>
<circle cx="385.1" cy="523.3" r="10.5" fill="url(#sp)" opacity="0.85"/>
<circle cx="416.6" cy="522" r="10.5" fill="url(#sp)" opacity="0.85"/>
<circle cx="322" cy="532.5" r="11.8" fill="url(#sp)" opacity="0.85"/>
<circle cx="344.4" cy="543" r="10.5" fill="url(#sp)" opacity="0.85"/>
<circle cx="368" cy="539" r="11.8" fill="url(#sp)" opacity="0.85"/>
<circle cx="336.5" cy="531" r="9.2" fill="url(#sp)" opacity="0.85"/>
<circle cx="399.8" cy="460.7" r="8" fill="url(#sp)" opacity="0.85"/>
<clipPath id="cubeclip"><path d="M297,459 L340.4,439.2 L441.6,447.9 L437.6,545.6 L408.7,585 L297,565.3Z"/></clipPath>
<path d="M318,548.3 C328,530 340,516 350.7,509.7" fill="none" stroke="#1f6e7c" stroke-width="1.3"/>
<path d="M371.8,479.4 C374,485 375.5,490 375.3,495.7" fill="none" stroke="#1f6e7c" stroke-width="1.3"/>
<path d="M385.8,479.4 C388,485 389.5,490 389.3,495.7" fill="none" stroke="#1f6e7c" stroke-width="1.3"/>
<path d="M388,458.4 C402,465 414,480 416,500.4" fill="none" stroke="#1f6e7c" stroke-width="1.3"/>
<path d="M382.3,530.8 C392,515 400,503 411.5,493.4" fill="none" stroke="#1f6e7c" stroke-width="1.3"/>
<path d="M383.4,501.6 C396,510 406,525 410.3,542.5" fill="none" stroke="#1f6e7c" stroke-width="1.3"/>
<path d="M360,507.4 C364,504 369,503 374,502.7" fill="none" stroke="#1f6e7c" stroke-width="1.3"/>
<linearGradient id="ca1" gradientUnits="userSpaceOnUse" x1="490.7" y1="418.0" x2="424.0" y2="383.0"><stop offset="0" stop-color="#c27a0c"/><stop offset="1" stop-color="#d88a10"/></linearGradient><path d="M493.4,417.6 L493.1,415.7 L492.7,413.6 L492.2,411.7 L491.6,409.8 L490.9,407.9 L490.1,406.1 L489.2,404.4 L488.2,402.7 L487.1,401.1 L486.0,399.6 L484.8,398.1 L483.5,396.6 L482.1,395.2 L480.7,393.9 L479.1,392.7 L477.6,391.5 L475.9,390.4 L474.2,389.3 L472.4,388.3 L470.6,387.4 L468.7,386.5 L466.8,385.7 L464.8,385.0 L462.7,384.3 L460.6,383.7 L458.5,383.1 L456.3,382.6 L454.0,382.2 L451.7,381.9 L449.4,381.6 L447.0,381.4 L444.6,381.2 L442.1,381.1 L439.6,381.1 L437.1,381.1 L434.5,381.2 L431.9,381.4 L429.3,381.7 L426.6,382.0 L423.9,382.4 L424.1,383.6 L426.8,383.3 L429.4,383.1 L432.0,383.0 L434.6,382.9 L437.1,382.9 L439.6,382.9 L442.0,383.1 L444.4,383.3 L446.8,383.5 L449.1,383.8 L451.3,384.2 L453.5,384.7 L455.7,385.2 L457.8,385.7 L459.8,386.4 L461.8,387.1 L463.7,387.8 L465.6,388.6 L467.3,389.5 L469.1,390.4 L470.7,391.3 L472.3,392.3 L473.8,393.4 L475.3,394.5 L476.7,395.7 L478.0,396.9 L479.2,398.1 L480.3,399.4 L481.4,400.8 L482.4,402.2 L483.3,403.6 L484.2,405.1 L484.9,406.6 L485.6,408.1 L486.2,409.7 L486.7,411.3 L487.2,413.0 L487.5,414.7 L487.8,416.5 L488.0,418.4Z" fill="url(#ca1)"/>
<linearGradient id="ca1b" gradientUnits="userSpaceOnUse" x1="424.0" y1="383.0" x2="377.8" y2="415.5"><stop offset="0" stop-color="#f0960f"/><stop offset="1" stop-color="#f0960f"/></linearGradient><path d="M423.9,382.4 L422.1,382.7 L420.3,383.0 L418.6,383.3 L416.9,383.6 L415.2,384.0 L413.5,384.4 L411.9,384.9 L410.3,385.4 L408.7,385.9 L407.2,386.4 L405.7,387.0 L404.2,387.6 L402.8,388.2 L401.3,388.9 L400.0,389.6 L398.6,390.3 L397.3,391.0 L396.0,391.8 L394.7,392.6 L393.5,393.4 L392.2,394.2 L391.1,395.1 L389.9,396.0 L388.8,396.9 L387.7,397.8 L386.6,398.8 L385.6,399.8 L384.6,400.8 L383.6,401.8 L382.7,402.8 L381.8,403.9 L380.9,405.0 L380.0,406.0 L379.2,407.2 L378.4,408.3 L377.6,409.4 L376.9,410.6 L376.2,411.7 L375.5,412.9 L374.9,414.1 L380.7,416.9 L381.2,415.8 L381.7,414.6 L382.2,413.5 L382.8,412.4 L383.3,411.4 L384.0,410.3 L384.6,409.2 L385.3,408.2 L386.0,407.1 L386.7,406.1 L387.5,405.0 L388.2,404.0 L389.1,403.0 L389.9,402.1 L390.8,401.1 L391.7,400.1 L392.7,399.2 L393.7,398.3 L394.7,397.4 L395.7,396.5 L396.8,395.6 L398.0,394.8 L399.1,393.9 L400.3,393.1 L401.5,392.3 L402.8,391.6 L404.1,390.8 L405.4,390.1 L406.8,389.4 L408.2,388.8 L409.6,388.1 L411.1,387.5 L412.6,386.9 L414.1,386.3 L415.7,385.8 L417.3,385.3 L418.9,384.8 L420.6,384.4 L422.3,384.0 L424.1,383.6Z" fill="url(#ca1b)"/>
<path d="M373.1,443.3 L367.3,417.6 L373.7,416.5 L381.9,414.1 L386.5,413.5Z" fill="#f0960f"/>
<linearGradient id="ca2" gradientUnits="userSpaceOnUse" x1="192.3" y1="587.2" x2="252.0" y2="622.5"><stop offset="0" stop-color="#c27a0c"/><stop offset="1" stop-color="#d88a10"/></linearGradient><path d="M189.2,588.0 L189.6,589.6 L190.2,591.3 L190.9,592.9 L191.7,594.5 L192.5,596.0 L193.5,597.5 L194.5,598.9 L195.5,600.3 L196.7,601.7 L197.9,603.0 L199.1,604.3 L200.5,605.5 L201.8,606.7 L203.3,607.8 L204.8,608.9 L206.3,610.0 L207.9,611.0 L209.5,611.9 L211.2,612.9 L212.9,613.8 L214.6,614.6 L216.4,615.4 L218.2,616.2 L220.0,616.9 L221.9,617.6 L223.8,618.3 L225.7,618.9 L227.7,619.5 L229.6,620.0 L231.6,620.5 L233.6,620.9 L235.6,621.4 L237.7,621.7 L239.7,622.0 L241.7,622.3 L243.8,622.6 L245.8,622.8 L247.9,622.9 L249.9,623.0 L252.0,623.1 L252.0,621.9 L250.0,621.7 L248.0,621.5 L246.0,621.2 L244.0,620.9 L242.0,620.5 L240.0,620.1 L238.1,619.6 L236.1,619.1 L234.2,618.6 L232.3,618.1 L230.4,617.5 L228.5,616.8 L226.7,616.1 L224.9,615.4 L223.1,614.7 L221.3,613.9 L219.6,613.1 L217.9,612.2 L216.3,611.3 L214.7,610.4 L213.2,609.4 L211.7,608.5 L210.2,607.4 L208.8,606.4 L207.5,605.3 L206.2,604.2 L205.0,603.1 L203.9,601.9 L202.8,600.8 L201.7,599.6 L200.8,598.3 L199.9,597.1 L199.1,595.8 L198.3,594.5 L197.7,593.2 L197.1,591.9 L196.6,590.6 L196.1,589.2 L195.8,587.9 L195.4,586.4Z" fill="url(#ca2)"/>
<linearGradient id="ca2b" gradientUnits="userSpaceOnUse" x1="252.0" y1="622.5" x2="309.5" y2="589.0"><stop offset="0" stop-color="#f0960f"/><stop offset="1" stop-color="#f0960f"/></linearGradient><path d="M252.0,623.1 L253.7,623.2 L255.5,623.2 L257.2,623.1 L259.0,623.0 L260.8,622.9 L262.5,622.6 L264.3,622.3 L266.0,622.0 L267.7,621.6 L269.5,621.1 L271.2,620.6 L272.9,620.1 L274.6,619.5 L276.3,618.8 L278.0,618.1 L279.7,617.4 L281.3,616.6 L282.9,615.8 L284.6,614.9 L286.2,614.0 L287.7,613.1 L289.3,612.2 L290.8,611.2 L292.3,610.1 L293.8,609.1 L295.3,608.0 L296.7,606.9 L298.1,605.8 L299.5,604.6 L300.8,603.5 L302.1,602.3 L303.4,601.1 L304.7,599.9 L305.9,598.6 L307.1,597.4 L308.2,596.1 L309.3,594.8 L310.4,593.6 L311.4,592.3 L312.4,591.0 L306.6,587.0 L305.8,588.3 L305.0,589.5 L304.1,590.8 L303.2,592.1 L302.3,593.3 L301.3,594.6 L300.3,595.8 L299.2,597.0 L298.1,598.3 L297.0,599.5 L295.8,600.7 L294.6,601.9 L293.4,603.0 L292.1,604.2 L290.8,605.3 L289.5,606.4 L288.2,607.5 L286.8,608.5 L285.4,609.6 L284.0,610.6 L282.5,611.5 L281.1,612.5 L279.6,613.4 L278.1,614.2 L276.5,615.1 L275.0,615.9 L273.4,616.6 L271.9,617.3 L270.3,618.0 L268.7,618.6 L267.0,619.2 L265.4,619.7 L263.8,620.2 L262.1,620.6 L260.5,621.0 L258.8,621.3 L257.1,621.5 L255.4,621.7 L253.7,621.8 L252.0,621.9Z" fill="url(#ca2b)"/>
<path d="M314.6,560.1 L300.1,590.7 L305.8,589.8 L313.3,587.7 L319.8,586.3Z" fill="#f0960f"/>
<linearGradient id="ca3" gradientUnits="userSpaceOnUse" x1="490.7" y1="600.7" x2="433.0" y2="634.6"><stop offset="0" stop-color="#c27a0c"/><stop offset="1" stop-color="#d88a10"/></linearGradient><path d="M487.5,600.3 L487.3,602.1 L487.1,603.7 L486.7,605.3 L486.3,606.9 L485.8,608.4 L485.3,609.9 L484.6,611.3 L483.9,612.7 L483.1,614.0 L482.3,615.3 L481.4,616.5 L480.4,617.8 L479.3,618.9 L478.2,620.1 L477.0,621.2 L475.7,622.2 L474.4,623.2 L473.0,624.2 L471.6,625.1 L470.1,625.9 L468.5,626.8 L467.0,627.6 L465.3,628.3 L463.6,629.0 L461.9,629.6 L460.2,630.2 L458.4,630.8 L456.5,631.3 L454.7,631.8 L452.8,632.2 L450.9,632.6 L449.0,632.9 L447.0,633.2 L445.1,633.5 L443.1,633.7 L441.1,633.8 L439.1,633.9 L437.1,634.0 L435.0,634.0 L433.0,634.0 L433.0,635.2 L435.0,635.3 L437.0,635.5 L439.1,635.5 L441.1,635.5 L443.2,635.5 L445.2,635.4 L447.2,635.3 L449.3,635.2 L451.3,635.0 L453.2,634.7 L455.2,634.4 L457.2,634.0 L459.1,633.6 L461.0,633.2 L462.9,632.7 L464.8,632.1 L466.6,631.5 L468.4,630.9 L470.1,630.1 L471.8,629.4 L473.5,628.6 L475.2,627.7 L476.7,626.7 L478.3,625.7 L479.8,624.7 L481.2,623.6 L482.6,622.4 L483.9,621.1 L485.2,619.8 L486.4,618.4 L487.5,617.0 L488.6,615.5 L489.6,613.9 L490.5,612.3 L491.3,610.6 L492.0,608.8 L492.6,606.9 L493.2,605.0 L493.6,603.1 L493.9,601.1Z" fill="url(#ca3)"/>
<linearGradient id="ca3b" gradientUnits="userSpaceOnUse" x1="433.0" y1="634.6" x2="377.0" y2="602.0"><stop offset="0" stop-color="#f0960f"/><stop offset="1" stop-color="#f0960f"/></linearGradient><path d="M433.1,634.0 L431.0,633.7 L429.0,633.4 L427.0,633.0 L425.0,632.6 L423.1,632.2 L421.2,631.7 L419.3,631.2 L417.5,630.6 L415.7,630.0 L414.0,629.4 L412.3,628.7 L410.6,628.1 L408.9,627.3 L407.3,626.6 L405.8,625.8 L404.3,625.0 L402.8,624.2 L401.3,623.4 L399.9,622.5 L398.6,621.6 L397.2,620.7 L396.0,619.7 L394.7,618.8 L393.5,617.8 L392.4,616.8 L391.2,615.8 L390.2,614.7 L389.1,613.7 L388.1,612.6 L387.2,611.6 L386.3,610.5 L385.4,609.4 L384.6,608.3 L383.8,607.2 L383.1,606.1 L382.4,604.9 L381.8,603.8 L381.2,602.7 L380.6,601.6 L380.1,600.4 L373.9,603.6 L374.6,604.8 L375.4,606.1 L376.2,607.3 L377.1,608.5 L378.0,609.7 L379.0,610.9 L379.9,612.0 L381.0,613.2 L382.1,614.3 L383.2,615.4 L384.3,616.5 L385.5,617.5 L386.8,618.6 L388.0,619.6 L389.3,620.5 L390.7,621.5 L392.1,622.4 L393.5,623.3 L394.9,624.2 L396.4,625.1 L398.0,625.9 L399.5,626.7 L401.1,627.5 L402.7,628.2 L404.4,628.9 L406.1,629.6 L407.8,630.2 L409.6,630.8 L411.3,631.4 L413.2,631.9 L415.0,632.4 L416.9,632.9 L418.8,633.3 L420.7,633.7 L422.7,634.1 L424.7,634.4 L426.7,634.6 L428.8,634.9 L430.8,635.1 L432.9,635.2Z" fill="url(#ca3b)"/>
<path d="M372.5,574.2 L367.3,599.6 L373.4,601.3 L380.8,603.1 L386.1,603.5Z" fill="#f0960f"/>
<clipPath id="rfclip"><rect x="513.5" y="385" width="140.5" height="85"/></clipPath><g clip-path="url(#rfclip)">
<path d="M510.0,401.2 C515.0,401.6 529.2,402.1 540.0,403.7 C550.8,405.3 563.3,408.0 575.0,410.7 C586.7,413.4 596.2,416.9 610.0,420.0 C623.8,423.1 650.0,427.5 658.0,429.0" fill="none" stroke="#5d7190" stroke-width="5.8" stroke-linecap="round" transform="translate(0.3,0.6)"/>
<path d="M510.0,401.2 C515.0,401.6 529.2,402.1 540.0,403.7 C550.8,405.3 563.3,408.0 575.0,410.7 C586.7,413.4 596.2,416.9 610.0,420.0 C623.8,423.1 650.0,427.5 658.0,429.0" fill="none" stroke="#9cb4d2" stroke-width="5.0" stroke-linecap="round"/>
<path d="M510.0,401.2 C515.0,401.6 529.2,402.1 540.0,403.7 C550.8,405.3 563.3,408.0 575.0,410.7 C586.7,413.4 596.2,416.9 610.0,420.0 C623.8,423.1 650.0,427.5 658.0,429.0" fill="none" stroke="#c9d8ea" stroke-width="1.6" stroke-linecap="round" transform="translate(0,-1.0)"/>
<path d="M510.0,406.5 C515.0,407.6 531.1,410.0 540.0,413.0 C548.9,416.0 555.6,421.2 563.4,424.7 C571.2,428.2 579.0,431.3 586.8,434.0 C594.6,436.7 599.3,438.5 610.0,441.0 C620.7,443.5 644.2,447.8 651.0,449.2" fill="none" stroke="#5d7190" stroke-width="5.8" stroke-linecap="round" transform="translate(0.3,0.6)"/>
<path d="M510.0,406.5 C515.0,407.6 531.1,410.0 540.0,413.0 C548.9,416.0 555.6,421.2 563.4,424.7 C571.2,428.2 579.0,431.3 586.8,434.0 C594.6,436.7 599.3,438.5 610.0,441.0 C620.7,443.5 644.2,447.8 651.0,449.2" fill="none" stroke="#9cb4d2" stroke-width="5.0" stroke-linecap="round"/>
<path d="M510.0,406.5 C515.0,407.6 531.1,410.0 540.0,413.0 C548.9,416.0 555.6,421.2 563.4,424.7 C571.2,428.2 579.0,431.3 586.8,434.0 C594.6,436.7 599.3,438.5 610.0,441.0 C620.7,443.5 644.2,447.8 651.0,449.2" fill="none" stroke="#c9d8ea" stroke-width="1.6" stroke-linecap="round" transform="translate(0,-1.0)"/>
<path d="M510.0,427.8 C517.0,426.5 538.9,422.6 551.7,420.0 C564.5,417.4 575.1,415.4 586.8,411.9 C598.5,408.4 609.9,402.5 621.8,399.0 C633.7,395.5 652.0,392.3 658.0,391.0" fill="none" stroke="#5d7190" stroke-width="5.8" stroke-linecap="round" transform="translate(0.3,0.6)"/>
<path d="M510.0,427.8 C517.0,426.5 538.9,422.6 551.7,420.0 C564.5,417.4 575.1,415.4 586.8,411.9 C598.5,408.4 609.9,402.5 621.8,399.0 C633.7,395.5 652.0,392.3 658.0,391.0" fill="none" stroke="#9cb4d2" stroke-width="5.0" stroke-linecap="round"/>
<path d="M510.0,427.8 C517.0,426.5 538.9,422.6 551.7,420.0 C564.5,417.4 575.1,415.4 586.8,411.9 C598.5,408.4 609.9,402.5 621.8,399.0 C633.7,395.5 652.0,392.3 658.0,391.0" fill="none" stroke="#c9d8ea" stroke-width="1.6" stroke-linecap="round" transform="translate(0,-1.0)"/>
<path d="M522.5,447.0 C527.4,445.4 541.0,440.7 551.7,437.6 C562.4,434.5 575.1,431.1 586.8,428.2 C598.5,425.3 609.9,422.4 621.8,420.0 C633.7,417.6 652.0,414.6 658.0,413.5" fill="none" stroke="#5d7190" stroke-width="5.8" stroke-linecap="round" transform="translate(0.3,0.6)"/>
<path d="M522.5,447.0 C527.4,445.4 541.0,440.7 551.7,437.6 C562.4,434.5 575.1,431.1 586.8,428.2 C598.5,425.3 609.9,422.4 621.8,420.0 C633.7,417.6 652.0,414.6 658.0,413.5" fill="none" stroke="#9cb4d2" stroke-width="5.0" stroke-linecap="round"/>
<path d="M522.5,447.0 C527.4,445.4 541.0,440.7 551.7,437.6 C562.4,434.5 575.1,431.1 586.8,428.2 C598.5,425.3 609.9,422.4 621.8,420.0 C633.7,417.6 652.0,414.6 658.0,413.5" fill="none" stroke="#c9d8ea" stroke-width="1.6" stroke-linecap="round" transform="translate(0,-1.0)"/>
<path d="M527.2,455.0 C533.2,453.3 551.5,448.1 563.4,444.6 C575.3,441.1 586.7,438.5 598.4,434.0 C610.1,429.5 623.6,423.5 633.5,417.7 C643.4,411.9 653.9,402.1 658.0,399.0" fill="none" stroke="#5d7190" stroke-width="5.8" stroke-linecap="round" transform="translate(0.3,0.6)"/>
<path d="M527.2,455.0 C533.2,453.3 551.5,448.1 563.4,444.6 C575.3,441.1 586.7,438.5 598.4,434.0 C610.1,429.5 623.6,423.5 633.5,417.7 C643.4,411.9 653.9,402.1 658.0,399.0" fill="none" stroke="#9cb4d2" stroke-width="5.0" stroke-linecap="round"/>
<path d="M527.2,455.0 C533.2,453.3 551.5,448.1 563.4,444.6 C575.3,441.1 586.7,438.5 598.4,434.0 C610.1,429.5 623.6,423.5 633.5,417.7 C643.4,411.9 653.9,402.1 658.0,399.0" fill="none" stroke="#c9d8ea" stroke-width="1.6" stroke-linecap="round" transform="translate(0,-1.0)"/>
<path d="M579.7,463.2 C582.8,459.9 591.4,449.4 598.4,443.4 C605.4,437.4 613.2,433.1 621.8,427.0 C630.4,420.9 645.3,410.3 650.0,407.0" fill="none" stroke="#5d7190" stroke-width="5.8" stroke-linecap="round" transform="translate(0.3,0.6)"/>
<path d="M579.7,463.2 C582.8,459.9 591.4,449.4 598.4,443.4 C605.4,437.4 613.2,433.1 621.8,427.0 C630.4,420.9 645.3,410.3 650.0,407.0" fill="none" stroke="#9cb4d2" stroke-width="5.0" stroke-linecap="round"/>
<path d="M579.7,463.2 C582.8,459.9 591.4,449.4 598.4,443.4 C605.4,437.4 613.2,433.1 621.8,427.0 C630.4,420.9 645.3,410.3 650.0,407.0" fill="none" stroke="#c9d8ea" stroke-width="1.6" stroke-linecap="round" transform="translate(0,-1.0)"/>
<path d="M510.0,430.5 C520.8,430.7 550.3,431.5 575.0,431.7 C599.7,431.9 644.2,431.7 658.0,431.7" fill="none" stroke="#5d7190" stroke-width="5.8" stroke-linecap="round" transform="translate(0.3,0.6)"/>
<path d="M510.0,430.5 C520.8,430.7 550.3,431.5 575.0,431.7 C599.7,431.9 644.2,431.7 658.0,431.7" fill="none" stroke="#9cb4d2" stroke-width="5.0" stroke-linecap="round"/>
<path d="M510.0,430.5 C520.8,430.7 550.3,431.5 575.0,431.7 C599.7,431.9 644.2,431.7 658.0,431.7" fill="none" stroke="#c9d8ea" stroke-width="1.6" stroke-linecap="round" transform="translate(0,-1.0)"/>
</g>
<line x1="515.5" y1="402.5" x2="543.8" y2="405.8" stroke="#f0a020" stroke-width="2.6"/><path d="M549.4,406.5 L542.1,408.9 L542.8,402.4Z" fill="#f0a020"/>
<line x1="535.4" y1="424.7" x2="556.9" y2="417.2" stroke="#f0a020" stroke-width="2.6"/><path d="M562.2,415.4 L556.7,420.7 L554.6,414.6Z" fill="#f0a020"/>
<line x1="598.4" y1="403.2" x2="618.9" y2="395.2" stroke="#f0a020" stroke-width="2.6"/><path d="M624.1,393.2 L618.8,398.8 L616.4,392.7Z" fill="#f0a020"/>
<line x1="563.4" y1="431.7" x2="591.9" y2="423.9" stroke="#f0a020" stroke-width="2.6"/><path d="M597.3,422.4 L591.4,427.4 L589.7,421.1Z" fill="#f0a020"/>
<line x1="610.1" y1="421.9" x2="635.0" y2="416.5" stroke="#f0a020" stroke-width="2.6"/><path d="M640.5,415.4 L634.3,420.0 L633.0,413.7Z" fill="#f0a020"/>
<line x1="548.2" y1="446.9" x2="566.2" y2="441.5" stroke="#f0a020" stroke-width="2.6"/><path d="M571.6,439.9 L565.8,445.0 L563.9,438.8Z" fill="#f0a020"/>
<line x1="585.6" y1="434.1" x2="616.5" y2="445.0" stroke="#f0a020" stroke-width="2.6"/><path d="M621.8,446.9 L614.1,447.6 L616.3,441.5Z" fill="#f0a020"/>
<text x="589" y="482" font-size="14.6" font-weight="bold" text-anchor="middle" fill="#111">Conductive loss</text>
<path d="M532.4,523.9 L635.6,521 L646.1,525.4 L646.1,612.2 L635.6,621.2 L533.3,610.1Z" fill="#444"/>
<path d="M635.6,521 L646.1,525.4 L646.1,612.2 L635.6,621.2Z" fill="#353535"/>
<path d="M551.2,560.5 C552.0,558.6 553.5,552.1 556.0,549.0 C558.5,545.9 564.6,543.2 566.3,542.0" fill="none" stroke="#7d93b0" stroke-width="7.4" transform="translate(0.4,0.6)"/>
<path d="M551.2,560.5 C552.0,558.6 553.5,552.1 556.0,549.0 C558.5,545.9 564.6,543.2 566.3,542.0" fill="none" stroke="#a6bedc" stroke-width="7"/>
<path d="M551.2,560.5 C552.0,558.6 553.5,552.1 556.0,549.0 C558.5,545.9 564.6,543.2 566.3,542.0" fill="none" stroke="#c6d6ea" stroke-width="2.2" transform="translate(-0.8,-1)"/>
<ellipse cx="551.2" cy="560.5" rx="2" ry="3.6" transform="rotate(-67 551.2 560.5)" fill="#5a6c86"/>
<path d="M588.6,569.7 C588.4,567.8 586.9,561.4 587.5,558.0 C588.1,554.6 591.7,550.9 592.5,549.5" fill="none" stroke="#7d93b0" stroke-width="7.4" transform="translate(0.4,0.6)"/>
<path d="M588.6,569.7 C588.4,567.8 586.9,561.4 587.5,558.0 C588.1,554.6 591.7,550.9 592.5,549.5" fill="none" stroke="#a6bedc" stroke-width="7"/>
<path d="M588.6,569.7 C588.4,567.8 586.9,561.4 587.5,558.0 C588.1,554.6 591.7,550.9 592.5,549.5" fill="none" stroke="#c6d6ea" stroke-width="2.2" transform="translate(-0.8,-1)"/>
<ellipse cx="588.6" cy="569.7" rx="2" ry="3.6" transform="rotate(-95 588.6 569.7)" fill="#5a6c86"/>
<path d="M611.0,587.0 C611.9,585.2 615.8,579.3 616.5,576.0 C617.2,572.7 616.3,569.0 615.5,567.0 C614.7,565.0 612.2,564.5 611.5,564.0" fill="none" stroke="#7d93b0" stroke-width="7.4" transform="translate(0.4,0.6)"/>
<path d="M611.0,587.0 C611.9,585.2 615.8,579.3 616.5,576.0 C617.2,572.7 616.3,569.0 615.5,567.0 C614.7,565.0 612.2,564.5 611.5,564.0" fill="none" stroke="#a6bedc" stroke-width="7"/>
<path d="M611.0,587.0 C611.9,585.2 615.8,579.3 616.5,576.0 C617.2,572.7 616.3,569.0 615.5,567.0 C614.7,565.0 612.2,564.5 611.5,564.0" fill="none" stroke="#c6d6ea" stroke-width="2.2" transform="translate(-0.8,-1)"/>
<ellipse cx="611.0" cy="587.0" rx="2" ry="3.6" transform="rotate(-63 611.0 587.0)" fill="#5a6c86"/>
<path d="M558.4,588.0 C560.0,587.0 564.7,584.0 568.0,582.0 C571.3,580.0 576.4,577.2 578.1,576.2" fill="none" stroke="#7d93b0" stroke-width="7.4" transform="translate(0.4,0.6)"/>
<path d="M558.4,588.0 C560.0,587.0 564.7,584.0 568.0,582.0 C571.3,580.0 576.4,577.2 578.1,576.2" fill="none" stroke="#a6bedc" stroke-width="7"/>
<path d="M558.4,588.0 C560.0,587.0 564.7,584.0 568.0,582.0 C571.3,580.0 576.4,577.2 578.1,576.2" fill="none" stroke="#c6d6ea" stroke-width="2.2" transform="translate(-0.8,-1)"/>
<ellipse cx="558.4" cy="588.0" rx="2" ry="3.6" transform="rotate(-32 558.4 588.0)" fill="#5a6c86"/>
<circle cx="563.6" cy="541.4" r="12.5" fill="none" stroke="#f0a020" stroke-width="2" stroke-dasharray="5.2,3.6"/>
<circle cx="593.2" cy="544.7" r="13" fill="none" stroke="#f0a020" stroke-width="2" stroke-dasharray="5.2,3.6"/>
<circle cx="617.5" cy="571" r="12.5" fill="none" stroke="#f0a020" stroke-width="2" stroke-dasharray="5.2,3.6"/>
<line x1="555.8" y1="552" x2="563.6" y2="555" stroke="#f0a020" stroke-width="1.8"/>
<line x1="584.7" y1="556.5" x2="592.6" y2="558.9" stroke="#f0a020" stroke-width="1.8"/>
<line x1="609.6" y1="580.8" x2="617.5" y2="584.1" stroke="#f0a020" stroke-width="1.8"/>
<text x="594.4" y="636.2" font-size="14.6" font-weight="bold" text-anchor="middle" fill="#111">Interfacial polarization</text>
<linearGradient id="lr" x1="0" x2="1"><stop offset="0" stop-color="#ff2020" stop-opacity="0"/><stop offset="1" stop-color="#ff0a0a"/></linearGradient>
<linearGradient id="lb" x1="0" x2="1"><stop offset="0" stop-color="#3a3c9a" stop-opacity="0.1"/><stop offset="1" stop-color="#2e3090"/></linearGradient>
<linearGradient id="lg" x1="0" x2="1"><stop offset="0" stop-color="#16a854" stop-opacity="0.1"/><stop offset="1" stop-color="#10a34c"/></linearGradient>
<rect x="119.3" y="660.8" width="51.4" height="7" fill="url(#lr)"/>
<text x="174.2" y="671.4" font-size="18.6" font-weight="bold" fill="#111">Incident</text>
<rect x="241.5" y="661.5" width="50.4" height="7" fill="url(#lb)"/>
<text x="294.2" y="671.4" font-size="18.6" font-weight="bold" fill="#111">SE<tspan dy="4" font-size="12.5">R</tspan></text>
<rect x="326.4" y="661.5" width="50.2" height="7" fill="url(#lg)"/>
<text x="379" y="671.4" font-size="18.4" font-weight="bold" fill="#111">Transmitted</text>
<path d="M492.0,675.5 C494.7,673.7 502.3,667.5 508.0,664.5 C513.7,661.5 520.5,658.7 526.0,657.5 C531.5,656.3 538.5,657.5 541.0,657.5" fill="none" stroke="#a3bbd9" stroke-width="5" stroke-linecap="butt"/>
<text x="554.5" y="671.4" font-size="18.3" font-weight="bold" fill="#111">CNFs</text>
</svg>
</body></html>
